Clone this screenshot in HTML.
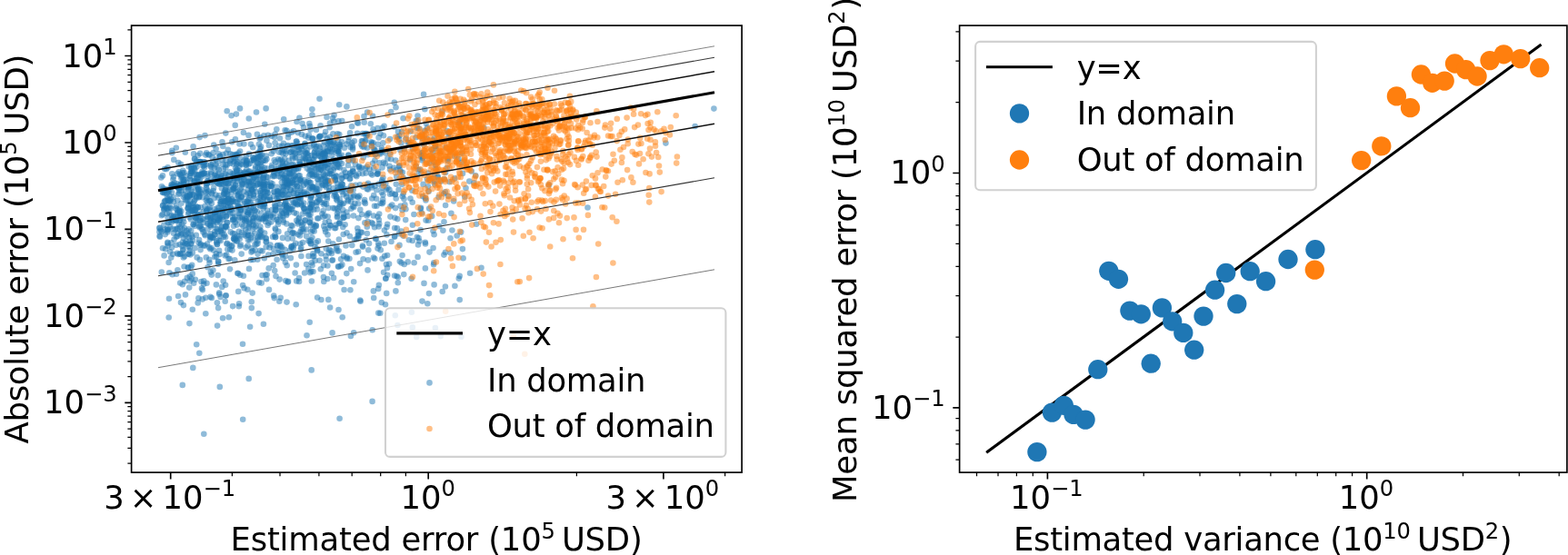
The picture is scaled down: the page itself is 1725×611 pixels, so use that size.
<!DOCTYPE html>
<html lang="en"><head><meta charset="utf-8"><title>Estimated vs. observed error</title>
<style>
html,body{margin:0;padding:0;background:#fff;overflow:hidden}
svg{display:block}
text{font-family:"DejaVu Sans", "Liberation Sans", sans-serif;fill:#000}
</style></head>
<body>
<svg width="1725" height="611" viewBox="0 0 1725 611">
<rect width="1725" height="611" fill="#fff"/>
<defs><clipPath id="cl"><rect x="144.6" y="28.1" width="671.5" height="492"/></clipPath><clipPath id="cr"><rect x="1055.6" y="28.1" width="668.3" height="492"/></clipPath></defs>
<g clip-path="url(#cl)" fill="#1f77b4" fill-opacity="0.5"><circle cx="210.4" cy="267.9" r="3.3"/><circle cx="298.6" cy="205.2" r="3.3"/><circle cx="322.9" cy="187.4" r="3.3"/><circle cx="184.4" cy="266.9" r="3.3"/><circle cx="215.0" cy="181.1" r="3.3"/><circle cx="429.5" cy="227.3" r="3.3"/><circle cx="196.1" cy="326.0" r="3.3"/><circle cx="210.7" cy="184.7" r="3.3"/><circle cx="445.4" cy="225.4" r="3.3"/><circle cx="327.7" cy="146.1" r="3.3"/><circle cx="267.6" cy="177.5" r="3.3"/><circle cx="301.4" cy="190.2" r="3.3"/><circle cx="337.5" cy="369.3" r="3.3"/><circle cx="245.3" cy="170.1" r="3.3"/><circle cx="212.6" cy="223.7" r="3.3"/><circle cx="367.7" cy="194.8" r="3.3"/><circle cx="339.3" cy="170.8" r="3.3"/><circle cx="301.7" cy="328.1" r="3.3"/><circle cx="376.0" cy="170.9" r="3.3"/><circle cx="310.4" cy="280.4" r="3.3"/><circle cx="479.6" cy="186.1" r="3.3"/><circle cx="228.4" cy="252.2" r="3.3"/><circle cx="311.5" cy="242.4" r="3.3"/><circle cx="294.8" cy="235.0" r="3.3"/><circle cx="263.8" cy="262.8" r="3.3"/><circle cx="320.5" cy="271.6" r="3.3"/><circle cx="235.8" cy="185.0" r="3.3"/><circle cx="371.6" cy="154.4" r="3.3"/><circle cx="394.6" cy="191.3" r="3.3"/><circle cx="210.4" cy="185.4" r="3.3"/><circle cx="290.9" cy="224.9" r="3.3"/><circle cx="245.7" cy="309.6" r="3.3"/><circle cx="199.4" cy="232.5" r="3.3"/><circle cx="408.9" cy="157.5" r="3.3"/><circle cx="282.1" cy="173.9" r="3.3"/><circle cx="214.9" cy="231.6" r="3.3"/><circle cx="340.0" cy="237.3" r="3.3"/><circle cx="227.9" cy="268.6" r="3.3"/><circle cx="412.0" cy="226.7" r="3.3"/><circle cx="231.4" cy="221.3" r="3.3"/><circle cx="227.5" cy="230.3" r="3.3"/><circle cx="262.0" cy="241.9" r="3.3"/><circle cx="291.3" cy="136.7" r="3.3"/><circle cx="414.8" cy="191.8" r="3.3"/><circle cx="345.7" cy="158.6" r="3.3"/><circle cx="260.5" cy="188.6" r="3.3"/><circle cx="180.8" cy="212.4" r="3.3"/><circle cx="217.8" cy="235.8" r="3.3"/><circle cx="510.0" cy="128.0" r="3.3"/><circle cx="289.1" cy="241.4" r="3.3"/><circle cx="344.2" cy="193.8" r="3.3"/><circle cx="191.9" cy="201.3" r="3.3"/><circle cx="186.0" cy="328.8" r="3.3"/><circle cx="385.8" cy="217.1" r="3.3"/><circle cx="319.6" cy="191.7" r="3.3"/><circle cx="253.2" cy="179.8" r="3.3"/><circle cx="255.3" cy="219.9" r="3.3"/><circle cx="200.9" cy="266.7" r="3.3"/><circle cx="220.9" cy="228.4" r="3.3"/><circle cx="183.2" cy="212.9" r="3.3"/><circle cx="383.4" cy="155.6" r="3.3"/><circle cx="290.7" cy="184.5" r="3.3"/><circle cx="210.0" cy="268.5" r="3.3"/><circle cx="355.6" cy="166.0" r="3.3"/><circle cx="226.3" cy="345.3" r="3.3"/><circle cx="193.8" cy="260.8" r="3.3"/><circle cx="322.1" cy="198.6" r="3.3"/><circle cx="408.8" cy="159.9" r="3.3"/><circle cx="183.9" cy="229.8" r="3.3"/><circle cx="372.5" cy="293.8" r="3.3"/><circle cx="225.0" cy="184.3" r="3.3"/><circle cx="201.8" cy="202.4" r="3.3"/><circle cx="181.1" cy="186.0" r="3.3"/><circle cx="249.5" cy="250.2" r="3.3"/><circle cx="352.8" cy="296.3" r="3.3"/><circle cx="297.1" cy="219.9" r="3.3"/><circle cx="388.5" cy="175.3" r="3.3"/><circle cx="231.5" cy="326.9" r="3.3"/><circle cx="254.8" cy="230.8" r="3.3"/><circle cx="241.2" cy="322.3" r="3.3"/><circle cx="476.2" cy="168.1" r="3.3"/><circle cx="439.3" cy="149.6" r="3.3"/><circle cx="260.8" cy="170.8" r="3.3"/><circle cx="283.5" cy="190.5" r="3.3"/><circle cx="254.6" cy="213.8" r="3.3"/><circle cx="357.4" cy="237.6" r="3.3"/><circle cx="187.8" cy="229.5" r="3.3"/><circle cx="195.3" cy="206.3" r="3.3"/><circle cx="275.9" cy="286.1" r="3.3"/><circle cx="238.1" cy="232.6" r="3.3"/><circle cx="385.6" cy="209.7" r="3.3"/><circle cx="356.3" cy="248.9" r="3.3"/><circle cx="309.6" cy="231.8" r="3.3"/><circle cx="337.1" cy="178.3" r="3.3"/><circle cx="344.5" cy="299.0" r="3.3"/><circle cx="365.8" cy="164.4" r="3.3"/><circle cx="429.0" cy="153.1" r="3.3"/><circle cx="215.4" cy="245.5" r="3.3"/><circle cx="328.7" cy="217.3" r="3.3"/><circle cx="213.9" cy="198.6" r="3.3"/><circle cx="285.2" cy="240.6" r="3.3"/><circle cx="367.2" cy="156.6" r="3.3"/><circle cx="408.2" cy="191.3" r="3.3"/><circle cx="360.4" cy="292.5" r="3.3"/><circle cx="186.4" cy="300.2" r="3.3"/><circle cx="265.3" cy="231.0" r="3.3"/><circle cx="218.6" cy="267.6" r="3.3"/><circle cx="523.2" cy="193.2" r="3.3"/><circle cx="214.0" cy="199.1" r="3.3"/><circle cx="237.9" cy="279.3" r="3.3"/><circle cx="264.8" cy="232.0" r="3.3"/><circle cx="193.6" cy="242.7" r="3.3"/><circle cx="396.0" cy="290.1" r="3.3"/><circle cx="331.2" cy="214.1" r="3.3"/><circle cx="217.8" cy="208.5" r="3.3"/><circle cx="298.3" cy="204.9" r="3.3"/><circle cx="198.2" cy="237.2" r="3.3"/><circle cx="325.1" cy="267.9" r="3.3"/><circle cx="234.9" cy="275.6" r="3.3"/><circle cx="187.4" cy="221.7" r="3.3"/><circle cx="207.2" cy="228.2" r="3.3"/><circle cx="311.9" cy="157.7" r="3.3"/><circle cx="331.3" cy="223.8" r="3.3"/><circle cx="257.0" cy="262.7" r="3.3"/><circle cx="332.9" cy="174.2" r="3.3"/><circle cx="263.5" cy="235.3" r="3.3"/><circle cx="210.9" cy="189.3" r="3.3"/><circle cx="254.8" cy="271.2" r="3.3"/><circle cx="273.8" cy="246.9" r="3.3"/><circle cx="418.8" cy="275.3" r="3.3"/><circle cx="207.3" cy="205.8" r="3.3"/><circle cx="200.1" cy="194.6" r="3.3"/><circle cx="313.4" cy="218.6" r="3.3"/><circle cx="459.5" cy="133.4" r="3.3"/><circle cx="415.4" cy="238.6" r="3.3"/><circle cx="346.4" cy="172.6" r="3.3"/><circle cx="195.1" cy="191.2" r="3.3"/><circle cx="372.8" cy="161.6" r="3.3"/><circle cx="342.4" cy="230.7" r="3.3"/><circle cx="214.0" cy="174.8" r="3.3"/><circle cx="290.4" cy="206.2" r="3.3"/><circle cx="190.4" cy="197.6" r="3.3"/><circle cx="371.5" cy="238.2" r="3.3"/><circle cx="350.7" cy="151.8" r="3.3"/><circle cx="372.3" cy="167.1" r="3.3"/><circle cx="360.7" cy="238.5" r="3.3"/><circle cx="243.4" cy="224.8" r="3.3"/><circle cx="368.2" cy="158.6" r="3.3"/><circle cx="239.1" cy="358.6" r="3.3"/><circle cx="212.6" cy="214.4" r="3.3"/><circle cx="272.7" cy="209.1" r="3.3"/><circle cx="298.2" cy="244.4" r="3.3"/><circle cx="247.8" cy="221.4" r="3.3"/><circle cx="323.9" cy="256.8" r="3.3"/><circle cx="323.1" cy="212.9" r="3.3"/><circle cx="236.8" cy="196.4" r="3.3"/><circle cx="327.9" cy="212.1" r="3.3"/><circle cx="264.8" cy="269.4" r="3.3"/><circle cx="354.6" cy="179.4" r="3.3"/><circle cx="248.9" cy="237.9" r="3.3"/><circle cx="370.7" cy="209.5" r="3.3"/><circle cx="278.5" cy="240.4" r="3.3"/><circle cx="311.4" cy="195.8" r="3.3"/><circle cx="340.0" cy="176.1" r="3.3"/><circle cx="303.1" cy="232.1" r="3.3"/><circle cx="241.1" cy="275.9" r="3.3"/><circle cx="477.6" cy="178.6" r="3.3"/><circle cx="202.6" cy="190.3" r="3.3"/><circle cx="257.1" cy="262.9" r="3.3"/><circle cx="310.4" cy="214.3" r="3.3"/><circle cx="184.4" cy="255.5" r="3.3"/><circle cx="216.6" cy="183.5" r="3.3"/><circle cx="370.8" cy="239.1" r="3.3"/><circle cx="366.6" cy="187.4" r="3.3"/><circle cx="331.3" cy="272.6" r="3.3"/><circle cx="412.2" cy="165.7" r="3.3"/><circle cx="359.5" cy="128.9" r="3.3"/><circle cx="250.9" cy="202.0" r="3.3"/><circle cx="333.2" cy="235.4" r="3.3"/><circle cx="260.7" cy="247.6" r="3.3"/><circle cx="358.2" cy="255.2" r="3.3"/><circle cx="271.3" cy="186.5" r="3.3"/><circle cx="216.2" cy="238.5" r="3.3"/><circle cx="398.9" cy="147.0" r="3.3"/><circle cx="344.0" cy="175.2" r="3.3"/><circle cx="356.9" cy="148.7" r="3.3"/><circle cx="312.9" cy="225.7" r="3.3"/><circle cx="366.3" cy="268.3" r="3.3"/><circle cx="286.3" cy="227.0" r="3.3"/><circle cx="314.4" cy="222.2" r="3.3"/><circle cx="194.0" cy="301.8" r="3.3"/><circle cx="311.8" cy="192.4" r="3.3"/><circle cx="375.3" cy="206.1" r="3.3"/><circle cx="347.6" cy="248.1" r="3.3"/><circle cx="371.9" cy="167.0" r="3.3"/><circle cx="297.8" cy="238.5" r="3.3"/><circle cx="401.2" cy="147.3" r="3.3"/><circle cx="205.5" cy="215.5" r="3.3"/><circle cx="398.5" cy="161.2" r="3.3"/><circle cx="268.1" cy="211.3" r="3.3"/><circle cx="201.3" cy="198.1" r="3.3"/><circle cx="327.1" cy="157.5" r="3.3"/><circle cx="288.0" cy="209.1" r="3.3"/><circle cx="281.7" cy="204.3" r="3.3"/><circle cx="388.2" cy="227.3" r="3.3"/><circle cx="212.6" cy="161.2" r="3.3"/><circle cx="326.5" cy="224.2" r="3.3"/><circle cx="278.2" cy="162.2" r="3.3"/><circle cx="305.5" cy="210.6" r="3.3"/><circle cx="298.6" cy="149.7" r="3.3"/><circle cx="211.7" cy="301.4" r="3.3"/><circle cx="301.6" cy="211.5" r="3.3"/><circle cx="392.3" cy="194.3" r="3.3"/><circle cx="220.5" cy="178.1" r="3.3"/><circle cx="179.0" cy="273.3" r="3.3"/><circle cx="195.3" cy="206.0" r="3.3"/><circle cx="289.2" cy="211.7" r="3.3"/><circle cx="471.6" cy="210.7" r="3.3"/><circle cx="189.0" cy="272.5" r="3.3"/><circle cx="495.5" cy="166.2" r="3.3"/><circle cx="307.3" cy="160.8" r="3.3"/><circle cx="208.4" cy="356.1" r="3.3"/><circle cx="279.3" cy="189.9" r="3.3"/><circle cx="229.1" cy="170.2" r="3.3"/><circle cx="349.7" cy="218.1" r="3.3"/><circle cx="308.6" cy="271.2" r="3.3"/><circle cx="248.3" cy="175.9" r="3.3"/><circle cx="240.5" cy="169.2" r="3.3"/><circle cx="394.4" cy="217.8" r="3.3"/><circle cx="362.1" cy="210.2" r="3.3"/><circle cx="283.5" cy="189.6" r="3.3"/><circle cx="276.2" cy="191.6" r="3.3"/><circle cx="355.2" cy="238.7" r="3.3"/><circle cx="467.3" cy="120.3" r="3.3"/><circle cx="198.5" cy="202.6" r="3.3"/><circle cx="217.6" cy="212.6" r="3.3"/><circle cx="266.0" cy="255.7" r="3.3"/><circle cx="300.6" cy="192.7" r="3.3"/><circle cx="196.3" cy="179.1" r="3.3"/><circle cx="191.6" cy="263.5" r="3.3"/><circle cx="232.0" cy="248.0" r="3.3"/><circle cx="271.6" cy="177.1" r="3.3"/><circle cx="355.7" cy="232.1" r="3.3"/><circle cx="324.9" cy="222.9" r="3.3"/><circle cx="184.6" cy="219.0" r="3.3"/><circle cx="189.2" cy="241.4" r="3.3"/><circle cx="287.3" cy="215.6" r="3.3"/><circle cx="398.1" cy="236.0" r="3.3"/><circle cx="420.4" cy="284.7" r="3.3"/><circle cx="266.6" cy="201.6" r="3.3"/><circle cx="404.3" cy="148.8" r="3.3"/><circle cx="430.2" cy="175.3" r="3.3"/><circle cx="276.5" cy="228.5" r="3.3"/><circle cx="357.3" cy="176.3" r="3.3"/><circle cx="266.7" cy="181.1" r="3.3"/><circle cx="216.3" cy="196.3" r="3.3"/><circle cx="316.6" cy="262.8" r="3.3"/><circle cx="200.2" cy="257.3" r="3.3"/><circle cx="337.6" cy="165.2" r="3.3"/><circle cx="373.7" cy="178.2" r="3.3"/><circle cx="420.7" cy="166.7" r="3.3"/><circle cx="286.4" cy="172.6" r="3.3"/><circle cx="207.7" cy="279.5" r="3.3"/><circle cx="412.6" cy="170.2" r="3.3"/><circle cx="396.0" cy="203.4" r="3.3"/><circle cx="463.9" cy="171.3" r="3.3"/><circle cx="321.1" cy="160.2" r="3.3"/><circle cx="340.0" cy="148.9" r="3.3"/><circle cx="268.6" cy="242.4" r="3.3"/><circle cx="223.3" cy="241.4" r="3.3"/><circle cx="249.2" cy="221.2" r="3.3"/><circle cx="351.2" cy="168.7" r="3.3"/><circle cx="257.1" cy="203.2" r="3.3"/><circle cx="344.3" cy="206.0" r="3.3"/><circle cx="299.2" cy="182.1" r="3.3"/><circle cx="286.6" cy="224.0" r="3.3"/><circle cx="463.9" cy="234.5" r="3.3"/><circle cx="219.3" cy="192.0" r="3.3"/><circle cx="295.7" cy="295.4" r="3.3"/><circle cx="217.8" cy="228.4" r="3.3"/><circle cx="436.5" cy="304.0" r="3.3"/><circle cx="296.0" cy="318.9" r="3.3"/><circle cx="258.8" cy="170.0" r="3.3"/><circle cx="219.8" cy="249.2" r="3.3"/><circle cx="321.1" cy="181.3" r="3.3"/><circle cx="274.7" cy="231.5" r="3.3"/><circle cx="210.0" cy="293.9" r="3.3"/><circle cx="185.5" cy="228.7" r="3.3"/><circle cx="272.9" cy="235.9" r="3.3"/><circle cx="318.5" cy="229.9" r="3.3"/><circle cx="303.2" cy="178.4" r="3.3"/><circle cx="411.2" cy="185.4" r="3.3"/><circle cx="418.2" cy="169.4" r="3.3"/><circle cx="435.6" cy="187.3" r="3.3"/><circle cx="370.9" cy="235.1" r="3.3"/><circle cx="293.4" cy="175.3" r="3.3"/><circle cx="304.4" cy="218.2" r="3.3"/><circle cx="274.3" cy="218.1" r="3.3"/><circle cx="274.8" cy="204.9" r="3.3"/><circle cx="188.2" cy="283.6" r="3.3"/><circle cx="370.7" cy="184.2" r="3.3"/><circle cx="238.3" cy="265.4" r="3.3"/><circle cx="184.6" cy="184.4" r="3.3"/><circle cx="290.8" cy="208.1" r="3.3"/><circle cx="350.6" cy="160.9" r="3.3"/><circle cx="283.5" cy="268.1" r="3.3"/><circle cx="266.4" cy="238.6" r="3.3"/><circle cx="336.4" cy="175.2" r="3.3"/><circle cx="218.5" cy="213.5" r="3.3"/><circle cx="179.0" cy="193.4" r="3.3"/><circle cx="320.7" cy="272.8" r="3.3"/><circle cx="306.0" cy="278.0" r="3.3"/><circle cx="393.9" cy="262.4" r="3.3"/><circle cx="278.7" cy="228.9" r="3.3"/><circle cx="367.2" cy="175.5" r="3.3"/><circle cx="181.1" cy="229.2" r="3.3"/><circle cx="184.0" cy="253.2" r="3.3"/><circle cx="322.2" cy="201.0" r="3.3"/><circle cx="233.6" cy="173.3" r="3.3"/><circle cx="195.3" cy="234.3" r="3.3"/><circle cx="210.2" cy="182.6" r="3.3"/><circle cx="268.9" cy="189.6" r="3.3"/><circle cx="260.0" cy="265.2" r="3.3"/><circle cx="313.9" cy="223.7" r="3.3"/><circle cx="404.4" cy="235.6" r="3.3"/><circle cx="266.8" cy="240.6" r="3.3"/><circle cx="223.6" cy="245.2" r="3.3"/><circle cx="317.3" cy="182.4" r="3.3"/><circle cx="175.9" cy="260.8" r="3.3"/><circle cx="271.3" cy="177.0" r="3.3"/><circle cx="255.2" cy="156.2" r="3.3"/><circle cx="271.9" cy="200.4" r="3.3"/><circle cx="190.8" cy="194.7" r="3.3"/><circle cx="311.6" cy="234.9" r="3.3"/><circle cx="328.3" cy="184.7" r="3.3"/><circle cx="358.1" cy="145.1" r="3.3"/><circle cx="453.7" cy="222.8" r="3.3"/><circle cx="264.2" cy="302.8" r="3.3"/><circle cx="335.9" cy="233.0" r="3.3"/><circle cx="284.9" cy="311.1" r="3.3"/><circle cx="230.9" cy="263.5" r="3.3"/><circle cx="405.3" cy="275.2" r="3.3"/><circle cx="357.2" cy="223.7" r="3.3"/><circle cx="440.7" cy="226.8" r="3.3"/><circle cx="377.5" cy="240.0" r="3.3"/><circle cx="422.0" cy="149.3" r="3.3"/><circle cx="210.2" cy="209.2" r="3.3"/><circle cx="180.4" cy="247.6" r="3.3"/><circle cx="227.0" cy="206.4" r="3.3"/><circle cx="277.8" cy="276.4" r="3.3"/><circle cx="343.4" cy="153.1" r="3.3"/><circle cx="284.1" cy="174.9" r="3.3"/><circle cx="301.9" cy="193.9" r="3.3"/><circle cx="360.8" cy="185.2" r="3.3"/><circle cx="196.1" cy="280.0" r="3.3"/><circle cx="341.1" cy="139.1" r="3.3"/><circle cx="190.2" cy="279.8" r="3.3"/><circle cx="238.9" cy="333.3" r="3.3"/><circle cx="351.6" cy="150.6" r="3.3"/><circle cx="342.3" cy="298.8" r="3.3"/><circle cx="276.2" cy="236.3" r="3.3"/><circle cx="249.9" cy="181.4" r="3.3"/><circle cx="379.6" cy="247.3" r="3.3"/><circle cx="245.1" cy="180.7" r="3.3"/><circle cx="185.2" cy="220.6" r="3.3"/><circle cx="238.6" cy="195.3" r="3.3"/><circle cx="182.1" cy="221.2" r="3.3"/><circle cx="374.1" cy="161.1" r="3.3"/><circle cx="208.9" cy="215.9" r="3.3"/><circle cx="471.0" cy="190.6" r="3.3"/><circle cx="230.4" cy="221.4" r="3.3"/><circle cx="252.6" cy="223.8" r="3.3"/><circle cx="319.0" cy="275.9" r="3.3"/><circle cx="253.1" cy="274.7" r="3.3"/><circle cx="270.0" cy="175.6" r="3.3"/><circle cx="204.6" cy="259.8" r="3.3"/><circle cx="272.3" cy="258.7" r="3.3"/><circle cx="233.1" cy="213.2" r="3.3"/><circle cx="416.8" cy="270.4" r="3.3"/><circle cx="246.6" cy="228.8" r="3.3"/><circle cx="244.2" cy="219.5" r="3.3"/><circle cx="341.4" cy="206.7" r="3.3"/><circle cx="402.0" cy="185.5" r="3.3"/><circle cx="250.2" cy="245.0" r="3.3"/><circle cx="269.3" cy="222.0" r="3.3"/><circle cx="349.8" cy="265.4" r="3.3"/><circle cx="368.8" cy="197.6" r="3.3"/><circle cx="325.8" cy="155.8" r="3.3"/><circle cx="222.4" cy="189.1" r="3.3"/><circle cx="222.8" cy="217.2" r="3.3"/><circle cx="360.1" cy="199.4" r="3.3"/><circle cx="347.9" cy="248.9" r="3.3"/><circle cx="409.1" cy="204.1" r="3.3"/><circle cx="365.5" cy="165.3" r="3.3"/><circle cx="280.0" cy="195.0" r="3.3"/><circle cx="211.5" cy="232.7" r="3.3"/><circle cx="405.9" cy="234.6" r="3.3"/><circle cx="345.2" cy="231.0" r="3.3"/><circle cx="316.9" cy="226.5" r="3.3"/><circle cx="342.0" cy="178.9" r="3.3"/><circle cx="271.4" cy="226.0" r="3.3"/><circle cx="261.4" cy="192.0" r="3.3"/><circle cx="316.7" cy="160.1" r="3.3"/><circle cx="294.6" cy="247.9" r="3.3"/><circle cx="348.4" cy="222.2" r="3.3"/><circle cx="435.4" cy="320.4" r="3.3"/><circle cx="386.4" cy="229.8" r="3.3"/><circle cx="272.0" cy="191.0" r="3.3"/><circle cx="268.4" cy="158.5" r="3.3"/><circle cx="428.5" cy="182.8" r="3.3"/><circle cx="273.7" cy="200.2" r="3.3"/><circle cx="371.1" cy="202.3" r="3.3"/><circle cx="201.8" cy="216.7" r="3.3"/><circle cx="287.1" cy="161.6" r="3.3"/><circle cx="302.6" cy="163.2" r="3.3"/><circle cx="373.6" cy="184.6" r="3.3"/><circle cx="399.4" cy="205.6" r="3.3"/><circle cx="216.1" cy="192.4" r="3.3"/><circle cx="326.6" cy="173.3" r="3.3"/><circle cx="329.5" cy="178.6" r="3.3"/><circle cx="215.8" cy="258.9" r="3.3"/><circle cx="381.4" cy="233.5" r="3.3"/><circle cx="311.4" cy="209.7" r="3.3"/><circle cx="457.8" cy="133.0" r="3.3"/><circle cx="224.1" cy="312.7" r="3.3"/><circle cx="304.7" cy="270.5" r="3.3"/><circle cx="256.7" cy="199.0" r="3.3"/><circle cx="332.6" cy="136.1" r="3.3"/><circle cx="324.4" cy="207.9" r="3.3"/><circle cx="301.7" cy="176.4" r="3.3"/><circle cx="257.1" cy="207.5" r="3.3"/><circle cx="299.7" cy="202.2" r="3.3"/><circle cx="268.3" cy="198.0" r="3.3"/><circle cx="406.1" cy="268.1" r="3.3"/><circle cx="289.6" cy="202.8" r="3.3"/><circle cx="292.8" cy="171.5" r="3.3"/><circle cx="241.3" cy="231.8" r="3.3"/><circle cx="240.2" cy="288.1" r="3.3"/><circle cx="450.4" cy="157.2" r="3.3"/><circle cx="254.5" cy="221.9" r="3.3"/><circle cx="395.1" cy="183.0" r="3.3"/><circle cx="321.3" cy="230.4" r="3.3"/><circle cx="479.1" cy="161.0" r="3.3"/><circle cx="218.8" cy="200.6" r="3.3"/><circle cx="439.8" cy="287.8" r="3.3"/><circle cx="363.6" cy="248.3" r="3.3"/><circle cx="314.9" cy="235.5" r="3.3"/><circle cx="348.4" cy="223.0" r="3.3"/><circle cx="351.6" cy="286.8" r="3.3"/><circle cx="286.4" cy="163.8" r="3.3"/><circle cx="330.7" cy="201.2" r="3.3"/><circle cx="234.2" cy="238.9" r="3.3"/><circle cx="340.7" cy="354.7" r="3.3"/><circle cx="292.7" cy="237.0" r="3.3"/><circle cx="414.4" cy="226.8" r="3.3"/><circle cx="242.6" cy="326.9" r="3.3"/><circle cx="376.3" cy="208.4" r="3.3"/><circle cx="487.4" cy="253.7" r="3.3"/><circle cx="410.1" cy="179.8" r="3.3"/><circle cx="460.6" cy="262.0" r="3.3"/><circle cx="217.6" cy="228.4" r="3.3"/><circle cx="219.1" cy="264.1" r="3.3"/><circle cx="234.1" cy="199.7" r="3.3"/><circle cx="265.8" cy="216.5" r="3.3"/><circle cx="207.2" cy="235.7" r="3.3"/><circle cx="215.6" cy="229.7" r="3.3"/><circle cx="433.3" cy="184.9" r="3.3"/><circle cx="265.7" cy="279.6" r="3.3"/><circle cx="328.7" cy="165.0" r="3.3"/><circle cx="287.9" cy="183.5" r="3.3"/><circle cx="356.6" cy="167.6" r="3.3"/><circle cx="372.8" cy="165.6" r="3.3"/><circle cx="270.9" cy="227.8" r="3.3"/><circle cx="307.1" cy="167.6" r="3.3"/><circle cx="202.9" cy="251.0" r="3.3"/><circle cx="247.7" cy="281.4" r="3.3"/><circle cx="232.8" cy="302.6" r="3.3"/><circle cx="253.2" cy="169.3" r="3.3"/><circle cx="257.0" cy="192.9" r="3.3"/><circle cx="316.6" cy="203.7" r="3.3"/><circle cx="258.9" cy="153.3" r="3.3"/><circle cx="257.5" cy="241.4" r="3.3"/><circle cx="380.7" cy="193.9" r="3.3"/><circle cx="179.2" cy="226.4" r="3.3"/><circle cx="393.8" cy="259.6" r="3.3"/><circle cx="330.5" cy="218.8" r="3.3"/><circle cx="353.0" cy="186.9" r="3.3"/><circle cx="453.9" cy="247.7" r="3.3"/><circle cx="231.6" cy="182.8" r="3.3"/><circle cx="423.8" cy="180.1" r="3.3"/><circle cx="237.5" cy="175.5" r="3.3"/><circle cx="303.2" cy="252.7" r="3.3"/><circle cx="341.8" cy="268.4" r="3.3"/><circle cx="370.2" cy="177.2" r="3.3"/><circle cx="238.8" cy="269.2" r="3.3"/><circle cx="293.3" cy="307.2" r="3.3"/><circle cx="189.3" cy="203.1" r="3.3"/><circle cx="248.3" cy="325.6" r="3.3"/><circle cx="479.7" cy="163.4" r="3.3"/><circle cx="414.1" cy="218.8" r="3.3"/><circle cx="318.3" cy="213.9" r="3.3"/><circle cx="367.3" cy="184.7" r="3.3"/><circle cx="412.4" cy="204.8" r="3.3"/><circle cx="258.7" cy="137.9" r="3.3"/><circle cx="479.0" cy="181.7" r="3.3"/><circle cx="286.5" cy="215.4" r="3.3"/><circle cx="217.6" cy="243.2" r="3.3"/><circle cx="305.9" cy="247.0" r="3.3"/><circle cx="321.0" cy="271.1" r="3.3"/><circle cx="344.6" cy="247.1" r="3.3"/><circle cx="339.4" cy="265.2" r="3.3"/><circle cx="188.2" cy="219.2" r="3.3"/><circle cx="331.8" cy="163.8" r="3.3"/><circle cx="424.9" cy="208.8" r="3.3"/><circle cx="339.2" cy="151.6" r="3.3"/><circle cx="472.5" cy="277.6" r="3.3"/><circle cx="301.5" cy="210.9" r="3.3"/><circle cx="374.0" cy="173.4" r="3.3"/><circle cx="213.1" cy="169.4" r="3.3"/><circle cx="408.7" cy="245.1" r="3.3"/><circle cx="283.6" cy="264.9" r="3.3"/><circle cx="399.0" cy="155.4" r="3.3"/><circle cx="256.1" cy="257.0" r="3.3"/><circle cx="328.3" cy="161.7" r="3.3"/><circle cx="386.1" cy="221.9" r="3.3"/><circle cx="349.0" cy="208.0" r="3.3"/><circle cx="327.3" cy="224.8" r="3.3"/><circle cx="467.2" cy="143.7" r="3.3"/><circle cx="200.6" cy="270.7" r="3.3"/><circle cx="204.0" cy="268.9" r="3.3"/><circle cx="311.0" cy="261.9" r="3.3"/><circle cx="451.1" cy="175.8" r="3.3"/><circle cx="343.1" cy="179.1" r="3.3"/><circle cx="253.4" cy="226.8" r="3.3"/><circle cx="205.4" cy="254.1" r="3.3"/><circle cx="286.4" cy="249.6" r="3.3"/><circle cx="294.0" cy="208.5" r="3.3"/><circle cx="291.2" cy="227.1" r="3.3"/><circle cx="327.1" cy="225.5" r="3.3"/><circle cx="244.7" cy="233.2" r="3.3"/><circle cx="400.8" cy="222.5" r="3.3"/><circle cx="248.4" cy="201.3" r="3.3"/><circle cx="205.2" cy="200.8" r="3.3"/><circle cx="262.8" cy="196.5" r="3.3"/><circle cx="435.1" cy="229.1" r="3.3"/><circle cx="217.7" cy="333.4" r="3.3"/><circle cx="245.8" cy="202.7" r="3.3"/><circle cx="428.4" cy="208.7" r="3.3"/><circle cx="262.6" cy="228.8" r="3.3"/><circle cx="384.8" cy="260.0" r="3.3"/><circle cx="189.3" cy="165.9" r="3.3"/><circle cx="404.9" cy="208.6" r="3.3"/><circle cx="236.2" cy="282.9" r="3.3"/><circle cx="222.7" cy="329.4" r="3.3"/><circle cx="356.4" cy="194.0" r="3.3"/><circle cx="492.7" cy="177.1" r="3.3"/><circle cx="455.4" cy="236.0" r="3.3"/><circle cx="358.8" cy="286.0" r="3.3"/><circle cx="419.9" cy="163.1" r="3.3"/><circle cx="488.5" cy="244.2" r="3.3"/><circle cx="311.3" cy="169.2" r="3.3"/><circle cx="214.2" cy="175.2" r="3.3"/><circle cx="387.1" cy="139.3" r="3.3"/><circle cx="274.0" cy="169.4" r="3.3"/><circle cx="254.2" cy="176.1" r="3.3"/><circle cx="298.9" cy="184.3" r="3.3"/><circle cx="186.3" cy="209.9" r="3.3"/><circle cx="242.7" cy="265.1" r="3.3"/><circle cx="321.5" cy="165.3" r="3.3"/><circle cx="358.1" cy="169.2" r="3.3"/><circle cx="453.4" cy="209.7" r="3.3"/><circle cx="376.4" cy="211.0" r="3.3"/><circle cx="439.4" cy="182.6" r="3.3"/><circle cx="331.2" cy="199.4" r="3.3"/><circle cx="354.4" cy="235.2" r="3.3"/><circle cx="319.5" cy="208.7" r="3.3"/><circle cx="198.9" cy="258.4" r="3.3"/><circle cx="193.8" cy="162.7" r="3.3"/><circle cx="360.6" cy="157.9" r="3.3"/><circle cx="227.9" cy="191.4" r="3.3"/><circle cx="368.2" cy="211.5" r="3.3"/><circle cx="290.2" cy="224.0" r="3.3"/><circle cx="313.4" cy="274.7" r="3.3"/><circle cx="285.2" cy="258.8" r="3.3"/><circle cx="197.0" cy="212.8" r="3.3"/><circle cx="241.9" cy="172.0" r="3.3"/><circle cx="252.7" cy="284.8" r="3.3"/><circle cx="262.0" cy="301.1" r="3.3"/><circle cx="347.9" cy="143.0" r="3.3"/><circle cx="219.6" cy="151.1" r="3.3"/><circle cx="285.2" cy="180.4" r="3.3"/><circle cx="324.1" cy="193.6" r="3.3"/><circle cx="443.7" cy="213.2" r="3.3"/><circle cx="207.1" cy="224.7" r="3.3"/><circle cx="198.4" cy="250.1" r="3.3"/><circle cx="225.4" cy="270.6" r="3.3"/><circle cx="232.3" cy="189.6" r="3.3"/><circle cx="218.5" cy="206.7" r="3.3"/><circle cx="229.6" cy="230.0" r="3.3"/><circle cx="232.9" cy="224.1" r="3.3"/><circle cx="293.9" cy="219.8" r="3.3"/><circle cx="333.9" cy="212.3" r="3.3"/><circle cx="266.3" cy="247.3" r="3.3"/><circle cx="219.8" cy="285.9" r="3.3"/><circle cx="202.2" cy="244.6" r="3.3"/><circle cx="242.4" cy="238.5" r="3.3"/><circle cx="220.4" cy="235.9" r="3.3"/><circle cx="294.2" cy="185.6" r="3.3"/><circle cx="396.3" cy="230.9" r="3.3"/><circle cx="350.2" cy="171.2" r="3.3"/><circle cx="228.1" cy="199.2" r="3.3"/><circle cx="186.5" cy="215.5" r="3.3"/><circle cx="195.4" cy="234.3" r="3.3"/><circle cx="283.5" cy="261.3" r="3.3"/><circle cx="266.3" cy="203.3" r="3.3"/><circle cx="342.1" cy="217.3" r="3.3"/><circle cx="199.5" cy="223.7" r="3.3"/><circle cx="240.3" cy="217.7" r="3.3"/><circle cx="342.9" cy="309.5" r="3.3"/><circle cx="314.9" cy="227.8" r="3.3"/><circle cx="302.7" cy="147.5" r="3.3"/><circle cx="412.1" cy="250.2" r="3.3"/><circle cx="206.7" cy="229.6" r="3.3"/><circle cx="226.3" cy="327.7" r="3.3"/><circle cx="314.3" cy="169.2" r="3.3"/><circle cx="314.3" cy="309.1" r="3.3"/><circle cx="478.5" cy="200.0" r="3.3"/><circle cx="475.1" cy="196.2" r="3.3"/><circle cx="319.5" cy="209.4" r="3.3"/><circle cx="360.3" cy="307.0" r="3.3"/><circle cx="345.7" cy="254.6" r="3.3"/><circle cx="211.4" cy="231.3" r="3.3"/><circle cx="323.1" cy="195.4" r="3.3"/><circle cx="252.5" cy="209.3" r="3.3"/><circle cx="265.2" cy="216.8" r="3.3"/><circle cx="217.0" cy="192.7" r="3.3"/><circle cx="178.0" cy="205.4" r="3.3"/><circle cx="388.8" cy="216.6" r="3.3"/><circle cx="350.4" cy="240.2" r="3.3"/><circle cx="358.7" cy="273.8" r="3.3"/><circle cx="248.3" cy="184.7" r="3.3"/><circle cx="279.1" cy="195.9" r="3.3"/><circle cx="221.7" cy="192.4" r="3.3"/><circle cx="323.0" cy="223.6" r="3.3"/><circle cx="383.4" cy="176.7" r="3.3"/><circle cx="365.3" cy="181.9" r="3.3"/><circle cx="433.7" cy="139.8" r="3.3"/><circle cx="241.7" cy="259.8" r="3.3"/><circle cx="346.6" cy="286.9" r="3.3"/><circle cx="209.9" cy="189.0" r="3.3"/><circle cx="307.4" cy="210.7" r="3.3"/><circle cx="206.0" cy="268.2" r="3.3"/><circle cx="308.3" cy="269.9" r="3.3"/><circle cx="308.8" cy="195.3" r="3.3"/><circle cx="262.3" cy="168.6" r="3.3"/><circle cx="262.9" cy="254.8" r="3.3"/><circle cx="349.0" cy="230.5" r="3.3"/><circle cx="294.2" cy="202.7" r="3.3"/><circle cx="276.8" cy="339.1" r="3.3"/><circle cx="206.6" cy="256.6" r="3.3"/><circle cx="246.9" cy="230.3" r="3.3"/><circle cx="386.3" cy="208.0" r="3.3"/><circle cx="468.7" cy="135.8" r="3.3"/><circle cx="268.6" cy="317.2" r="3.3"/><circle cx="396.2" cy="330.5" r="3.3"/><circle cx="397.5" cy="159.2" r="3.3"/><circle cx="231.7" cy="260.7" r="3.3"/><circle cx="244.9" cy="231.7" r="3.3"/><circle cx="345.4" cy="193.5" r="3.3"/><circle cx="252.6" cy="231.7" r="3.3"/><circle cx="451.7" cy="144.6" r="3.3"/><circle cx="266.6" cy="202.6" r="3.3"/><circle cx="353.5" cy="185.4" r="3.3"/><circle cx="348.0" cy="226.5" r="3.3"/><circle cx="230.6" cy="228.4" r="3.3"/><circle cx="394.0" cy="135.7" r="3.3"/><circle cx="258.0" cy="197.3" r="3.3"/><circle cx="206.0" cy="216.9" r="3.3"/><circle cx="190.6" cy="217.4" r="3.3"/><circle cx="287.3" cy="254.2" r="3.3"/><circle cx="330.4" cy="255.4" r="3.3"/><circle cx="244.3" cy="315.9" r="3.3"/><circle cx="384.4" cy="284.7" r="3.3"/><circle cx="243.4" cy="221.8" r="3.3"/><circle cx="386.4" cy="204.3" r="3.3"/><circle cx="185.7" cy="244.9" r="3.3"/><circle cx="242.3" cy="224.1" r="3.3"/><circle cx="217.7" cy="171.0" r="3.3"/><circle cx="286.3" cy="172.4" r="3.3"/><circle cx="263.2" cy="260.3" r="3.3"/><circle cx="273.7" cy="250.6" r="3.3"/><circle cx="388.0" cy="176.9" r="3.3"/><circle cx="317.7" cy="176.9" r="3.3"/><circle cx="323.8" cy="216.5" r="3.3"/><circle cx="272.6" cy="270.4" r="3.3"/><circle cx="373.3" cy="148.0" r="3.3"/><circle cx="299.2" cy="231.1" r="3.3"/><circle cx="357.3" cy="172.9" r="3.3"/><circle cx="419.8" cy="165.3" r="3.3"/><circle cx="325.4" cy="202.2" r="3.3"/><circle cx="283.3" cy="179.2" r="3.3"/><circle cx="242.5" cy="254.8" r="3.3"/><circle cx="418.4" cy="147.1" r="3.3"/><circle cx="361.8" cy="201.7" r="3.3"/><circle cx="370.9" cy="220.7" r="3.3"/><circle cx="232.4" cy="273.0" r="3.3"/><circle cx="283.7" cy="221.8" r="3.3"/><circle cx="402.4" cy="154.3" r="3.3"/><circle cx="238.3" cy="267.2" r="3.3"/><circle cx="375.1" cy="285.2" r="3.3"/><circle cx="307.9" cy="152.3" r="3.3"/><circle cx="231.8" cy="299.6" r="3.3"/><circle cx="269.1" cy="232.5" r="3.3"/><circle cx="197.6" cy="242.2" r="3.3"/><circle cx="339.9" cy="193.8" r="3.3"/><circle cx="352.7" cy="166.8" r="3.3"/><circle cx="184.5" cy="244.8" r="3.3"/><circle cx="251.5" cy="285.0" r="3.3"/><circle cx="362.7" cy="140.3" r="3.3"/><circle cx="227.4" cy="231.9" r="3.3"/><circle cx="307.5" cy="227.8" r="3.3"/><circle cx="372.7" cy="276.4" r="3.3"/><circle cx="315.4" cy="143.7" r="3.3"/><circle cx="208.9" cy="214.9" r="3.3"/><circle cx="416.6" cy="151.4" r="3.3"/><circle cx="357.4" cy="182.3" r="3.3"/><circle cx="314.2" cy="281.9" r="3.3"/><circle cx="259.0" cy="185.3" r="3.3"/><circle cx="318.3" cy="194.4" r="3.3"/><circle cx="272.9" cy="264.0" r="3.3"/><circle cx="208.0" cy="261.6" r="3.3"/><circle cx="208.8" cy="304.4" r="3.3"/><circle cx="189.3" cy="191.2" r="3.3"/><circle cx="220.3" cy="178.3" r="3.3"/><circle cx="238.2" cy="193.6" r="3.3"/><circle cx="330.9" cy="207.0" r="3.3"/><circle cx="317.8" cy="231.6" r="3.3"/><circle cx="320.3" cy="167.3" r="3.3"/><circle cx="377.6" cy="214.2" r="3.3"/><circle cx="202.4" cy="199.9" r="3.3"/><circle cx="272.3" cy="318.8" r="3.3"/><circle cx="198.4" cy="237.2" r="3.3"/><circle cx="279.4" cy="177.1" r="3.3"/><circle cx="198.3" cy="279.7" r="3.3"/><circle cx="195.0" cy="230.9" r="3.3"/><circle cx="204.6" cy="265.7" r="3.3"/><circle cx="272.5" cy="222.6" r="3.3"/><circle cx="361.3" cy="265.6" r="3.3"/><circle cx="246.8" cy="198.5" r="3.3"/><circle cx="356.3" cy="310.0" r="3.3"/><circle cx="235.3" cy="159.6" r="3.3"/><circle cx="248.1" cy="208.8" r="3.3"/><circle cx="291.9" cy="176.9" r="3.3"/><circle cx="286.6" cy="151.4" r="3.3"/><circle cx="318.6" cy="186.7" r="3.3"/><circle cx="378.4" cy="187.0" r="3.3"/><circle cx="371.0" cy="276.3" r="3.3"/><circle cx="315.3" cy="246.4" r="3.3"/><circle cx="317.4" cy="214.2" r="3.3"/><circle cx="190.9" cy="222.1" r="3.3"/><circle cx="400.5" cy="161.9" r="3.3"/><circle cx="245.8" cy="185.9" r="3.3"/><circle cx="309.8" cy="201.1" r="3.3"/><circle cx="307.9" cy="224.7" r="3.3"/><circle cx="417.2" cy="246.4" r="3.3"/><circle cx="322.9" cy="181.0" r="3.3"/><circle cx="496.4" cy="234.9" r="3.3"/><circle cx="235.0" cy="243.7" r="3.3"/><circle cx="337.3" cy="169.2" r="3.3"/><circle cx="317.0" cy="151.3" r="3.3"/><circle cx="301.9" cy="151.1" r="3.3"/><circle cx="329.1" cy="310.0" r="3.3"/><circle cx="310.8" cy="183.3" r="3.3"/><circle cx="259.9" cy="170.2" r="3.3"/><circle cx="332.4" cy="226.2" r="3.3"/><circle cx="199.4" cy="206.3" r="3.3"/><circle cx="293.7" cy="302.3" r="3.3"/><circle cx="287.5" cy="234.8" r="3.3"/><circle cx="230.5" cy="289.3" r="3.3"/><circle cx="314.9" cy="228.2" r="3.3"/><circle cx="339.2" cy="235.7" r="3.3"/><circle cx="209.5" cy="224.8" r="3.3"/><circle cx="250.4" cy="213.6" r="3.3"/><circle cx="193.9" cy="269.7" r="3.3"/><circle cx="321.8" cy="174.5" r="3.3"/><circle cx="199.0" cy="180.9" r="3.3"/><circle cx="234.4" cy="297.5" r="3.3"/><circle cx="286.3" cy="202.7" r="3.3"/><circle cx="287.2" cy="221.9" r="3.3"/><circle cx="185.7" cy="221.7" r="3.3"/><circle cx="444.5" cy="219.0" r="3.3"/><circle cx="234.5" cy="261.7" r="3.3"/><circle cx="324.9" cy="174.1" r="3.3"/><circle cx="232.6" cy="261.2" r="3.3"/><circle cx="321.5" cy="189.3" r="3.3"/><circle cx="263.7" cy="227.2" r="3.3"/><circle cx="255.6" cy="219.1" r="3.3"/><circle cx="292.6" cy="266.3" r="3.3"/><circle cx="319.3" cy="200.7" r="3.3"/><circle cx="322.1" cy="256.1" r="3.3"/><circle cx="343.6" cy="292.0" r="3.3"/><circle cx="243.7" cy="231.4" r="3.3"/><circle cx="201.5" cy="275.2" r="3.3"/><circle cx="240.1" cy="287.7" r="3.3"/><circle cx="257.5" cy="190.9" r="3.3"/><circle cx="324.3" cy="203.5" r="3.3"/><circle cx="278.4" cy="286.0" r="3.3"/><circle cx="253.8" cy="255.4" r="3.3"/><circle cx="203.1" cy="282.3" r="3.3"/><circle cx="321.7" cy="220.9" r="3.3"/><circle cx="205.9" cy="216.5" r="3.3"/><circle cx="302.7" cy="251.5" r="3.3"/><circle cx="343.5" cy="188.5" r="3.3"/><circle cx="328.0" cy="217.3" r="3.3"/><circle cx="217.8" cy="195.9" r="3.3"/><circle cx="264.5" cy="208.5" r="3.3"/><circle cx="439.2" cy="182.9" r="3.3"/><circle cx="201.3" cy="187.8" r="3.3"/><circle cx="341.3" cy="161.5" r="3.3"/><circle cx="283.6" cy="279.5" r="3.3"/><circle cx="325.7" cy="335.3" r="3.3"/><circle cx="273.4" cy="180.7" r="3.3"/><circle cx="209.2" cy="214.4" r="3.3"/><circle cx="313.6" cy="231.6" r="3.3"/><circle cx="177.3" cy="195.5" r="3.3"/><circle cx="393.1" cy="146.9" r="3.3"/><circle cx="370.6" cy="271.5" r="3.3"/><circle cx="268.7" cy="194.8" r="3.3"/><circle cx="307.6" cy="307.6" r="3.3"/><circle cx="305.3" cy="214.4" r="3.3"/><circle cx="478.0" cy="191.5" r="3.3"/><circle cx="188.8" cy="237.1" r="3.3"/><circle cx="250.6" cy="222.6" r="3.3"/><circle cx="276.6" cy="191.9" r="3.3"/><circle cx="367.5" cy="215.8" r="3.3"/><circle cx="353.4" cy="197.1" r="3.3"/><circle cx="280.5" cy="269.1" r="3.3"/><circle cx="179.1" cy="211.4" r="3.3"/><circle cx="333.9" cy="173.5" r="3.3"/><circle cx="276.5" cy="273.2" r="3.3"/><circle cx="207.6" cy="233.3" r="3.3"/><circle cx="329.9" cy="178.2" r="3.3"/><circle cx="285.6" cy="252.8" r="3.3"/><circle cx="252.7" cy="198.1" r="3.3"/><circle cx="243.8" cy="250.4" r="3.3"/><circle cx="303.7" cy="230.9" r="3.3"/><circle cx="238.7" cy="201.2" r="3.3"/><circle cx="273.3" cy="234.4" r="3.3"/><circle cx="440.1" cy="187.2" r="3.3"/><circle cx="293.4" cy="154.7" r="3.3"/><circle cx="240.1" cy="339.1" r="3.3"/><circle cx="303.8" cy="186.3" r="3.3"/><circle cx="421.9" cy="178.9" r="3.3"/><circle cx="394.1" cy="258.3" r="3.3"/><circle cx="340.9" cy="229.0" r="3.3"/><circle cx="410.6" cy="157.4" r="3.3"/><circle cx="359.8" cy="219.1" r="3.3"/><circle cx="341.6" cy="142.8" r="3.3"/><circle cx="281.6" cy="248.5" r="3.3"/><circle cx="215.3" cy="239.9" r="3.3"/><circle cx="353.9" cy="222.9" r="3.3"/><circle cx="330.7" cy="215.2" r="3.3"/><circle cx="464.2" cy="168.2" r="3.3"/><circle cx="256.1" cy="239.2" r="3.3"/><circle cx="399.0" cy="191.2" r="3.3"/><circle cx="231.8" cy="257.3" r="3.3"/><circle cx="443.6" cy="130.2" r="3.3"/><circle cx="507.8" cy="150.8" r="3.3"/><circle cx="257.0" cy="221.9" r="3.3"/><circle cx="518.8" cy="188.5" r="3.3"/><circle cx="464.7" cy="153.4" r="3.3"/><circle cx="339.3" cy="295.7" r="3.3"/><circle cx="211.8" cy="214.5" r="3.3"/><circle cx="239.1" cy="252.4" r="3.3"/><circle cx="442.1" cy="145.1" r="3.3"/><circle cx="372.4" cy="133.4" r="3.3"/><circle cx="281.7" cy="193.2" r="3.3"/><circle cx="360.9" cy="199.0" r="3.3"/><circle cx="412.5" cy="164.9" r="3.3"/><circle cx="251.1" cy="203.2" r="3.3"/><circle cx="397.9" cy="155.3" r="3.3"/><circle cx="243.9" cy="207.3" r="3.3"/><circle cx="258.0" cy="261.2" r="3.3"/><circle cx="189.1" cy="212.0" r="3.3"/><circle cx="217.9" cy="236.7" r="3.3"/><circle cx="310.8" cy="179.5" r="3.3"/><circle cx="309.6" cy="191.5" r="3.3"/><circle cx="220.2" cy="168.9" r="3.3"/><circle cx="357.9" cy="200.0" r="3.3"/><circle cx="210.2" cy="254.3" r="3.3"/><circle cx="229.0" cy="217.0" r="3.3"/><circle cx="243.8" cy="193.0" r="3.3"/><circle cx="318.4" cy="190.6" r="3.3"/><circle cx="373.5" cy="245.7" r="3.3"/><circle cx="359.0" cy="174.4" r="3.3"/><circle cx="356.1" cy="184.8" r="3.3"/><circle cx="342.0" cy="228.4" r="3.3"/><circle cx="309.0" cy="184.1" r="3.3"/><circle cx="261.3" cy="300.8" r="3.3"/><circle cx="222.6" cy="190.9" r="3.3"/><circle cx="393.0" cy="135.1" r="3.3"/><circle cx="277.1" cy="209.1" r="3.3"/><circle cx="334.5" cy="211.4" r="3.3"/><circle cx="195.5" cy="239.2" r="3.3"/><circle cx="265.6" cy="199.8" r="3.3"/><circle cx="203.6" cy="267.8" r="3.3"/><circle cx="264.1" cy="271.0" r="3.3"/><circle cx="354.2" cy="202.2" r="3.3"/><circle cx="260.9" cy="265.6" r="3.3"/><circle cx="342.1" cy="248.1" r="3.3"/><circle cx="209.1" cy="193.9" r="3.3"/><circle cx="271.4" cy="178.6" r="3.3"/><circle cx="277.3" cy="176.6" r="3.3"/><circle cx="300.9" cy="166.4" r="3.3"/><circle cx="234.1" cy="261.8" r="3.3"/><circle cx="346.0" cy="192.0" r="3.3"/><circle cx="401.7" cy="155.8" r="3.3"/><circle cx="374.7" cy="205.3" r="3.3"/><circle cx="185.1" cy="211.1" r="3.3"/><circle cx="295.9" cy="159.9" r="3.3"/><circle cx="261.6" cy="210.5" r="3.3"/><circle cx="316.1" cy="257.3" r="3.3"/><circle cx="199.4" cy="256.1" r="3.3"/><circle cx="353.4" cy="330.0" r="3.3"/><circle cx="278.9" cy="214.0" r="3.3"/><circle cx="441.7" cy="289.4" r="3.3"/><circle cx="181.5" cy="221.1" r="3.3"/><circle cx="279.2" cy="215.6" r="3.3"/><circle cx="295.6" cy="245.6" r="3.3"/><circle cx="380.6" cy="194.3" r="3.3"/><circle cx="359.7" cy="166.1" r="3.3"/><circle cx="223.1" cy="252.7" r="3.3"/><circle cx="253.0" cy="296.2" r="3.3"/><circle cx="354.8" cy="187.7" r="3.3"/><circle cx="279.6" cy="207.5" r="3.3"/><circle cx="242.4" cy="202.4" r="3.3"/><circle cx="431.3" cy="212.9" r="3.3"/><circle cx="384.8" cy="197.3" r="3.3"/><circle cx="264.3" cy="189.8" r="3.3"/><circle cx="310.5" cy="279.3" r="3.3"/><circle cx="430.2" cy="123.0" r="3.3"/><circle cx="231.3" cy="274.3" r="3.3"/><circle cx="416.6" cy="249.4" r="3.3"/><circle cx="402.8" cy="149.7" r="3.3"/><circle cx="352.6" cy="138.3" r="3.3"/><circle cx="343.0" cy="222.7" r="3.3"/><circle cx="342.7" cy="214.9" r="3.3"/><circle cx="309.2" cy="175.6" r="3.3"/><circle cx="318.3" cy="202.5" r="3.3"/><circle cx="226.7" cy="181.0" r="3.3"/><circle cx="313.6" cy="201.2" r="3.3"/><circle cx="339.9" cy="208.8" r="3.3"/><circle cx="295.3" cy="280.6" r="3.3"/><circle cx="341.4" cy="192.1" r="3.3"/><circle cx="288.8" cy="177.6" r="3.3"/><circle cx="372.0" cy="293.2" r="3.3"/><circle cx="351.3" cy="220.0" r="3.3"/><circle cx="200.8" cy="190.4" r="3.3"/><circle cx="362.9" cy="150.9" r="3.3"/><circle cx="247.5" cy="209.3" r="3.3"/><circle cx="198.9" cy="202.7" r="3.3"/><circle cx="208.6" cy="214.6" r="3.3"/><circle cx="256.9" cy="195.7" r="3.3"/><circle cx="304.6" cy="285.7" r="3.3"/><circle cx="258.3" cy="264.4" r="3.3"/><circle cx="228.2" cy="246.2" r="3.3"/><circle cx="362.8" cy="156.1" r="3.3"/><circle cx="268.7" cy="258.4" r="3.3"/><circle cx="397.7" cy="184.7" r="3.3"/><circle cx="237.9" cy="282.2" r="3.3"/><circle cx="343.9" cy="152.3" r="3.3"/><circle cx="264.8" cy="180.4" r="3.3"/><circle cx="387.3" cy="157.0" r="3.3"/><circle cx="333.6" cy="252.0" r="3.3"/><circle cx="341.2" cy="300.2" r="3.3"/><circle cx="201.8" cy="262.1" r="3.3"/><circle cx="358.5" cy="181.8" r="3.3"/><circle cx="264.1" cy="166.5" r="3.3"/><circle cx="355.9" cy="305.1" r="3.3"/><circle cx="385.6" cy="161.9" r="3.3"/><circle cx="208.9" cy="272.8" r="3.3"/><circle cx="180.3" cy="231.1" r="3.3"/><circle cx="360.1" cy="184.8" r="3.3"/><circle cx="464.9" cy="174.2" r="3.3"/><circle cx="411.4" cy="145.5" r="3.3"/><circle cx="283.4" cy="173.7" r="3.3"/><circle cx="381.5" cy="256.4" r="3.3"/><circle cx="182.8" cy="228.6" r="3.3"/><circle cx="192.9" cy="252.6" r="3.3"/><circle cx="318.1" cy="191.6" r="3.3"/><circle cx="305.3" cy="210.2" r="3.3"/><circle cx="378.5" cy="239.6" r="3.3"/><circle cx="235.3" cy="241.6" r="3.3"/><circle cx="289.8" cy="203.8" r="3.3"/><circle cx="492.8" cy="174.8" r="3.3"/><circle cx="251.8" cy="349.2" r="3.3"/><circle cx="276.0" cy="158.8" r="3.3"/><circle cx="324.3" cy="198.0" r="3.3"/><circle cx="505.6" cy="136.1" r="3.3"/><circle cx="223.3" cy="182.8" r="3.3"/><circle cx="344.2" cy="152.8" r="3.3"/><circle cx="278.3" cy="251.9" r="3.3"/><circle cx="275.1" cy="212.8" r="3.3"/><circle cx="240.9" cy="228.9" r="3.3"/><circle cx="290.5" cy="193.1" r="3.3"/><circle cx="316.5" cy="198.6" r="3.3"/><circle cx="273.1" cy="212.6" r="3.3"/><circle cx="300.1" cy="260.8" r="3.3"/><circle cx="331.1" cy="161.8" r="3.3"/><circle cx="388.1" cy="162.5" r="3.3"/><circle cx="313.3" cy="174.6" r="3.3"/><circle cx="270.8" cy="214.5" r="3.3"/><circle cx="457.6" cy="182.8" r="3.3"/><circle cx="220.8" cy="248.8" r="3.3"/><circle cx="416.1" cy="267.9" r="3.3"/><circle cx="243.0" cy="194.7" r="3.3"/><circle cx="215.8" cy="217.8" r="3.3"/><circle cx="271.4" cy="221.5" r="3.3"/><circle cx="261.4" cy="259.6" r="3.3"/><circle cx="264.2" cy="220.7" r="3.3"/><circle cx="387.8" cy="160.3" r="3.3"/><circle cx="248.9" cy="168.8" r="3.3"/><circle cx="211.3" cy="211.2" r="3.3"/><circle cx="231.1" cy="237.4" r="3.3"/><circle cx="446.6" cy="152.2" r="3.3"/><circle cx="281.8" cy="211.3" r="3.3"/><circle cx="265.6" cy="206.4" r="3.3"/><circle cx="364.9" cy="300.7" r="3.3"/><circle cx="435.0" cy="213.8" r="3.3"/><circle cx="301.2" cy="325.6" r="3.3"/><circle cx="375.3" cy="201.9" r="3.3"/><circle cx="242.7" cy="222.3" r="3.3"/><circle cx="263.1" cy="334.3" r="3.3"/><circle cx="316.9" cy="200.0" r="3.3"/><circle cx="236.0" cy="230.2" r="3.3"/><circle cx="245.3" cy="160.9" r="3.3"/><circle cx="224.4" cy="190.2" r="3.3"/><circle cx="242.2" cy="200.0" r="3.3"/><circle cx="383.4" cy="170.5" r="3.3"/><circle cx="369.5" cy="193.6" r="3.3"/><circle cx="206.9" cy="294.3" r="3.3"/><circle cx="262.8" cy="187.9" r="3.3"/><circle cx="351.6" cy="150.1" r="3.3"/><circle cx="391.3" cy="203.9" r="3.3"/><circle cx="313.1" cy="195.9" r="3.3"/><circle cx="352.6" cy="149.7" r="3.3"/><circle cx="236.3" cy="258.4" r="3.3"/><circle cx="366.0" cy="286.3" r="3.3"/><circle cx="377.3" cy="231.1" r="3.3"/><circle cx="276.6" cy="258.6" r="3.3"/><circle cx="235.9" cy="258.2" r="3.3"/><circle cx="185.7" cy="349.5" r="3.3"/><circle cx="329.5" cy="168.3" r="3.3"/><circle cx="330.3" cy="268.5" r="3.3"/><circle cx="175.6" cy="259.8" r="3.3"/><circle cx="303.5" cy="304.1" r="3.3"/><circle cx="437.3" cy="241.1" r="3.3"/><circle cx="184.5" cy="239.2" r="3.3"/><circle cx="212.5" cy="247.2" r="3.3"/><circle cx="192.7" cy="204.2" r="3.3"/><circle cx="283.6" cy="197.9" r="3.3"/><circle cx="271.3" cy="179.7" r="3.3"/><circle cx="395.9" cy="185.6" r="3.3"/><circle cx="195.0" cy="278.7" r="3.3"/><circle cx="227.5" cy="208.5" r="3.3"/><circle cx="436.9" cy="251.2" r="3.3"/><circle cx="241.4" cy="240.7" r="3.3"/><circle cx="273.6" cy="188.7" r="3.3"/><circle cx="175.2" cy="251.0" r="3.3"/><circle cx="248.1" cy="261.1" r="3.3"/><circle cx="323.2" cy="270.2" r="3.3"/><circle cx="326.2" cy="242.9" r="3.3"/><circle cx="324.6" cy="169.4" r="3.3"/><circle cx="334.6" cy="229.5" r="3.3"/><circle cx="326.0" cy="186.0" r="3.3"/><circle cx="186.2" cy="233.8" r="3.3"/><circle cx="335.6" cy="167.4" r="3.3"/><circle cx="318.7" cy="203.5" r="3.3"/><circle cx="231.6" cy="243.9" r="3.3"/><circle cx="279.6" cy="174.1" r="3.3"/><circle cx="236.3" cy="234.3" r="3.3"/><circle cx="394.9" cy="259.8" r="3.3"/><circle cx="246.1" cy="225.5" r="3.3"/><circle cx="218.5" cy="208.5" r="3.3"/><circle cx="370.0" cy="168.6" r="3.3"/><circle cx="360.9" cy="198.4" r="3.3"/><circle cx="388.2" cy="186.0" r="3.3"/><circle cx="340.9" cy="229.6" r="3.3"/><circle cx="278.9" cy="247.6" r="3.3"/><circle cx="292.9" cy="238.6" r="3.3"/><circle cx="311.9" cy="244.7" r="3.3"/><circle cx="321.6" cy="248.8" r="3.3"/><circle cx="442.7" cy="216.3" r="3.3"/><circle cx="242.9" cy="195.8" r="3.3"/><circle cx="362.6" cy="210.7" r="3.3"/><circle cx="180.8" cy="222.2" r="3.3"/><circle cx="225.0" cy="178.4" r="3.3"/><circle cx="442.1" cy="203.0" r="3.3"/><circle cx="239.5" cy="184.4" r="3.3"/><circle cx="301.4" cy="235.4" r="3.3"/><circle cx="421.4" cy="195.8" r="3.3"/><circle cx="335.5" cy="157.9" r="3.3"/><circle cx="296.0" cy="205.2" r="3.3"/><circle cx="346.7" cy="210.0" r="3.3"/><circle cx="476.3" cy="154.6" r="3.3"/><circle cx="439.5" cy="269.9" r="3.3"/><circle cx="222.9" cy="319.1" r="3.3"/><circle cx="213.1" cy="184.4" r="3.3"/><circle cx="248.3" cy="249.4" r="3.3"/><circle cx="214.3" cy="220.3" r="3.3"/><circle cx="361.6" cy="251.0" r="3.3"/><circle cx="381.5" cy="283.2" r="3.3"/><circle cx="213.3" cy="228.4" r="3.3"/><circle cx="196.8" cy="246.9" r="3.3"/><circle cx="256.8" cy="206.2" r="3.3"/><circle cx="343.2" cy="225.2" r="3.3"/><circle cx="363.1" cy="338.5" r="3.3"/><circle cx="289.4" cy="196.6" r="3.3"/><circle cx="331.8" cy="147.9" r="3.3"/><circle cx="422.1" cy="299.7" r="3.3"/><circle cx="400.7" cy="134.8" r="3.3"/><circle cx="207.8" cy="252.2" r="3.3"/><circle cx="349.5" cy="213.3" r="3.3"/><circle cx="364.7" cy="191.2" r="3.3"/><circle cx="415.5" cy="273.6" r="3.3"/><circle cx="279.2" cy="174.9" r="3.3"/><circle cx="216.9" cy="199.2" r="3.3"/><circle cx="292.5" cy="262.2" r="3.3"/><circle cx="267.9" cy="146.0" r="3.3"/><circle cx="273.4" cy="191.8" r="3.3"/><circle cx="371.8" cy="164.2" r="3.3"/><circle cx="334.9" cy="198.3" r="3.3"/><circle cx="341.6" cy="235.9" r="3.3"/><circle cx="335.1" cy="300.5" r="3.3"/><circle cx="213.5" cy="200.4" r="3.3"/><circle cx="273.8" cy="248.8" r="3.3"/><circle cx="387.3" cy="270.0" r="3.3"/><circle cx="334.1" cy="140.2" r="3.3"/><circle cx="368.6" cy="214.0" r="3.3"/><circle cx="327.9" cy="218.8" r="3.3"/><circle cx="366.7" cy="207.4" r="3.3"/><circle cx="509.0" cy="190.9" r="3.3"/><circle cx="349.5" cy="180.2" r="3.3"/><circle cx="392.1" cy="263.3" r="3.3"/><circle cx="469.7" cy="152.7" r="3.3"/><circle cx="356.0" cy="292.2" r="3.3"/><circle cx="374.8" cy="292.9" r="3.3"/><circle cx="198.2" cy="279.3" r="3.3"/><circle cx="186.7" cy="220.7" r="3.3"/><circle cx="426.1" cy="281.0" r="3.3"/><circle cx="236.3" cy="193.1" r="3.3"/><circle cx="252.4" cy="220.5" r="3.3"/><circle cx="211.9" cy="229.1" r="3.3"/><circle cx="330.7" cy="168.1" r="3.3"/><circle cx="370.7" cy="165.7" r="3.3"/><circle cx="250.8" cy="219.5" r="3.3"/><circle cx="356.7" cy="156.5" r="3.3"/><circle cx="417.6" cy="168.4" r="3.3"/><circle cx="344.0" cy="253.4" r="3.3"/><circle cx="280.8" cy="238.1" r="3.3"/><circle cx="328.4" cy="193.3" r="3.3"/><circle cx="389.5" cy="214.9" r="3.3"/><circle cx="349.0" cy="168.4" r="3.3"/><circle cx="239.8" cy="242.7" r="3.3"/><circle cx="177.8" cy="299.6" r="3.3"/><circle cx="400.5" cy="128.1" r="3.3"/><circle cx="328.1" cy="186.2" r="3.3"/><circle cx="194.3" cy="205.1" r="3.3"/><circle cx="310.9" cy="165.0" r="3.3"/><circle cx="319.9" cy="284.1" r="3.3"/><circle cx="249.6" cy="245.0" r="3.3"/><circle cx="403.6" cy="208.0" r="3.3"/><circle cx="236.8" cy="237.1" r="3.3"/><circle cx="214.0" cy="249.0" r="3.3"/><circle cx="253.4" cy="197.8" r="3.3"/><circle cx="260.3" cy="187.4" r="3.3"/><circle cx="402.6" cy="147.0" r="3.3"/><circle cx="336.1" cy="168.9" r="3.3"/><circle cx="208.8" cy="196.2" r="3.3"/><circle cx="273.4" cy="258.7" r="3.3"/><circle cx="204.2" cy="210.5" r="3.3"/><circle cx="347.7" cy="192.3" r="3.3"/><circle cx="389.3" cy="228.0" r="3.3"/><circle cx="201.9" cy="336.1" r="3.3"/><circle cx="298.7" cy="169.3" r="3.3"/><circle cx="238.0" cy="233.8" r="3.3"/><circle cx="247.6" cy="213.3" r="3.3"/><circle cx="357.4" cy="168.1" r="3.3"/><circle cx="474.7" cy="164.8" r="3.3"/><circle cx="246.1" cy="260.7" r="3.3"/><circle cx="308.9" cy="186.2" r="3.3"/><circle cx="253.6" cy="227.9" r="3.3"/><circle cx="193.9" cy="226.9" r="3.3"/><circle cx="323.1" cy="144.2" r="3.3"/><circle cx="216.7" cy="283.4" r="3.3"/><circle cx="343.4" cy="261.6" r="3.3"/><circle cx="357.5" cy="252.2" r="3.3"/><circle cx="213.6" cy="221.2" r="3.3"/><circle cx="321.6" cy="201.5" r="3.3"/><circle cx="229.3" cy="246.3" r="3.3"/><circle cx="361.3" cy="329.9" r="3.3"/><circle cx="247.8" cy="222.2" r="3.3"/><circle cx="343.8" cy="183.3" r="3.3"/><circle cx="333.9" cy="204.3" r="3.3"/><circle cx="316.6" cy="218.2" r="3.3"/><circle cx="231.6" cy="240.2" r="3.3"/><circle cx="381.7" cy="284.7" r="3.3"/><circle cx="264.2" cy="228.2" r="3.3"/><circle cx="363.2" cy="248.1" r="3.3"/><circle cx="292.8" cy="211.3" r="3.3"/><circle cx="286.4" cy="210.3" r="3.3"/><circle cx="349.2" cy="275.4" r="3.3"/><circle cx="260.9" cy="196.4" r="3.3"/><circle cx="361.4" cy="180.6" r="3.3"/><circle cx="285.6" cy="220.8" r="3.3"/><circle cx="356.0" cy="160.2" r="3.3"/><circle cx="345.7" cy="168.3" r="3.3"/><circle cx="442.8" cy="189.7" r="3.3"/><circle cx="277.0" cy="233.6" r="3.3"/><circle cx="262.8" cy="337.2" r="3.3"/><circle cx="504.8" cy="134.2" r="3.3"/><circle cx="302.6" cy="157.3" r="3.3"/><circle cx="279.3" cy="239.6" r="3.3"/><circle cx="346.5" cy="272.0" r="3.3"/><circle cx="239.3" cy="178.1" r="3.3"/><circle cx="454.0" cy="163.8" r="3.3"/><circle cx="359.1" cy="224.6" r="3.3"/><circle cx="334.2" cy="223.5" r="3.3"/><circle cx="249.2" cy="280.5" r="3.3"/><circle cx="373.7" cy="219.4" r="3.3"/><circle cx="423.2" cy="281.9" r="3.3"/><circle cx="368.6" cy="178.4" r="3.3"/><circle cx="418.6" cy="223.8" r="3.3"/><circle cx="201.6" cy="240.5" r="3.3"/><circle cx="356.1" cy="191.5" r="3.3"/><circle cx="394.1" cy="224.2" r="3.3"/><circle cx="293.1" cy="266.1" r="3.3"/><circle cx="198.6" cy="239.9" r="3.3"/><circle cx="308.9" cy="238.5" r="3.3"/><circle cx="237.5" cy="214.5" r="3.3"/><circle cx="185.6" cy="289.0" r="3.3"/><circle cx="435.2" cy="176.6" r="3.3"/><circle cx="381.0" cy="213.1" r="3.3"/><circle cx="330.7" cy="218.5" r="3.3"/><circle cx="357.8" cy="204.3" r="3.3"/><circle cx="339.5" cy="281.9" r="3.3"/><circle cx="289.9" cy="240.0" r="3.3"/><circle cx="208.6" cy="239.3" r="3.3"/><circle cx="248.5" cy="248.7" r="3.3"/><circle cx="300.2" cy="238.9" r="3.3"/><circle cx="318.3" cy="191.4" r="3.3"/><circle cx="251.5" cy="201.5" r="3.3"/><circle cx="210.0" cy="241.5" r="3.3"/><circle cx="261.2" cy="180.3" r="3.3"/><circle cx="223.9" cy="270.2" r="3.3"/><circle cx="431.3" cy="225.6" r="3.3"/><circle cx="232.3" cy="241.5" r="3.3"/><circle cx="273.5" cy="199.5" r="3.3"/><circle cx="308.7" cy="327.7" r="3.3"/><circle cx="239.8" cy="254.8" r="3.3"/><circle cx="297.5" cy="269.6" r="3.3"/><circle cx="311.3" cy="238.6" r="3.3"/><circle cx="190.3" cy="238.9" r="3.3"/><circle cx="444.6" cy="163.9" r="3.3"/><circle cx="307.8" cy="176.8" r="3.3"/><circle cx="214.5" cy="273.1" r="3.3"/><circle cx="481.6" cy="195.1" r="3.3"/><circle cx="219.8" cy="198.4" r="3.3"/><circle cx="352.8" cy="171.9" r="3.3"/><circle cx="294.6" cy="212.6" r="3.3"/><circle cx="241.1" cy="239.2" r="3.3"/><circle cx="270.1" cy="252.8" r="3.3"/><circle cx="294.3" cy="211.9" r="3.3"/><circle cx="268.0" cy="191.4" r="3.3"/><circle cx="238.5" cy="245.2" r="3.3"/><circle cx="278.8" cy="176.1" r="3.3"/><circle cx="283.5" cy="180.1" r="3.3"/><circle cx="343.4" cy="191.4" r="3.3"/><circle cx="226.8" cy="232.9" r="3.3"/><circle cx="189.3" cy="168.2" r="3.3"/><circle cx="381.5" cy="158.6" r="3.3"/><circle cx="195.8" cy="257.2" r="3.3"/><circle cx="330.0" cy="198.1" r="3.3"/><circle cx="310.4" cy="205.5" r="3.3"/><circle cx="472.3" cy="179.6" r="3.3"/><circle cx="225.0" cy="190.7" r="3.3"/><circle cx="404.5" cy="297.4" r="3.3"/><circle cx="210.8" cy="306.7" r="3.3"/><circle cx="220.6" cy="242.7" r="3.3"/><circle cx="335.3" cy="161.2" r="3.3"/><circle cx="219.2" cy="250.1" r="3.3"/><circle cx="319.3" cy="253.0" r="3.3"/><circle cx="340.4" cy="187.9" r="3.3"/><circle cx="209.6" cy="190.7" r="3.3"/><circle cx="368.3" cy="229.6" r="3.3"/><circle cx="280.4" cy="232.3" r="3.3"/><circle cx="463.3" cy="172.5" r="3.3"/><circle cx="179.0" cy="212.0" r="3.3"/><circle cx="198.2" cy="311.5" r="3.3"/><circle cx="327.3" cy="161.9" r="3.3"/><circle cx="241.0" cy="202.7" r="3.3"/><circle cx="275.6" cy="215.1" r="3.3"/><circle cx="416.4" cy="202.6" r="3.3"/><circle cx="261.6" cy="193.2" r="3.3"/><circle cx="190.9" cy="243.0" r="3.3"/><circle cx="213.8" cy="185.4" r="3.3"/><circle cx="311.9" cy="214.4" r="3.3"/><circle cx="364.2" cy="155.1" r="3.3"/><circle cx="360.1" cy="190.5" r="3.3"/><circle cx="292.0" cy="240.9" r="3.3"/><circle cx="236.8" cy="191.4" r="3.3"/><circle cx="210.4" cy="190.7" r="3.3"/><circle cx="232.9" cy="328.0" r="3.3"/><circle cx="227.4" cy="218.1" r="3.3"/><circle cx="415.5" cy="141.1" r="3.3"/><circle cx="276.8" cy="209.0" r="3.3"/><circle cx="207.5" cy="204.5" r="3.3"/><circle cx="331.6" cy="252.7" r="3.3"/><circle cx="288.6" cy="276.5" r="3.3"/><circle cx="184.5" cy="267.9" r="3.3"/><circle cx="478.1" cy="202.6" r="3.3"/><circle cx="443.7" cy="195.7" r="3.3"/><circle cx="242.2" cy="171.7" r="3.3"/><circle cx="381.2" cy="216.5" r="3.3"/><circle cx="288.0" cy="202.8" r="3.3"/><circle cx="340.0" cy="182.2" r="3.3"/><circle cx="335.2" cy="214.1" r="3.3"/><circle cx="353.9" cy="175.4" r="3.3"/><circle cx="284.6" cy="345.1" r="3.3"/><circle cx="214.7" cy="239.2" r="3.3"/><circle cx="372.2" cy="232.5" r="3.3"/><circle cx="284.6" cy="172.5" r="3.3"/><circle cx="284.9" cy="158.7" r="3.3"/><circle cx="360.4" cy="166.6" r="3.3"/><circle cx="342.8" cy="171.0" r="3.3"/><circle cx="491.8" cy="184.8" r="3.3"/><circle cx="272.1" cy="236.4" r="3.3"/><circle cx="330.8" cy="274.7" r="3.3"/><circle cx="206.6" cy="229.3" r="3.3"/><circle cx="240.4" cy="242.5" r="3.3"/><circle cx="246.4" cy="213.4" r="3.3"/><circle cx="285.9" cy="166.8" r="3.3"/><circle cx="234.2" cy="179.7" r="3.3"/><circle cx="435.5" cy="118.2" r="3.3"/><circle cx="281.6" cy="196.8" r="3.3"/><circle cx="270.7" cy="181.0" r="3.3"/><circle cx="412.3" cy="284.8" r="3.3"/><circle cx="369.8" cy="215.9" r="3.3"/><circle cx="363.1" cy="157.2" r="3.3"/><circle cx="419.8" cy="211.7" r="3.3"/><circle cx="355.0" cy="203.9" r="3.3"/><circle cx="252.5" cy="269.5" r="3.3"/><circle cx="457.5" cy="151.2" r="3.3"/><circle cx="183.9" cy="216.8" r="3.3"/><circle cx="409.5" cy="192.6" r="3.3"/><circle cx="279.6" cy="218.0" r="3.3"/><circle cx="260.1" cy="180.9" r="3.3"/><circle cx="292.7" cy="262.5" r="3.3"/><circle cx="274.9" cy="180.0" r="3.3"/><circle cx="391.6" cy="192.9" r="3.3"/><circle cx="372.8" cy="207.9" r="3.3"/><circle cx="357.4" cy="196.2" r="3.3"/><circle cx="235.1" cy="207.1" r="3.3"/><circle cx="284.4" cy="243.7" r="3.3"/><circle cx="197.3" cy="233.8" r="3.3"/><circle cx="356.4" cy="225.4" r="3.3"/><circle cx="188.4" cy="267.2" r="3.3"/><circle cx="274.0" cy="295.9" r="3.3"/><circle cx="215.7" cy="227.1" r="3.3"/><circle cx="388.2" cy="188.5" r="3.3"/><circle cx="422.8" cy="267.8" r="3.3"/><circle cx="248.7" cy="325.3" r="3.3"/><circle cx="396.9" cy="255.5" r="3.3"/><circle cx="222.1" cy="194.4" r="3.3"/><circle cx="349.0" cy="276.2" r="3.3"/><circle cx="239.4" cy="241.0" r="3.3"/><circle cx="285.8" cy="218.0" r="3.3"/><circle cx="325.1" cy="168.1" r="3.3"/><circle cx="263.3" cy="182.6" r="3.3"/><circle cx="226.8" cy="283.4" r="3.3"/><circle cx="319.6" cy="186.5" r="3.3"/><circle cx="369.3" cy="198.0" r="3.3"/><circle cx="507.8" cy="168.5" r="3.3"/><circle cx="256.5" cy="208.2" r="3.3"/><circle cx="241.1" cy="215.3" r="3.3"/><circle cx="197.6" cy="207.1" r="3.3"/><circle cx="228.5" cy="294.2" r="3.3"/><circle cx="183.6" cy="235.2" r="3.3"/><circle cx="239.2" cy="201.2" r="3.3"/><circle cx="352.5" cy="172.4" r="3.3"/><circle cx="207.1" cy="271.3" r="3.3"/><circle cx="333.5" cy="246.5" r="3.3"/><circle cx="249.9" cy="267.9" r="3.3"/><circle cx="234.2" cy="235.5" r="3.3"/><circle cx="294.8" cy="195.4" r="3.3"/><circle cx="283.6" cy="184.5" r="3.3"/><circle cx="286.1" cy="201.6" r="3.3"/><circle cx="207.8" cy="183.4" r="3.3"/><circle cx="314.1" cy="186.0" r="3.3"/><circle cx="412.4" cy="176.6" r="3.3"/><circle cx="198.8" cy="192.7" r="3.3"/><circle cx="319.2" cy="167.8" r="3.3"/><circle cx="255.6" cy="208.8" r="3.3"/><circle cx="239.7" cy="303.1" r="3.3"/><circle cx="490.0" cy="277.7" r="3.3"/><circle cx="253.1" cy="177.3" r="3.3"/><circle cx="424.3" cy="201.9" r="3.3"/><circle cx="326.5" cy="134.0" r="3.3"/><circle cx="184.9" cy="253.2" r="3.3"/><circle cx="243.0" cy="237.7" r="3.3"/><circle cx="197.5" cy="232.6" r="3.3"/><circle cx="307.8" cy="187.4" r="3.3"/><circle cx="416.1" cy="188.8" r="3.3"/><circle cx="191.3" cy="175.9" r="3.3"/><circle cx="184.2" cy="251.8" r="3.3"/><circle cx="184.6" cy="270.7" r="3.3"/><circle cx="244.7" cy="176.2" r="3.3"/><circle cx="219.3" cy="388.7" r="3.3"/><circle cx="464.6" cy="148.7" r="3.3"/><circle cx="364.3" cy="276.4" r="3.3"/><circle cx="437.9" cy="305.2" r="3.3"/><circle cx="317.7" cy="201.6" r="3.3"/><circle cx="377.3" cy="250.1" r="3.3"/><circle cx="348.4" cy="211.4" r="3.3"/><circle cx="249.3" cy="197.1" r="3.3"/><circle cx="335.1" cy="229.6" r="3.3"/><circle cx="248.6" cy="206.7" r="3.3"/><circle cx="290.2" cy="176.8" r="3.3"/><circle cx="377.8" cy="235.5" r="3.3"/><circle cx="232.3" cy="191.2" r="3.3"/><circle cx="221.4" cy="310.0" r="3.3"/><circle cx="388.0" cy="164.6" r="3.3"/><circle cx="290.0" cy="195.5" r="3.3"/><circle cx="221.1" cy="268.8" r="3.3"/><circle cx="255.4" cy="270.4" r="3.3"/><circle cx="246.5" cy="211.7" r="3.3"/><circle cx="409.0" cy="206.4" r="3.3"/><circle cx="292.3" cy="302.7" r="3.3"/><circle cx="423.9" cy="168.4" r="3.3"/><circle cx="291.7" cy="189.2" r="3.3"/><circle cx="438.0" cy="144.9" r="3.3"/><circle cx="421.4" cy="214.6" r="3.3"/><circle cx="314.8" cy="233.8" r="3.3"/><circle cx="367.2" cy="159.6" r="3.3"/><circle cx="248.1" cy="249.8" r="3.3"/><circle cx="207.2" cy="206.2" r="3.3"/><circle cx="323.5" cy="210.2" r="3.3"/><circle cx="192.0" cy="239.0" r="3.3"/><circle cx="291.0" cy="224.0" r="3.3"/><circle cx="327.3" cy="214.0" r="3.3"/><circle cx="362.4" cy="191.1" r="3.3"/><circle cx="409.3" cy="218.5" r="3.3"/><circle cx="228.3" cy="194.0" r="3.3"/><circle cx="393.8" cy="255.0" r="3.3"/><circle cx="297.8" cy="201.2" r="3.3"/><circle cx="327.9" cy="244.5" r="3.3"/><circle cx="289.7" cy="227.3" r="3.3"/><circle cx="386.5" cy="192.5" r="3.3"/><circle cx="251.1" cy="219.0" r="3.3"/><circle cx="177.9" cy="237.3" r="3.3"/><circle cx="380.0" cy="190.1" r="3.3"/><circle cx="337.2" cy="213.3" r="3.3"/><circle cx="350.2" cy="201.7" r="3.3"/><circle cx="209.3" cy="280.4" r="3.3"/><circle cx="228.8" cy="199.5" r="3.3"/><circle cx="328.6" cy="240.9" r="3.3"/><circle cx="357.5" cy="193.3" r="3.3"/><circle cx="337.1" cy="259.9" r="3.3"/><circle cx="321.6" cy="256.8" r="3.3"/><circle cx="335.6" cy="158.5" r="3.3"/><circle cx="214.9" cy="307.8" r="3.3"/><circle cx="287.0" cy="259.4" r="3.3"/><circle cx="258.2" cy="238.9" r="3.3"/><circle cx="354.9" cy="169.7" r="3.3"/><circle cx="302.9" cy="261.1" r="3.3"/><circle cx="351.1" cy="214.4" r="3.3"/><circle cx="345.1" cy="175.8" r="3.3"/><circle cx="414.2" cy="209.3" r="3.3"/><circle cx="389.8" cy="155.3" r="3.3"/><circle cx="191.0" cy="256.8" r="3.3"/><circle cx="338.6" cy="172.7" r="3.3"/><circle cx="268.6" cy="197.4" r="3.3"/><circle cx="203.8" cy="167.7" r="3.3"/><circle cx="293.6" cy="200.4" r="3.3"/><circle cx="384.8" cy="210.3" r="3.3"/><circle cx="370.0" cy="219.2" r="3.3"/><circle cx="204.9" cy="220.7" r="3.3"/><circle cx="227.9" cy="201.7" r="3.3"/><circle cx="345.1" cy="160.0" r="3.3"/><circle cx="464.5" cy="168.3" r="3.3"/><circle cx="197.8" cy="269.1" r="3.3"/><circle cx="200.8" cy="313.2" r="3.3"/><circle cx="345.3" cy="281.9" r="3.3"/><circle cx="326.3" cy="161.6" r="3.3"/><circle cx="374.2" cy="159.0" r="3.3"/><circle cx="226.9" cy="211.5" r="3.3"/><circle cx="297.4" cy="220.1" r="3.3"/><circle cx="371.3" cy="147.3" r="3.3"/><circle cx="270.7" cy="172.2" r="3.3"/><circle cx="274.8" cy="264.3" r="3.3"/><circle cx="370.4" cy="193.9" r="3.3"/><circle cx="286.0" cy="255.6" r="3.3"/><circle cx="269.7" cy="243.4" r="3.3"/><circle cx="335.7" cy="242.4" r="3.3"/><circle cx="388.5" cy="188.8" r="3.3"/><circle cx="394.1" cy="277.1" r="3.3"/><circle cx="261.2" cy="178.4" r="3.3"/><circle cx="324.5" cy="183.2" r="3.3"/><circle cx="272.0" cy="233.8" r="3.3"/><circle cx="383.3" cy="171.0" r="3.3"/><circle cx="369.2" cy="251.0" r="3.3"/><circle cx="337.2" cy="252.6" r="3.3"/><circle cx="378.1" cy="238.7" r="3.3"/><circle cx="301.1" cy="274.0" r="3.3"/><circle cx="315.6" cy="226.1" r="3.3"/><circle cx="218.5" cy="192.7" r="3.3"/><circle cx="348.2" cy="185.9" r="3.3"/><circle cx="248.3" cy="146.6" r="3.3"/><circle cx="313.4" cy="199.3" r="3.3"/><circle cx="175.9" cy="250.8" r="3.3"/><circle cx="274.3" cy="241.7" r="3.3"/><circle cx="326.3" cy="235.2" r="3.3"/><circle cx="329.8" cy="181.5" r="3.3"/><circle cx="313.9" cy="288.7" r="3.3"/><circle cx="239.7" cy="228.6" r="3.3"/><circle cx="335.5" cy="174.8" r="3.3"/><circle cx="337.1" cy="291.0" r="3.3"/><circle cx="320.1" cy="230.2" r="3.3"/><circle cx="269.5" cy="240.6" r="3.3"/><circle cx="216.0" cy="240.2" r="3.3"/><circle cx="312.2" cy="131.2" r="3.3"/><circle cx="191.1" cy="238.0" r="3.3"/><circle cx="421.2" cy="219.6" r="3.3"/><circle cx="263.7" cy="239.3" r="3.3"/><circle cx="247.1" cy="191.3" r="3.3"/><circle cx="287.0" cy="212.6" r="3.3"/><circle cx="204.5" cy="258.1" r="3.3"/><circle cx="402.7" cy="264.3" r="3.3"/><circle cx="477.8" cy="152.2" r="3.3"/><circle cx="378.0" cy="207.4" r="3.3"/><circle cx="316.3" cy="160.8" r="3.3"/><circle cx="439.1" cy="153.1" r="3.3"/><circle cx="258.4" cy="207.2" r="3.3"/><circle cx="290.4" cy="149.3" r="3.3"/><circle cx="220.6" cy="211.2" r="3.3"/><circle cx="280.8" cy="275.3" r="3.3"/><circle cx="429.1" cy="168.7" r="3.3"/><circle cx="337.6" cy="168.2" r="3.3"/><circle cx="309.6" cy="167.5" r="3.3"/><circle cx="307.3" cy="217.6" r="3.3"/><circle cx="330.9" cy="197.0" r="3.3"/><circle cx="324.9" cy="223.3" r="3.3"/><circle cx="287.4" cy="204.6" r="3.3"/><circle cx="301.3" cy="215.8" r="3.3"/><circle cx="203.9" cy="219.7" r="3.3"/><circle cx="285.3" cy="192.5" r="3.3"/><circle cx="340.3" cy="136.0" r="3.3"/><circle cx="232.9" cy="201.2" r="3.3"/><circle cx="245.7" cy="253.7" r="3.3"/><circle cx="372.4" cy="183.4" r="3.3"/><circle cx="212.1" cy="264.8" r="3.3"/><circle cx="226.3" cy="170.6" r="3.3"/><circle cx="376.5" cy="224.7" r="3.3"/><circle cx="208.6" cy="276.1" r="3.3"/><circle cx="251.3" cy="193.6" r="3.3"/><circle cx="417.4" cy="179.2" r="3.3"/><circle cx="278.0" cy="191.1" r="3.3"/><circle cx="376.2" cy="192.6" r="3.3"/><circle cx="361.7" cy="278.4" r="3.3"/><circle cx="181.7" cy="258.1" r="3.3"/><circle cx="232.0" cy="181.2" r="3.3"/><circle cx="418.3" cy="344.8" r="3.3"/><circle cx="256.2" cy="242.5" r="3.3"/><circle cx="275.9" cy="261.7" r="3.3"/><circle cx="434.4" cy="239.7" r="3.3"/><circle cx="205.9" cy="305.9" r="3.3"/><circle cx="468.4" cy="220.4" r="3.3"/><circle cx="333.6" cy="182.0" r="3.3"/><circle cx="329.3" cy="239.8" r="3.3"/><circle cx="175.4" cy="255.2" r="3.3"/><circle cx="329.8" cy="198.8" r="3.3"/><circle cx="377.7" cy="258.0" r="3.3"/><circle cx="273.5" cy="148.9" r="3.3"/><circle cx="196.8" cy="231.8" r="3.3"/><circle cx="211.2" cy="291.9" r="3.3"/><circle cx="197.9" cy="234.6" r="3.3"/><circle cx="278.5" cy="204.0" r="3.3"/><circle cx="376.1" cy="156.3" r="3.3"/><circle cx="276.3" cy="191.5" r="3.3"/><circle cx="275.1" cy="359.8" r="3.3"/><circle cx="274.5" cy="222.9" r="3.3"/><circle cx="305.1" cy="191.1" r="3.3"/><circle cx="307.1" cy="275.8" r="3.3"/><circle cx="228.3" cy="238.4" r="3.3"/><circle cx="369.4" cy="178.4" r="3.3"/><circle cx="302.8" cy="230.8" r="3.3"/><circle cx="263.5" cy="158.4" r="3.3"/><circle cx="460.3" cy="187.2" r="3.3"/><circle cx="347.7" cy="207.5" r="3.3"/><circle cx="218.6" cy="178.0" r="3.3"/><circle cx="465.6" cy="202.9" r="3.3"/><circle cx="317.3" cy="147.8" r="3.3"/><circle cx="260.7" cy="186.5" r="3.3"/><circle cx="236.3" cy="255.2" r="3.3"/><circle cx="195.4" cy="220.8" r="3.3"/><circle cx="237.8" cy="251.7" r="3.3"/><circle cx="248.5" cy="226.4" r="3.3"/><circle cx="261.6" cy="215.9" r="3.3"/><circle cx="490.1" cy="190.0" r="3.3"/><circle cx="320.7" cy="145.8" r="3.3"/><circle cx="225.5" cy="149.1" r="3.3"/><circle cx="267.9" cy="303.7" r="3.3"/><circle cx="282.6" cy="239.3" r="3.3"/><circle cx="199.4" cy="196.2" r="3.3"/><circle cx="291.2" cy="238.2" r="3.3"/><circle cx="300.7" cy="292.0" r="3.3"/><circle cx="416.9" cy="242.1" r="3.3"/><circle cx="282.8" cy="232.7" r="3.3"/><circle cx="343.6" cy="208.1" r="3.3"/><circle cx="341.5" cy="219.9" r="3.3"/><circle cx="221.4" cy="192.2" r="3.3"/><circle cx="314.7" cy="204.6" r="3.3"/><circle cx="286.6" cy="275.8" r="3.3"/><circle cx="218.5" cy="212.5" r="3.3"/><circle cx="183.0" cy="208.3" r="3.3"/><circle cx="507.9" cy="178.7" r="3.3"/><circle cx="201.2" cy="274.6" r="3.3"/><circle cx="403.9" cy="257.1" r="3.3"/><circle cx="267.0" cy="378.8" r="3.3"/><circle cx="199.0" cy="333.1" r="3.3"/><circle cx="460.8" cy="141.3" r="3.3"/><circle cx="336.9" cy="201.8" r="3.3"/><circle cx="276.0" cy="223.1" r="3.3"/><circle cx="383.0" cy="219.9" r="3.3"/><circle cx="348.1" cy="161.6" r="3.3"/><circle cx="278.6" cy="202.0" r="3.3"/><circle cx="350.6" cy="190.6" r="3.3"/><circle cx="355.3" cy="215.6" r="3.3"/><circle cx="220.7" cy="212.7" r="3.3"/><circle cx="350.2" cy="184.0" r="3.3"/><circle cx="421.4" cy="157.3" r="3.3"/><circle cx="343.4" cy="224.8" r="3.3"/><circle cx="370.8" cy="179.7" r="3.3"/><circle cx="493.7" cy="146.6" r="3.3"/><circle cx="370.0" cy="273.7" r="3.3"/><circle cx="291.5" cy="202.0" r="3.3"/><circle cx="313.5" cy="187.3" r="3.3"/><circle cx="362.2" cy="156.2" r="3.3"/><circle cx="330.2" cy="209.9" r="3.3"/><circle cx="196.2" cy="214.0" r="3.3"/><circle cx="193.4" cy="241.4" r="3.3"/><circle cx="244.6" cy="202.2" r="3.3"/><circle cx="376.4" cy="196.2" r="3.3"/><circle cx="232.5" cy="184.1" r="3.3"/><circle cx="255.7" cy="170.2" r="3.3"/><circle cx="378.0" cy="281.9" r="3.3"/><circle cx="210.5" cy="258.7" r="3.3"/><circle cx="246.4" cy="213.8" r="3.3"/><circle cx="240.8" cy="190.6" r="3.3"/><circle cx="189.8" cy="251.9" r="3.3"/><circle cx="356.4" cy="214.8" r="3.3"/><circle cx="256.1" cy="234.7" r="3.3"/><circle cx="276.8" cy="332.2" r="3.3"/><circle cx="259.0" cy="204.2" r="3.3"/><circle cx="385.4" cy="190.7" r="3.3"/><circle cx="211.8" cy="340.8" r="3.3"/><circle cx="247.7" cy="331.7" r="3.3"/><circle cx="351.3" cy="194.8" r="3.3"/><circle cx="262.7" cy="219.5" r="3.3"/><circle cx="300.3" cy="279.8" r="3.3"/><circle cx="258.3" cy="286.4" r="3.3"/><circle cx="313.0" cy="165.6" r="3.3"/><circle cx="255.3" cy="221.5" r="3.3"/><circle cx="288.4" cy="170.4" r="3.3"/><circle cx="180.2" cy="209.0" r="3.3"/><circle cx="300.4" cy="194.3" r="3.3"/><circle cx="376.0" cy="180.0" r="3.3"/><circle cx="521.5" cy="201.4" r="3.3"/><circle cx="371.9" cy="181.1" r="3.3"/><circle cx="304.5" cy="205.8" r="3.3"/><circle cx="333.1" cy="267.0" r="3.3"/><circle cx="339.5" cy="199.6" r="3.3"/><circle cx="353.4" cy="279.2" r="3.3"/><circle cx="497.4" cy="253.5" r="3.3"/><circle cx="261.5" cy="214.9" r="3.3"/><circle cx="286.0" cy="186.2" r="3.3"/><circle cx="365.3" cy="286.8" r="3.3"/><circle cx="231.2" cy="231.6" r="3.3"/><circle cx="202.6" cy="214.4" r="3.3"/><circle cx="410.5" cy="142.3" r="3.3"/><circle cx="180.5" cy="230.2" r="3.3"/><circle cx="407.8" cy="136.3" r="3.3"/><circle cx="420.3" cy="206.6" r="3.3"/><circle cx="219.2" cy="215.8" r="3.3"/><circle cx="359.4" cy="179.8" r="3.3"/><circle cx="248.5" cy="191.5" r="3.3"/><circle cx="244.3" cy="256.4" r="3.3"/><circle cx="483.3" cy="249.1" r="3.3"/><circle cx="404.1" cy="123.5" r="3.3"/><circle cx="361.6" cy="205.5" r="3.3"/><circle cx="283.5" cy="168.2" r="3.3"/><circle cx="486.6" cy="122.7" r="3.3"/><circle cx="315.5" cy="332.6" r="3.3"/><circle cx="478.5" cy="161.2" r="3.3"/><circle cx="351.4" cy="207.7" r="3.3"/><circle cx="189.7" cy="302.2" r="3.3"/><circle cx="370.5" cy="217.3" r="3.3"/><circle cx="383.0" cy="182.0" r="3.3"/><circle cx="401.1" cy="220.1" r="3.3"/><circle cx="327.8" cy="246.4" r="3.3"/><circle cx="187.1" cy="250.1" r="3.3"/><circle cx="394.7" cy="184.0" r="3.3"/><circle cx="280.2" cy="249.9" r="3.3"/><circle cx="226.5" cy="212.2" r="3.3"/><circle cx="229.4" cy="210.5" r="3.3"/><circle cx="227.7" cy="201.9" r="3.3"/><circle cx="375.6" cy="310.7" r="3.3"/><circle cx="196.7" cy="189.3" r="3.3"/><circle cx="422.6" cy="138.8" r="3.3"/><circle cx="180.8" cy="211.4" r="3.3"/><circle cx="351.8" cy="162.5" r="3.3"/><circle cx="234.6" cy="210.0" r="3.3"/><circle cx="302.2" cy="298.0" r="3.3"/><circle cx="222.0" cy="317.4" r="3.3"/><circle cx="411.0" cy="163.8" r="3.3"/><circle cx="216.9" cy="205.4" r="3.3"/><circle cx="290.8" cy="204.0" r="3.3"/><circle cx="324.6" cy="300.5" r="3.3"/><circle cx="287.6" cy="189.6" r="3.3"/><circle cx="231.2" cy="259.7" r="3.3"/><circle cx="248.8" cy="238.4" r="3.3"/><circle cx="434.2" cy="251.0" r="3.3"/><circle cx="209.6" cy="204.6" r="3.3"/><circle cx="416.3" cy="344.6" r="3.3"/><circle cx="403.7" cy="183.5" r="3.3"/><circle cx="342.8" cy="289.3" r="3.3"/><circle cx="292.1" cy="244.0" r="3.3"/><circle cx="448.6" cy="156.9" r="3.3"/><circle cx="278.1" cy="210.6" r="3.3"/><circle cx="179.5" cy="207.1" r="3.3"/><circle cx="283.3" cy="285.7" r="3.3"/><circle cx="305.7" cy="182.5" r="3.3"/><circle cx="310.2" cy="272.3" r="3.3"/><circle cx="404.7" cy="170.2" r="3.3"/><circle cx="195.4" cy="297.2" r="3.3"/><circle cx="389.0" cy="237.5" r="3.3"/><circle cx="304.0" cy="241.9" r="3.3"/><circle cx="354.0" cy="178.3" r="3.3"/><circle cx="278.2" cy="244.0" r="3.3"/><circle cx="250.2" cy="236.5" r="3.3"/><circle cx="259.6" cy="203.5" r="3.3"/><circle cx="245.1" cy="350.3" r="3.3"/><circle cx="287.7" cy="311.6" r="3.3"/><circle cx="322.0" cy="227.3" r="3.3"/><circle cx="380.5" cy="270.4" r="3.3"/><circle cx="221.3" cy="208.8" r="3.3"/><circle cx="286.9" cy="179.3" r="3.3"/><circle cx="306.4" cy="193.9" r="3.3"/><circle cx="376.4" cy="207.2" r="3.3"/><circle cx="348.7" cy="273.7" r="3.3"/><circle cx="328.0" cy="258.2" r="3.3"/><circle cx="340.2" cy="177.7" r="3.3"/><circle cx="286.4" cy="260.8" r="3.3"/><circle cx="372.9" cy="263.5" r="3.3"/><circle cx="382.7" cy="207.9" r="3.3"/><circle cx="314.5" cy="210.0" r="3.3"/><circle cx="207.6" cy="226.1" r="3.3"/><circle cx="281.2" cy="183.3" r="3.3"/><circle cx="242.8" cy="196.7" r="3.3"/><circle cx="225.4" cy="227.0" r="3.3"/><circle cx="250.4" cy="223.2" r="3.3"/><circle cx="376.8" cy="202.9" r="3.3"/><circle cx="262.5" cy="213.9" r="3.3"/><circle cx="282.0" cy="269.1" r="3.3"/><circle cx="270.8" cy="181.8" r="3.3"/><circle cx="223.7" cy="191.3" r="3.3"/><circle cx="315.7" cy="292.3" r="3.3"/><circle cx="278.9" cy="226.4" r="3.3"/><circle cx="435.8" cy="202.7" r="3.3"/><circle cx="326.9" cy="205.2" r="3.3"/><circle cx="475.8" cy="174.2" r="3.3"/><circle cx="390.9" cy="180.7" r="3.3"/><circle cx="296.5" cy="217.4" r="3.3"/><circle cx="180.6" cy="281.4" r="3.3"/><circle cx="230.4" cy="170.5" r="3.3"/><circle cx="208.2" cy="316.6" r="3.3"/><circle cx="355.2" cy="169.4" r="3.3"/><circle cx="212.6" cy="227.3" r="3.3"/><circle cx="333.3" cy="254.6" r="3.3"/><circle cx="256.5" cy="180.4" r="3.3"/><circle cx="294.1" cy="231.9" r="3.3"/><circle cx="359.8" cy="214.6" r="3.3"/><circle cx="250.8" cy="227.7" r="3.3"/><circle cx="220.6" cy="275.1" r="3.3"/><circle cx="248.3" cy="181.5" r="3.3"/><circle cx="441.4" cy="157.6" r="3.3"/><circle cx="311.3" cy="284.2" r="3.3"/><circle cx="248.1" cy="313.7" r="3.3"/><circle cx="214.4" cy="186.8" r="3.3"/><circle cx="195.5" cy="251.9" r="3.3"/><circle cx="259.2" cy="175.5" r="3.3"/><circle cx="325.9" cy="291.6" r="3.3"/><circle cx="288.5" cy="303.1" r="3.3"/><circle cx="374.6" cy="223.2" r="3.3"/><circle cx="504.5" cy="174.8" r="3.3"/><circle cx="315.4" cy="228.2" r="3.3"/><circle cx="261.8" cy="226.5" r="3.3"/><circle cx="369.5" cy="247.6" r="3.3"/><circle cx="200.8" cy="279.3" r="3.3"/><circle cx="360.5" cy="258.4" r="3.3"/><circle cx="401.4" cy="245.2" r="3.3"/><circle cx="364.6" cy="171.2" r="3.3"/><circle cx="203.2" cy="198.0" r="3.3"/><circle cx="318.0" cy="234.1" r="3.3"/><circle cx="371.6" cy="206.1" r="3.3"/><circle cx="277.7" cy="322.6" r="3.3"/><circle cx="385.1" cy="146.2" r="3.3"/><circle cx="219.3" cy="216.8" r="3.3"/><circle cx="305.6" cy="270.0" r="3.3"/><circle cx="312.6" cy="205.3" r="3.3"/><circle cx="367.8" cy="160.9" r="3.3"/><circle cx="277.8" cy="198.1" r="3.3"/><circle cx="241.2" cy="323.8" r="3.3"/><circle cx="349.2" cy="240.5" r="3.3"/><circle cx="207.0" cy="279.7" r="3.3"/><circle cx="267.3" cy="192.6" r="3.3"/><circle cx="291.1" cy="256.6" r="3.3"/><circle cx="367.6" cy="126.7" r="3.3"/><circle cx="280.8" cy="185.8" r="3.3"/><circle cx="313.5" cy="225.2" r="3.3"/><circle cx="341.2" cy="224.6" r="3.3"/><circle cx="340.5" cy="201.1" r="3.3"/><circle cx="459.6" cy="282.9" r="3.3"/><circle cx="290.0" cy="200.6" r="3.3"/><circle cx="315.8" cy="185.4" r="3.3"/><circle cx="225.4" cy="258.1" r="3.3"/><circle cx="239.0" cy="268.7" r="3.3"/><circle cx="230.0" cy="272.2" r="3.3"/><circle cx="303.3" cy="226.6" r="3.3"/><circle cx="227.2" cy="168.3" r="3.3"/><circle cx="315.4" cy="201.0" r="3.3"/><circle cx="378.9" cy="162.7" r="3.3"/><circle cx="196.7" cy="207.6" r="3.3"/><circle cx="237.6" cy="163.8" r="3.3"/><circle cx="297.9" cy="237.2" r="3.3"/><circle cx="189.5" cy="205.2" r="3.3"/><circle cx="213.9" cy="235.2" r="3.3"/><circle cx="316.6" cy="310.5" r="3.3"/><circle cx="274.8" cy="188.6" r="3.3"/><circle cx="413.3" cy="169.7" r="3.3"/><circle cx="315.5" cy="183.7" r="3.3"/><circle cx="359.9" cy="152.6" r="3.3"/><circle cx="262.1" cy="227.3" r="3.3"/><circle cx="269.5" cy="224.2" r="3.3"/><circle cx="388.7" cy="208.7" r="3.3"/><circle cx="326.2" cy="309.4" r="3.3"/><circle cx="420.0" cy="200.5" r="3.3"/><circle cx="239.8" cy="236.3" r="3.3"/><circle cx="207.0" cy="294.7" r="3.3"/><circle cx="340.9" cy="265.8" r="3.3"/><circle cx="209.5" cy="231.6" r="3.3"/><circle cx="197.5" cy="243.2" r="3.3"/><circle cx="272.7" cy="203.4" r="3.3"/><circle cx="343.1" cy="205.2" r="3.3"/><circle cx="265.5" cy="217.3" r="3.3"/><circle cx="358.9" cy="206.0" r="3.3"/><circle cx="288.1" cy="186.3" r="3.3"/><circle cx="247.6" cy="233.8" r="3.3"/><circle cx="306.9" cy="188.2" r="3.3"/><circle cx="323.6" cy="188.2" r="3.3"/><circle cx="215.4" cy="206.8" r="3.3"/><circle cx="320.5" cy="248.0" r="3.3"/><circle cx="219.9" cy="178.0" r="3.3"/><circle cx="464.5" cy="331.6" r="3.3"/><circle cx="306.2" cy="175.3" r="3.3"/><circle cx="228.7" cy="239.3" r="3.3"/><circle cx="188.5" cy="203.5" r="3.3"/><circle cx="230.8" cy="247.7" r="3.3"/><circle cx="255.5" cy="275.6" r="3.3"/><circle cx="316.2" cy="203.0" r="3.3"/><circle cx="337.6" cy="203.0" r="3.3"/><circle cx="349.1" cy="327.6" r="3.3"/><circle cx="284.7" cy="225.8" r="3.3"/><circle cx="329.7" cy="193.2" r="3.3"/><circle cx="311.5" cy="181.5" r="3.3"/><circle cx="250.3" cy="274.5" r="3.3"/><circle cx="231.9" cy="249.6" r="3.3"/><circle cx="274.8" cy="196.9" r="3.3"/><circle cx="343.8" cy="206.0" r="3.3"/><circle cx="211.8" cy="188.8" r="3.3"/><circle cx="331.1" cy="244.7" r="3.3"/><circle cx="223.5" cy="255.4" r="3.3"/><circle cx="339.1" cy="232.5" r="3.3"/><circle cx="373.3" cy="159.5" r="3.3"/><circle cx="362.3" cy="274.9" r="3.3"/><circle cx="342.4" cy="216.4" r="3.3"/><circle cx="240.2" cy="290.8" r="3.3"/><circle cx="489.8" cy="211.4" r="3.3"/><circle cx="322.7" cy="273.6" r="3.3"/><circle cx="417.2" cy="235.6" r="3.3"/><circle cx="435.7" cy="218.5" r="3.3"/><circle cx="236.6" cy="235.6" r="3.3"/><circle cx="466.3" cy="159.6" r="3.3"/><circle cx="198.9" cy="203.7" r="3.3"/><circle cx="331.4" cy="282.0" r="3.3"/><circle cx="240.8" cy="264.5" r="3.3"/><circle cx="202.1" cy="203.3" r="3.3"/><circle cx="315.2" cy="166.5" r="3.3"/><circle cx="230.3" cy="285.9" r="3.3"/><circle cx="367.3" cy="133.6" r="3.3"/><circle cx="289.6" cy="229.2" r="3.3"/><circle cx="244.0" cy="248.7" r="3.3"/><circle cx="179.1" cy="226.2" r="3.3"/><circle cx="344.4" cy="279.2" r="3.3"/><circle cx="331.2" cy="224.7" r="3.3"/><circle cx="372.5" cy="341.0" r="3.3"/><circle cx="270.9" cy="241.5" r="3.3"/><circle cx="420.3" cy="198.3" r="3.3"/><circle cx="182.9" cy="186.3" r="3.3"/><circle cx="422.9" cy="253.5" r="3.3"/><circle cx="361.7" cy="160.0" r="3.3"/><circle cx="204.1" cy="205.5" r="3.3"/><circle cx="488.7" cy="197.3" r="3.3"/><circle cx="201.0" cy="252.8" r="3.3"/><circle cx="358.5" cy="281.7" r="3.3"/><circle cx="237.9" cy="313.4" r="3.3"/><circle cx="344.2" cy="282.4" r="3.3"/><circle cx="382.6" cy="238.0" r="3.3"/><circle cx="207.8" cy="216.4" r="3.3"/><circle cx="257.0" cy="248.8" r="3.3"/><circle cx="408.5" cy="156.2" r="3.3"/><circle cx="293.4" cy="195.0" r="3.3"/><circle cx="216.2" cy="379.2" r="3.3"/><circle cx="200.3" cy="246.9" r="3.3"/><circle cx="209.0" cy="309.5" r="3.3"/><circle cx="204.9" cy="193.3" r="3.3"/><circle cx="264.7" cy="230.5" r="3.3"/><circle cx="364.7" cy="167.1" r="3.3"/><circle cx="287.5" cy="240.8" r="3.3"/><circle cx="203.1" cy="309.8" r="3.3"/><circle cx="263.7" cy="212.5" r="3.3"/><circle cx="294.9" cy="148.9" r="3.3"/><circle cx="286.4" cy="197.2" r="3.3"/><circle cx="332.3" cy="161.0" r="3.3"/><circle cx="341.7" cy="201.1" r="3.3"/><circle cx="357.7" cy="244.8" r="3.3"/><circle cx="307.3" cy="331.8" r="3.3"/><circle cx="184.8" cy="209.1" r="3.3"/><circle cx="362.9" cy="163.5" r="3.3"/><circle cx="366.4" cy="147.4" r="3.3"/><circle cx="353.3" cy="182.6" r="3.3"/><circle cx="283.9" cy="189.5" r="3.3"/><circle cx="404.1" cy="162.7" r="3.3"/><circle cx="202.6" cy="293.5" r="3.3"/><circle cx="355.9" cy="179.8" r="3.3"/><circle cx="321.6" cy="171.9" r="3.3"/><circle cx="346.3" cy="166.6" r="3.3"/><circle cx="195.3" cy="260.0" r="3.3"/><circle cx="464.5" cy="176.5" r="3.3"/><circle cx="184.9" cy="221.1" r="3.3"/><circle cx="221.9" cy="252.1" r="3.3"/><circle cx="302.7" cy="227.9" r="3.3"/><circle cx="316.1" cy="206.1" r="3.3"/><circle cx="222.1" cy="240.6" r="3.3"/><circle cx="248.2" cy="201.3" r="3.3"/><circle cx="420.5" cy="184.4" r="3.3"/><circle cx="256.2" cy="242.0" r="3.3"/><circle cx="285.7" cy="152.7" r="3.3"/><circle cx="206.3" cy="219.6" r="3.3"/><circle cx="315.1" cy="197.5" r="3.3"/><circle cx="346.5" cy="185.5" r="3.3"/><circle cx="356.0" cy="203.3" r="3.3"/><circle cx="235.1" cy="247.5" r="3.3"/><circle cx="267.6" cy="249.3" r="3.3"/><circle cx="335.5" cy="242.7" r="3.3"/><circle cx="469.8" cy="197.0" r="3.3"/><circle cx="363.0" cy="135.6" r="3.3"/><circle cx="231.9" cy="197.4" r="3.3"/><circle cx="194.8" cy="251.7" r="3.3"/><circle cx="257.8" cy="178.3" r="3.3"/><circle cx="305.7" cy="221.0" r="3.3"/><circle cx="244.5" cy="156.4" r="3.3"/><circle cx="368.2" cy="251.2" r="3.3"/><circle cx="240.8" cy="187.1" r="3.3"/><circle cx="209.3" cy="221.9" r="3.3"/><circle cx="323.1" cy="167.2" r="3.3"/><circle cx="360.6" cy="167.0" r="3.3"/><circle cx="228.5" cy="222.5" r="3.3"/><circle cx="259.2" cy="222.6" r="3.3"/><circle cx="241.6" cy="280.1" r="3.3"/><circle cx="342.2" cy="268.0" r="3.3"/><circle cx="190.8" cy="203.6" r="3.3"/><circle cx="325.4" cy="197.0" r="3.3"/><circle cx="329.0" cy="306.1" r="3.3"/><circle cx="305.9" cy="213.6" r="3.3"/><circle cx="188.5" cy="205.9" r="3.3"/><circle cx="187.0" cy="227.9" r="3.3"/><circle cx="302.3" cy="258.9" r="3.3"/><circle cx="296.5" cy="272.5" r="3.3"/><circle cx="178.8" cy="236.1" r="3.3"/><circle cx="363.9" cy="188.2" r="3.3"/><circle cx="257.0" cy="173.7" r="3.3"/><circle cx="350.3" cy="197.6" r="3.3"/><circle cx="227.0" cy="203.5" r="3.3"/><circle cx="243.0" cy="253.6" r="3.3"/><circle cx="410.1" cy="127.8" r="3.3"/><circle cx="226.8" cy="220.8" r="3.3"/><circle cx="276.9" cy="200.1" r="3.3"/><circle cx="298.4" cy="204.7" r="3.3"/><circle cx="349.1" cy="197.1" r="3.3"/><circle cx="256.1" cy="337.1" r="3.3"/><circle cx="334.2" cy="229.6" r="3.3"/><circle cx="232.6" cy="212.3" r="3.3"/><circle cx="341.9" cy="187.9" r="3.3"/><circle cx="182.1" cy="227.0" r="3.3"/><circle cx="224.2" cy="309.4" r="3.3"/><circle cx="193.6" cy="242.8" r="3.3"/><circle cx="204.0" cy="324.4" r="3.3"/><circle cx="357.8" cy="170.7" r="3.3"/><circle cx="290.2" cy="217.1" r="3.3"/><circle cx="366.4" cy="229.1" r="3.3"/><circle cx="472.2" cy="229.6" r="3.3"/><circle cx="224.0" cy="182.5" r="3.3"/><circle cx="362.8" cy="191.7" r="3.3"/><circle cx="468.6" cy="242.6" r="3.3"/><circle cx="253.4" cy="234.3" r="3.3"/><circle cx="197.8" cy="191.8" r="3.3"/><circle cx="289.6" cy="206.2" r="3.3"/><circle cx="308.9" cy="211.7" r="3.3"/><circle cx="343.5" cy="126.5" r="3.3"/><circle cx="315.6" cy="201.7" r="3.3"/><circle cx="251.6" cy="218.8" r="3.3"/><circle cx="218.4" cy="328.3" r="3.3"/><circle cx="260.7" cy="222.0" r="3.3"/><circle cx="291.3" cy="217.6" r="3.3"/><circle cx="223.9" cy="178.4" r="3.3"/><circle cx="250.8" cy="164.9" r="3.3"/><circle cx="402.6" cy="190.6" r="3.3"/><circle cx="280.5" cy="231.6" r="3.3"/><circle cx="209.6" cy="198.2" r="3.3"/><circle cx="338.1" cy="214.5" r="3.3"/><circle cx="264.2" cy="174.2" r="3.3"/><circle cx="302.3" cy="188.0" r="3.3"/><circle cx="273.2" cy="220.2" r="3.3"/><circle cx="207.1" cy="208.4" r="3.3"/><circle cx="355.1" cy="197.3" r="3.3"/><circle cx="315.1" cy="236.9" r="3.3"/><circle cx="491.8" cy="144.1" r="3.3"/><circle cx="176.8" cy="253.2" r="3.3"/><circle cx="317.1" cy="309.9" r="3.3"/><circle cx="281.1" cy="263.2" r="3.3"/><circle cx="283.2" cy="202.4" r="3.3"/><circle cx="351.7" cy="220.2" r="3.3"/><circle cx="237.4" cy="181.3" r="3.3"/><circle cx="274.9" cy="245.3" r="3.3"/><circle cx="211.5" cy="260.7" r="3.3"/><circle cx="314.6" cy="180.0" r="3.3"/><circle cx="283.8" cy="202.8" r="3.3"/><circle cx="188.5" cy="244.7" r="3.3"/><circle cx="234.6" cy="243.3" r="3.3"/><circle cx="273.8" cy="231.5" r="3.3"/><circle cx="306.3" cy="244.1" r="3.3"/><circle cx="201.8" cy="283.5" r="3.3"/><circle cx="327.1" cy="205.0" r="3.3"/><circle cx="376.3" cy="133.0" r="3.3"/><circle cx="259.0" cy="263.1" r="3.3"/><circle cx="214.7" cy="231.4" r="3.3"/><circle cx="361.3" cy="228.9" r="3.3"/><circle cx="306.4" cy="254.9" r="3.3"/><circle cx="212.2" cy="231.9" r="3.3"/><circle cx="219.7" cy="242.7" r="3.3"/><circle cx="381.3" cy="301.1" r="3.3"/><circle cx="341.4" cy="241.6" r="3.3"/><circle cx="345.3" cy="181.5" r="3.3"/><circle cx="213.2" cy="311.7" r="3.3"/><circle cx="494.6" cy="200.2" r="3.3"/><circle cx="240.2" cy="202.0" r="3.3"/><circle cx="264.0" cy="194.9" r="3.3"/><circle cx="235.4" cy="218.2" r="3.3"/><circle cx="440.6" cy="189.3" r="3.3"/><circle cx="330.0" cy="259.4" r="3.3"/><circle cx="311.4" cy="206.3" r="3.3"/><circle cx="278.3" cy="243.1" r="3.3"/><circle cx="350.4" cy="186.2" r="3.3"/><circle cx="291.3" cy="211.2" r="3.3"/><circle cx="289.6" cy="195.7" r="3.3"/><circle cx="215.9" cy="216.1" r="3.3"/><circle cx="378.1" cy="223.8" r="3.3"/><circle cx="195.0" cy="202.3" r="3.3"/><circle cx="415.6" cy="191.6" r="3.3"/><circle cx="421.3" cy="222.7" r="3.3"/><circle cx="304.3" cy="142.3" r="3.3"/><circle cx="218.6" cy="217.5" r="3.3"/><circle cx="231.6" cy="261.4" r="3.3"/><circle cx="213.0" cy="246.9" r="3.3"/><circle cx="346.5" cy="249.5" r="3.3"/><circle cx="266.1" cy="192.5" r="3.3"/><circle cx="481.5" cy="194.2" r="3.3"/><circle cx="261.0" cy="199.0" r="3.3"/><circle cx="258.2" cy="173.7" r="3.3"/><circle cx="340.8" cy="244.7" r="3.3"/><circle cx="399.7" cy="173.5" r="3.3"/><circle cx="305.1" cy="241.8" r="3.3"/><circle cx="208.9" cy="265.2" r="3.3"/><circle cx="220.4" cy="269.8" r="3.3"/><circle cx="349.9" cy="181.3" r="3.3"/><circle cx="362.0" cy="244.0" r="3.3"/><circle cx="493.5" cy="151.0" r="3.3"/><circle cx="316.1" cy="229.8" r="3.3"/><circle cx="366.1" cy="130.1" r="3.3"/><circle cx="340.3" cy="244.6" r="3.3"/><circle cx="310.6" cy="160.7" r="3.3"/><circle cx="373.4" cy="227.5" r="3.3"/><circle cx="228.3" cy="241.1" r="3.3"/><circle cx="216.2" cy="177.3" r="3.3"/><circle cx="253.5" cy="230.6" r="3.3"/><circle cx="271.4" cy="243.6" r="3.3"/><circle cx="446.4" cy="230.3" r="3.3"/><circle cx="378.6" cy="319.0" r="3.3"/><circle cx="356.9" cy="174.6" r="3.3"/><circle cx="406.5" cy="186.2" r="3.3"/><circle cx="271.0" cy="203.6" r="3.3"/><circle cx="484.9" cy="199.8" r="3.3"/><circle cx="415.7" cy="158.8" r="3.3"/><circle cx="223.8" cy="233.1" r="3.3"/><circle cx="269.6" cy="189.8" r="3.3"/><circle cx="253.0" cy="189.4" r="3.3"/><circle cx="225.7" cy="259.3" r="3.3"/><circle cx="436.3" cy="194.4" r="3.3"/><circle cx="272.7" cy="255.3" r="3.3"/><circle cx="395.4" cy="215.6" r="3.3"/><circle cx="321.7" cy="262.4" r="3.3"/><circle cx="193.3" cy="229.3" r="3.3"/><circle cx="282.9" cy="147.9" r="3.3"/><circle cx="365.6" cy="366.4" r="3.3"/><circle cx="255.7" cy="191.3" r="3.3"/><circle cx="249.4" cy="268.5" r="3.3"/><circle cx="202.0" cy="197.5" r="3.3"/><circle cx="292.6" cy="215.6" r="3.3"/><circle cx="440.4" cy="165.2" r="3.3"/><circle cx="181.3" cy="252.6" r="3.3"/><circle cx="404.0" cy="147.2" r="3.3"/><circle cx="322.4" cy="160.3" r="3.3"/><circle cx="246.5" cy="218.3" r="3.3"/><circle cx="410.2" cy="246.4" r="3.3"/><circle cx="429.0" cy="186.6" r="3.3"/><circle cx="470.0" cy="140.9" r="3.3"/><circle cx="289.9" cy="356.7" r="3.3"/><circle cx="278.4" cy="173.2" r="3.3"/><circle cx="337.9" cy="185.6" r="3.3"/><circle cx="405.0" cy="201.9" r="3.3"/><circle cx="263.0" cy="194.4" r="3.3"/><circle cx="258.8" cy="244.8" r="3.3"/><circle cx="277.0" cy="208.3" r="3.3"/><circle cx="182.1" cy="274.3" r="3.3"/><circle cx="383.7" cy="151.2" r="3.3"/><circle cx="288.6" cy="261.3" r="3.3"/><circle cx="290.8" cy="284.3" r="3.3"/><circle cx="330.3" cy="180.8" r="3.3"/><circle cx="373.6" cy="171.4" r="3.3"/><circle cx="347.6" cy="267.1" r="3.3"/><circle cx="259.1" cy="210.8" r="3.3"/><circle cx="249.9" cy="210.7" r="3.3"/><circle cx="259.0" cy="229.8" r="3.3"/><circle cx="306.4" cy="217.3" r="3.3"/><circle cx="374.1" cy="244.2" r="3.3"/><circle cx="177.9" cy="254.9" r="3.3"/><circle cx="323.8" cy="234.3" r="3.3"/><circle cx="385.1" cy="190.5" r="3.3"/><circle cx="313.3" cy="212.2" r="3.3"/><circle cx="270.4" cy="272.6" r="3.3"/><circle cx="292.6" cy="272.0" r="3.3"/><circle cx="302.2" cy="225.4" r="3.3"/><circle cx="329.0" cy="218.2" r="3.3"/><circle cx="197.3" cy="209.7" r="3.3"/><circle cx="368.9" cy="198.8" r="3.3"/><circle cx="311.0" cy="177.9" r="3.3"/><circle cx="245.7" cy="221.1" r="3.3"/><circle cx="420.7" cy="140.7" r="3.3"/><circle cx="274.6" cy="191.1" r="3.3"/><circle cx="364.3" cy="178.3" r="3.3"/><circle cx="250.6" cy="218.9" r="3.3"/><circle cx="310.2" cy="233.3" r="3.3"/><circle cx="224.9" cy="181.5" r="3.3"/><circle cx="244.9" cy="239.2" r="3.3"/><circle cx="258.1" cy="257.2" r="3.3"/><circle cx="213.9" cy="191.6" r="3.3"/><circle cx="360.7" cy="162.7" r="3.3"/><circle cx="287.0" cy="171.1" r="3.3"/><circle cx="262.4" cy="235.1" r="3.3"/><circle cx="319.0" cy="198.4" r="3.3"/><circle cx="234.5" cy="168.2" r="3.3"/><circle cx="283.9" cy="173.6" r="3.3"/><circle cx="314.8" cy="195.5" r="3.3"/><circle cx="326.3" cy="155.6" r="3.3"/><circle cx="280.3" cy="256.7" r="3.3"/><circle cx="356.5" cy="169.6" r="3.3"/><circle cx="394.4" cy="240.1" r="3.3"/><circle cx="459.5" cy="127.5" r="3.3"/><circle cx="313.1" cy="193.1" r="3.3"/><circle cx="461.4" cy="265.5" r="3.3"/><circle cx="437.2" cy="150.7" r="3.3"/><circle cx="335.7" cy="149.7" r="3.3"/><circle cx="211.8" cy="278.5" r="3.3"/><circle cx="332.3" cy="248.2" r="3.3"/><circle cx="306.2" cy="211.6" r="3.3"/><circle cx="346.9" cy="163.6" r="3.3"/><circle cx="244.2" cy="200.3" r="3.3"/><circle cx="500.1" cy="171.7" r="3.3"/><circle cx="262.2" cy="320.9" r="3.3"/><circle cx="532.5" cy="140.8" r="3.3"/><circle cx="245.5" cy="241.8" r="3.3"/><circle cx="293.4" cy="239.9" r="3.3"/><circle cx="341.9" cy="264.4" r="3.3"/><circle cx="241.6" cy="244.3" r="3.3"/><circle cx="276.5" cy="203.5" r="3.3"/><circle cx="337.2" cy="200.2" r="3.3"/><circle cx="358.8" cy="200.0" r="3.3"/><circle cx="421.6" cy="201.6" r="3.3"/><circle cx="311.1" cy="214.6" r="3.3"/><circle cx="458.9" cy="140.9" r="3.3"/><circle cx="246.9" cy="258.8" r="3.3"/><circle cx="324.7" cy="193.9" r="3.3"/><circle cx="360.0" cy="216.9" r="3.3"/><circle cx="199.4" cy="210.2" r="3.3"/><circle cx="367.4" cy="195.4" r="3.3"/><circle cx="376.7" cy="349.3" r="3.3"/><circle cx="313.6" cy="143.4" r="3.3"/><circle cx="426.3" cy="207.1" r="3.3"/><circle cx="346.2" cy="170.9" r="3.3"/><circle cx="267.1" cy="314.0" r="3.3"/><circle cx="372.9" cy="246.1" r="3.3"/><circle cx="303.2" cy="261.0" r="3.3"/><circle cx="342.3" cy="255.4" r="3.3"/><circle cx="490.4" cy="162.4" r="3.3"/><circle cx="345.4" cy="205.8" r="3.3"/><circle cx="364.9" cy="279.1" r="3.3"/><circle cx="375.8" cy="196.6" r="3.3"/><circle cx="227.5" cy="311.8" r="3.3"/><circle cx="187.1" cy="277.3" r="3.3"/><circle cx="197.5" cy="229.9" r="3.3"/><circle cx="290.3" cy="217.7" r="3.3"/><circle cx="461.9" cy="186.7" r="3.3"/><circle cx="285.9" cy="190.3" r="3.3"/><circle cx="426.4" cy="174.4" r="3.3"/><circle cx="249.5" cy="214.1" r="3.3"/><circle cx="213.6" cy="231.9" r="3.3"/><circle cx="276.5" cy="277.6" r="3.3"/><circle cx="385.2" cy="196.4" r="3.3"/><circle cx="463.7" cy="190.7" r="3.3"/><circle cx="307.9" cy="237.3" r="3.3"/><circle cx="270.2" cy="259.7" r="3.3"/><circle cx="484.8" cy="370.1" r="3.3"/><circle cx="509.6" cy="284.3" r="3.3"/><circle cx="391.6" cy="277.7" r="3.3"/><circle cx="410.9" cy="283.6" r="3.3"/><circle cx="443.6" cy="259.6" r="3.3"/><circle cx="426.2" cy="246.7" r="3.3"/><circle cx="529.5" cy="294.8" r="3.3"/><circle cx="434.0" cy="260.1" r="3.3"/><circle cx="465.2" cy="216.2" r="3.3"/><circle cx="373.8" cy="225.4" r="3.3"/><circle cx="507.2" cy="255.6" r="3.3"/><circle cx="389.2" cy="310.3" r="3.3"/><circle cx="471.0" cy="205.2" r="3.3"/><circle cx="428.1" cy="290.6" r="3.3"/><circle cx="411.2" cy="328.0" r="3.3"/><circle cx="482.5" cy="217.1" r="3.3"/><circle cx="500.4" cy="314.8" r="3.3"/><circle cx="424.9" cy="291.0" r="3.3"/><circle cx="424.4" cy="306.5" r="3.3"/><circle cx="404.1" cy="203.6" r="3.3"/><circle cx="425.5" cy="250.1" r="3.3"/><circle cx="444.3" cy="302.1" r="3.3"/><circle cx="442.6" cy="231.2" r="3.3"/><circle cx="399.1" cy="271.7" r="3.3"/><circle cx="399.6" cy="285.3" r="3.3"/><circle cx="458.8" cy="261.1" r="3.3"/><circle cx="398.9" cy="270.6" r="3.3"/><circle cx="500.2" cy="196.4" r="3.3"/><circle cx="493.1" cy="215.7" r="3.3"/><circle cx="451.5" cy="256.5" r="3.3"/><circle cx="404.7" cy="244.0" r="3.3"/><circle cx="467.8" cy="266.7" r="3.3"/><circle cx="448.7" cy="288.4" r="3.3"/><circle cx="437.8" cy="311.2" r="3.3"/><circle cx="475.2" cy="237.9" r="3.3"/><circle cx="416.9" cy="313.8" r="3.3"/><circle cx="458.2" cy="370.9" r="3.3"/><circle cx="499.2" cy="221.4" r="3.3"/><circle cx="416.2" cy="317.9" r="3.3"/><circle cx="371.2" cy="229.5" r="3.3"/><circle cx="458.7" cy="193.6" r="3.3"/><circle cx="413.8" cy="262.8" r="3.3"/><circle cx="385.9" cy="370.0" r="3.3"/><circle cx="424.0" cy="335.3" r="3.3"/><circle cx="438.9" cy="257.3" r="3.3"/><circle cx="420.4" cy="224.2" r="3.3"/><circle cx="441.7" cy="254.5" r="3.3"/><circle cx="504.8" cy="306.6" r="3.3"/><circle cx="429.1" cy="213.8" r="3.3"/><circle cx="413.0" cy="262.7" r="3.3"/><circle cx="390.5" cy="223.7" r="3.3"/><circle cx="376.4" cy="291.4" r="3.3"/><circle cx="495.7" cy="278.5" r="3.3"/><circle cx="477.6" cy="313.4" r="3.3"/><circle cx="411.0" cy="237.5" r="3.3"/><circle cx="430.5" cy="266.0" r="3.3"/><circle cx="516.3" cy="199.6" r="3.3"/><circle cx="426.0" cy="294.9" r="3.3"/><circle cx="398.1" cy="256.0" r="3.3"/><circle cx="463.0" cy="228.7" r="3.3"/><circle cx="524.0" cy="246.7" r="3.3"/><circle cx="434.8" cy="347.2" r="3.3"/><circle cx="490.1" cy="226.0" r="3.3"/><circle cx="476.6" cy="273.1" r="3.3"/><circle cx="462.7" cy="229.9" r="3.3"/><circle cx="409.7" cy="363.2" r="3.3"/><circle cx="393.4" cy="216.5" r="3.3"/><circle cx="472.9" cy="198.4" r="3.3"/><circle cx="467.9" cy="218.1" r="3.3"/><circle cx="507.5" cy="370.8" r="3.3"/><circle cx="403.8" cy="249.8" r="3.3"/><circle cx="410.9" cy="320.4" r="3.3"/><circle cx="511.2" cy="216.8" r="3.3"/><circle cx="429.4" cy="238.6" r="3.3"/><circle cx="472.0" cy="323.1" r="3.3"/><circle cx="502.7" cy="259.5" r="3.3"/><circle cx="451.5" cy="218.5" r="3.3"/><circle cx="367.1" cy="305.9" r="3.3"/><circle cx="489.9" cy="315.5" r="3.3"/><circle cx="517.1" cy="300.8" r="3.3"/><circle cx="471.2" cy="242.8" r="3.3"/><circle cx="419.8" cy="333.1" r="3.3"/><circle cx="438.6" cy="208.7" r="3.3"/><circle cx="426.2" cy="302.8" r="3.3"/><circle cx="404.9" cy="286.4" r="3.3"/><circle cx="449.9" cy="264.3" r="3.3"/><circle cx="495.5" cy="262.2" r="3.3"/><circle cx="455.6" cy="289.2" r="3.3"/><circle cx="486.7" cy="321.0" r="3.3"/><circle cx="444.7" cy="291.0" r="3.3"/><circle cx="389.2" cy="366.3" r="3.3"/><circle cx="396.6" cy="331.8" r="3.3"/><circle cx="385.4" cy="319.3" r="3.3"/><circle cx="478.9" cy="361.1" r="3.3"/><circle cx="434.6" cy="214.3" r="3.3"/><circle cx="424.3" cy="306.7" r="3.3"/><circle cx="508.9" cy="274.1" r="3.3"/><circle cx="453.8" cy="360.4" r="3.3"/><circle cx="446.2" cy="242.1" r="3.3"/><circle cx="386.2" cy="296.1" r="3.3"/><circle cx="488.4" cy="280.6" r="3.3"/><circle cx="393.3" cy="251.3" r="3.3"/><circle cx="466.5" cy="311.9" r="3.3"/><circle cx="425.2" cy="322.9" r="3.3"/><circle cx="434.1" cy="303.5" r="3.3"/><circle cx="477.1" cy="291.2" r="3.3"/><circle cx="488.1" cy="213.2" r="3.3"/><circle cx="390.0" cy="263.8" r="3.3"/><circle cx="467.9" cy="295.4" r="3.3"/><circle cx="452.6" cy="306.7" r="3.3"/><circle cx="452.9" cy="343.8" r="3.3"/><circle cx="415.6" cy="190.8" r="3.3"/><circle cx="476.5" cy="254.3" r="3.3"/><circle cx="505.7" cy="330.1" r="3.3"/><circle cx="453.8" cy="265.0" r="3.3"/><circle cx="382.7" cy="221.5" r="3.3"/><circle cx="512.5" cy="207.0" r="3.3"/><circle cx="477.3" cy="289.2" r="3.3"/><circle cx="401.9" cy="223.9" r="3.3"/><circle cx="434.2" cy="260.7" r="3.3"/><circle cx="477.6" cy="258.3" r="3.3"/><circle cx="462.6" cy="253.0" r="3.3"/><circle cx="425.5" cy="258.4" r="3.3"/><circle cx="442.6" cy="281.1" r="3.3"/><circle cx="505.7" cy="303.9" r="3.3"/><circle cx="470.3" cy="334.3" r="3.3"/><circle cx="468.0" cy="268.4" r="3.3"/><circle cx="437.4" cy="358.0" r="3.3"/><circle cx="376.5" cy="203.0" r="3.3"/><circle cx="411.2" cy="215.0" r="3.3"/><circle cx="448.8" cy="197.9" r="3.3"/><circle cx="403.6" cy="237.5" r="3.3"/><circle cx="460.0" cy="269.4" r="3.3"/><circle cx="249.7" cy="122.3" r="3.3"/><circle cx="254.6" cy="127.2" r="3.3"/><circle cx="259.9" cy="125.6" r="3.3"/><circle cx="264.0" cy="119.4" r="3.3"/><circle cx="273.8" cy="130.5" r="3.3"/><circle cx="282.0" cy="123.5" r="3.3"/><circle cx="292.6" cy="119.4" r="3.3"/><circle cx="351.5" cy="108.8" r="3.3"/><circle cx="343.4" cy="120.2" r="3.3"/><circle cx="373.2" cy="115.3" r="3.3"/><circle cx="381.4" cy="117.4" r="3.3"/><circle cx="329.4" cy="129.7" r="3.3"/><circle cx="466.1" cy="103.9" r="3.3"/><circle cx="433.8" cy="112.9" r="3.3"/><circle cx="200.8" cy="423.9" r="3.3"/><circle cx="212.3" cy="404.9" r="3.3"/><circle cx="241.8" cy="425.9" r="3.3"/><circle cx="273.7" cy="416.9" r="3.3"/><circle cx="267.2" cy="461.8" r="3.3"/><circle cx="224.3" cy="477.8" r="3.3"/><circle cx="342.7" cy="407.4" r="3.3"/><circle cx="373.6" cy="460.8" r="3.3"/><circle cx="409.6" cy="441.9" r="3.3"/><circle cx="785.4" cy="119.6" r="3.3"/><circle cx="764.6" cy="139.0" r="3.3"/><circle cx="732.4" cy="157.6" r="3.3"/><circle cx="646.5" cy="228.5" r="3.3"/><circle cx="604.0" cy="203.5" r="3.3"/></g>
<g clip-path="url(#cl)" fill="#ff7f0e" fill-opacity="0.5"><circle cx="623.1" cy="122.0" r="3.3"/><circle cx="512.5" cy="161.9" r="3.3"/><circle cx="480.6" cy="134.1" r="3.3"/><circle cx="496.8" cy="137.4" r="3.3"/><circle cx="476.6" cy="188.6" r="3.3"/><circle cx="496.0" cy="160.6" r="3.3"/><circle cx="501.9" cy="169.0" r="3.3"/><circle cx="501.1" cy="108.1" r="3.3"/><circle cx="535.3" cy="128.2" r="3.3"/><circle cx="463.9" cy="148.1" r="3.3"/><circle cx="499.8" cy="160.6" r="3.3"/><circle cx="448.9" cy="143.5" r="3.3"/><circle cx="569.2" cy="125.8" r="3.3"/><circle cx="577.6" cy="161.5" r="3.3"/><circle cx="634.2" cy="131.6" r="3.3"/><circle cx="591.8" cy="127.1" r="3.3"/><circle cx="590.1" cy="128.7" r="3.3"/><circle cx="506.9" cy="131.8" r="3.3"/><circle cx="595.0" cy="150.5" r="3.3"/><circle cx="514.3" cy="130.4" r="3.3"/><circle cx="566.6" cy="131.5" r="3.3"/><circle cx="531.7" cy="158.9" r="3.3"/><circle cx="547.6" cy="138.4" r="3.3"/><circle cx="592.2" cy="164.6" r="3.3"/><circle cx="490.9" cy="134.4" r="3.3"/><circle cx="605.5" cy="119.0" r="3.3"/><circle cx="556.1" cy="159.5" r="3.3"/><circle cx="482.4" cy="142.5" r="3.3"/><circle cx="539.7" cy="128.8" r="3.3"/><circle cx="618.0" cy="116.4" r="3.3"/><circle cx="483.7" cy="176.5" r="3.3"/><circle cx="457.3" cy="203.2" r="3.3"/><circle cx="467.3" cy="165.8" r="3.3"/><circle cx="584.2" cy="106.9" r="3.3"/><circle cx="507.9" cy="117.1" r="3.3"/><circle cx="529.4" cy="177.4" r="3.3"/><circle cx="543.4" cy="135.3" r="3.3"/><circle cx="518.0" cy="140.6" r="3.3"/><circle cx="497.7" cy="142.4" r="3.3"/><circle cx="542.7" cy="149.7" r="3.3"/><circle cx="560.7" cy="139.0" r="3.3"/><circle cx="510.2" cy="177.9" r="3.3"/><circle cx="588.5" cy="152.3" r="3.3"/><circle cx="546.3" cy="126.2" r="3.3"/><circle cx="483.8" cy="168.4" r="3.3"/><circle cx="564.8" cy="129.3" r="3.3"/><circle cx="522.3" cy="105.8" r="3.3"/><circle cx="559.0" cy="141.9" r="3.3"/><circle cx="582.7" cy="143.3" r="3.3"/><circle cx="461.4" cy="215.5" r="3.3"/><circle cx="529.5" cy="103.3" r="3.3"/><circle cx="529.9" cy="129.9" r="3.3"/><circle cx="500.8" cy="154.9" r="3.3"/><circle cx="499.6" cy="124.1" r="3.3"/><circle cx="513.8" cy="118.0" r="3.3"/><circle cx="489.3" cy="138.5" r="3.3"/><circle cx="471.6" cy="193.9" r="3.3"/><circle cx="509.1" cy="142.4" r="3.3"/><circle cx="510.9" cy="183.8" r="3.3"/><circle cx="564.0" cy="191.8" r="3.3"/><circle cx="560.2" cy="142.7" r="3.3"/><circle cx="523.0" cy="157.4" r="3.3"/><circle cx="559.7" cy="139.7" r="3.3"/><circle cx="506.7" cy="143.9" r="3.3"/><circle cx="535.6" cy="173.0" r="3.3"/><circle cx="518.1" cy="164.3" r="3.3"/><circle cx="474.1" cy="174.4" r="3.3"/><circle cx="518.7" cy="120.9" r="3.3"/><circle cx="592.7" cy="117.4" r="3.3"/><circle cx="569.9" cy="152.9" r="3.3"/><circle cx="495.6" cy="118.3" r="3.3"/><circle cx="603.3" cy="123.7" r="3.3"/><circle cx="570.8" cy="134.1" r="3.3"/><circle cx="620.5" cy="127.0" r="3.3"/><circle cx="497.8" cy="136.0" r="3.3"/><circle cx="552.7" cy="155.2" r="3.3"/><circle cx="567.1" cy="158.5" r="3.3"/><circle cx="455.8" cy="178.5" r="3.3"/><circle cx="529.4" cy="142.8" r="3.3"/><circle cx="584.9" cy="115.6" r="3.3"/><circle cx="593.8" cy="109.6" r="3.3"/><circle cx="477.2" cy="119.8" r="3.3"/><circle cx="511.7" cy="128.8" r="3.3"/><circle cx="495.7" cy="145.2" r="3.3"/><circle cx="554.7" cy="126.2" r="3.3"/><circle cx="491.4" cy="161.1" r="3.3"/><circle cx="590.1" cy="130.6" r="3.3"/><circle cx="560.4" cy="148.0" r="3.3"/><circle cx="494.9" cy="163.7" r="3.3"/><circle cx="579.8" cy="146.4" r="3.3"/><circle cx="484.8" cy="128.7" r="3.3"/><circle cx="588.6" cy="160.3" r="3.3"/><circle cx="500.8" cy="128.4" r="3.3"/><circle cx="541.9" cy="176.0" r="3.3"/><circle cx="459.1" cy="176.4" r="3.3"/><circle cx="514.1" cy="178.5" r="3.3"/><circle cx="505.4" cy="154.6" r="3.3"/><circle cx="620.9" cy="136.6" r="3.3"/><circle cx="571.8" cy="125.3" r="3.3"/><circle cx="591.0" cy="155.6" r="3.3"/><circle cx="579.6" cy="133.2" r="3.3"/><circle cx="475.8" cy="145.6" r="3.3"/><circle cx="550.3" cy="147.9" r="3.3"/><circle cx="516.9" cy="104.4" r="3.3"/><circle cx="522.9" cy="139.7" r="3.3"/><circle cx="483.7" cy="157.9" r="3.3"/><circle cx="576.0" cy="159.2" r="3.3"/><circle cx="513.4" cy="130.3" r="3.3"/><circle cx="496.0" cy="155.1" r="3.3"/><circle cx="458.0" cy="159.7" r="3.3"/><circle cx="576.1" cy="100.3" r="3.3"/><circle cx="598.3" cy="145.9" r="3.3"/><circle cx="481.1" cy="144.7" r="3.3"/><circle cx="507.1" cy="140.7" r="3.3"/><circle cx="544.9" cy="127.8" r="3.3"/><circle cx="571.3" cy="154.5" r="3.3"/><circle cx="541.1" cy="123.3" r="3.3"/><circle cx="576.1" cy="154.2" r="3.3"/><circle cx="585.6" cy="142.3" r="3.3"/><circle cx="531.9" cy="160.7" r="3.3"/><circle cx="570.7" cy="124.0" r="3.3"/><circle cx="578.6" cy="121.4" r="3.3"/><circle cx="483.2" cy="110.7" r="3.3"/><circle cx="545.5" cy="117.2" r="3.3"/><circle cx="513.6" cy="165.1" r="3.3"/><circle cx="505.5" cy="180.8" r="3.3"/><circle cx="604.6" cy="115.2" r="3.3"/><circle cx="607.0" cy="125.8" r="3.3"/><circle cx="485.8" cy="147.9" r="3.3"/><circle cx="591.5" cy="141.7" r="3.3"/><circle cx="577.7" cy="156.0" r="3.3"/><circle cx="525.0" cy="138.6" r="3.3"/><circle cx="523.6" cy="103.8" r="3.3"/><circle cx="521.7" cy="144.9" r="3.3"/><circle cx="601.2" cy="115.6" r="3.3"/><circle cx="530.7" cy="128.5" r="3.3"/><circle cx="542.4" cy="128.7" r="3.3"/><circle cx="559.9" cy="152.9" r="3.3"/><circle cx="487.4" cy="152.3" r="3.3"/><circle cx="454.9" cy="185.5" r="3.3"/><circle cx="574.8" cy="160.8" r="3.3"/><circle cx="526.6" cy="140.6" r="3.3"/><circle cx="584.4" cy="125.3" r="3.3"/><circle cx="592.2" cy="142.2" r="3.3"/><circle cx="476.7" cy="194.7" r="3.3"/><circle cx="506.6" cy="160.0" r="3.3"/><circle cx="519.0" cy="109.5" r="3.3"/><circle cx="603.0" cy="165.1" r="3.3"/><circle cx="508.0" cy="130.8" r="3.3"/><circle cx="533.9" cy="167.3" r="3.3"/><circle cx="560.1" cy="153.2" r="3.3"/><circle cx="616.8" cy="114.4" r="3.3"/><circle cx="520.6" cy="148.1" r="3.3"/><circle cx="624.3" cy="147.9" r="3.3"/><circle cx="582.0" cy="126.3" r="3.3"/><circle cx="588.1" cy="149.1" r="3.3"/><circle cx="536.2" cy="101.5" r="3.3"/><circle cx="574.6" cy="138.8" r="3.3"/><circle cx="468.4" cy="171.6" r="3.3"/><circle cx="562.2" cy="115.0" r="3.3"/><circle cx="523.4" cy="160.0" r="3.3"/><circle cx="500.7" cy="159.0" r="3.3"/><circle cx="602.6" cy="167.9" r="3.3"/><circle cx="462.4" cy="208.5" r="3.3"/><circle cx="526.9" cy="126.8" r="3.3"/><circle cx="543.2" cy="110.8" r="3.3"/><circle cx="625.1" cy="113.2" r="3.3"/><circle cx="561.3" cy="112.1" r="3.3"/><circle cx="489.0" cy="133.0" r="3.3"/><circle cx="552.9" cy="134.9" r="3.3"/><circle cx="583.9" cy="130.4" r="3.3"/><circle cx="569.8" cy="170.8" r="3.3"/><circle cx="548.9" cy="157.5" r="3.3"/><circle cx="510.7" cy="114.2" r="3.3"/><circle cx="527.9" cy="106.7" r="3.3"/><circle cx="599.6" cy="142.4" r="3.3"/><circle cx="467.5" cy="181.0" r="3.3"/><circle cx="545.5" cy="114.1" r="3.3"/><circle cx="507.0" cy="156.9" r="3.3"/><circle cx="498.1" cy="132.4" r="3.3"/><circle cx="497.9" cy="156.3" r="3.3"/><circle cx="500.5" cy="107.2" r="3.3"/><circle cx="598.6" cy="124.0" r="3.3"/><circle cx="636.3" cy="155.4" r="3.3"/><circle cx="586.4" cy="114.1" r="3.3"/><circle cx="620.7" cy="179.8" r="3.3"/><circle cx="489.8" cy="119.3" r="3.3"/><circle cx="621.9" cy="112.7" r="3.3"/><circle cx="503.0" cy="135.3" r="3.3"/><circle cx="501.0" cy="168.0" r="3.3"/><circle cx="516.9" cy="130.6" r="3.3"/><circle cx="531.1" cy="116.4" r="3.3"/><circle cx="597.8" cy="114.2" r="3.3"/><circle cx="590.4" cy="144.8" r="3.3"/><circle cx="486.5" cy="121.5" r="3.3"/><circle cx="584.5" cy="161.9" r="3.3"/><circle cx="560.6" cy="159.7" r="3.3"/><circle cx="625.1" cy="160.1" r="3.3"/><circle cx="564.8" cy="128.7" r="3.3"/><circle cx="528.2" cy="132.4" r="3.3"/><circle cx="537.5" cy="156.2" r="3.3"/><circle cx="610.1" cy="155.0" r="3.3"/><circle cx="457.2" cy="163.1" r="3.3"/><circle cx="616.8" cy="155.4" r="3.3"/><circle cx="538.2" cy="174.5" r="3.3"/><circle cx="480.2" cy="174.2" r="3.3"/><circle cx="603.9" cy="160.6" r="3.3"/><circle cx="590.8" cy="148.0" r="3.3"/><circle cx="512.5" cy="132.3" r="3.3"/><circle cx="535.5" cy="151.3" r="3.3"/><circle cx="514.5" cy="118.6" r="3.3"/><circle cx="518.0" cy="169.7" r="3.3"/><circle cx="568.5" cy="150.3" r="3.3"/><circle cx="591.6" cy="122.6" r="3.3"/><circle cx="495.1" cy="115.7" r="3.3"/><circle cx="495.5" cy="121.6" r="3.3"/><circle cx="495.4" cy="178.2" r="3.3"/><circle cx="590.3" cy="158.7" r="3.3"/><circle cx="484.7" cy="177.8" r="3.3"/><circle cx="534.1" cy="131.1" r="3.3"/><circle cx="488.5" cy="133.3" r="3.3"/><circle cx="517.7" cy="120.9" r="3.3"/><circle cx="479.6" cy="144.3" r="3.3"/><circle cx="500.3" cy="100.8" r="3.3"/><circle cx="587.0" cy="144.5" r="3.3"/><circle cx="564.1" cy="133.6" r="3.3"/><circle cx="561.6" cy="160.2" r="3.3"/><circle cx="521.6" cy="134.1" r="3.3"/><circle cx="515.8" cy="140.1" r="3.3"/><circle cx="466.9" cy="149.9" r="3.3"/><circle cx="525.7" cy="153.8" r="3.3"/><circle cx="590.5" cy="129.3" r="3.3"/><circle cx="508.8" cy="136.8" r="3.3"/><circle cx="501.6" cy="160.5" r="3.3"/><circle cx="450.7" cy="190.8" r="3.3"/><circle cx="575.2" cy="158.4" r="3.3"/><circle cx="486.2" cy="154.1" r="3.3"/><circle cx="492.6" cy="121.0" r="3.3"/><circle cx="471.9" cy="131.9" r="3.3"/><circle cx="556.4" cy="164.2" r="3.3"/><circle cx="488.6" cy="190.0" r="3.3"/><circle cx="564.9" cy="148.2" r="3.3"/><circle cx="556.0" cy="125.0" r="3.3"/><circle cx="612.0" cy="121.3" r="3.3"/><circle cx="519.4" cy="123.5" r="3.3"/><circle cx="544.8" cy="168.8" r="3.3"/><circle cx="609.8" cy="131.3" r="3.3"/><circle cx="557.0" cy="152.9" r="3.3"/><circle cx="573.2" cy="171.8" r="3.3"/><circle cx="488.9" cy="176.7" r="3.3"/><circle cx="606.9" cy="166.9" r="3.3"/><circle cx="532.1" cy="129.8" r="3.3"/><circle cx="564.5" cy="126.8" r="3.3"/><circle cx="581.6" cy="153.4" r="3.3"/><circle cx="517.8" cy="111.5" r="3.3"/><circle cx="630.1" cy="128.6" r="3.3"/><circle cx="536.0" cy="128.2" r="3.3"/><circle cx="583.3" cy="160.9" r="3.3"/><circle cx="536.2" cy="190.1" r="3.3"/><circle cx="545.2" cy="152.5" r="3.3"/><circle cx="550.3" cy="149.0" r="3.3"/><circle cx="523.9" cy="123.1" r="3.3"/><circle cx="528.5" cy="133.8" r="3.3"/><circle cx="468.7" cy="163.9" r="3.3"/><circle cx="578.0" cy="120.7" r="3.3"/><circle cx="595.6" cy="157.0" r="3.3"/><circle cx="613.6" cy="140.8" r="3.3"/><circle cx="452.2" cy="198.9" r="3.3"/><circle cx="565.9" cy="179.6" r="3.3"/><circle cx="459.2" cy="148.7" r="3.3"/><circle cx="566.0" cy="146.4" r="3.3"/><circle cx="612.0" cy="153.0" r="3.3"/><circle cx="542.9" cy="120.6" r="3.3"/><circle cx="482.6" cy="148.3" r="3.3"/><circle cx="555.1" cy="151.4" r="3.3"/><circle cx="594.6" cy="115.3" r="3.3"/><circle cx="555.0" cy="113.2" r="3.3"/><circle cx="555.8" cy="137.1" r="3.3"/><circle cx="541.0" cy="135.5" r="3.3"/><circle cx="500.7" cy="159.7" r="3.3"/><circle cx="535.1" cy="115.1" r="3.3"/><circle cx="565.8" cy="123.4" r="3.3"/><circle cx="449.5" cy="174.7" r="3.3"/><circle cx="484.5" cy="169.1" r="3.3"/><circle cx="590.7" cy="139.5" r="3.3"/><circle cx="506.8" cy="149.9" r="3.3"/><circle cx="524.5" cy="125.7" r="3.3"/><circle cx="483.0" cy="151.9" r="3.3"/><circle cx="487.7" cy="141.2" r="3.3"/><circle cx="550.7" cy="170.0" r="3.3"/><circle cx="546.3" cy="145.9" r="3.3"/><circle cx="529.4" cy="141.6" r="3.3"/><circle cx="556.2" cy="174.2" r="3.3"/><circle cx="486.9" cy="126.3" r="3.3"/><circle cx="549.8" cy="131.3" r="3.3"/><circle cx="480.5" cy="187.3" r="3.3"/><circle cx="501.9" cy="178.6" r="3.3"/><circle cx="521.5" cy="129.9" r="3.3"/><circle cx="506.8" cy="161.1" r="3.3"/><circle cx="518.6" cy="177.4" r="3.3"/><circle cx="537.9" cy="130.2" r="3.3"/><circle cx="563.5" cy="112.2" r="3.3"/><circle cx="483.6" cy="134.8" r="3.3"/><circle cx="558.1" cy="192.0" r="3.3"/><circle cx="518.7" cy="160.1" r="3.3"/><circle cx="503.7" cy="113.0" r="3.3"/><circle cx="484.3" cy="175.4" r="3.3"/><circle cx="537.6" cy="125.1" r="3.3"/><circle cx="455.4" cy="157.7" r="3.3"/><circle cx="496.3" cy="153.2" r="3.3"/><circle cx="517.9" cy="124.7" r="3.3"/><circle cx="628.0" cy="135.9" r="3.3"/><circle cx="534.0" cy="116.0" r="3.3"/><circle cx="537.0" cy="124.2" r="3.3"/><circle cx="599.3" cy="129.5" r="3.3"/><circle cx="549.5" cy="166.7" r="3.3"/><circle cx="562.0" cy="120.8" r="3.3"/><circle cx="521.1" cy="103.6" r="3.3"/><circle cx="483.0" cy="186.8" r="3.3"/><circle cx="499.3" cy="123.2" r="3.3"/><circle cx="473.6" cy="150.9" r="3.3"/><circle cx="547.7" cy="132.7" r="3.3"/><circle cx="476.9" cy="163.7" r="3.3"/><circle cx="533.7" cy="169.7" r="3.3"/><circle cx="507.3" cy="141.5" r="3.3"/><circle cx="446.7" cy="200.2" r="3.3"/><circle cx="568.1" cy="125.8" r="3.3"/><circle cx="459.8" cy="170.9" r="3.3"/><circle cx="548.7" cy="144.3" r="3.3"/><circle cx="530.5" cy="121.2" r="3.3"/><circle cx="594.9" cy="177.8" r="3.3"/><circle cx="526.5" cy="112.0" r="3.3"/><circle cx="487.6" cy="145.4" r="3.3"/><circle cx="527.9" cy="140.8" r="3.3"/><circle cx="536.4" cy="183.6" r="3.3"/><circle cx="474.8" cy="175.4" r="3.3"/><circle cx="501.9" cy="129.5" r="3.3"/><circle cx="495.4" cy="127.5" r="3.3"/><circle cx="500.2" cy="141.8" r="3.3"/><circle cx="585.3" cy="139.2" r="3.3"/><circle cx="513.8" cy="169.0" r="3.3"/><circle cx="567.9" cy="115.5" r="3.3"/><circle cx="455.5" cy="199.1" r="3.3"/><circle cx="638.2" cy="140.5" r="3.3"/><circle cx="596.0" cy="127.9" r="3.3"/><circle cx="532.0" cy="117.5" r="3.3"/><circle cx="472.9" cy="140.7" r="3.3"/><circle cx="537.3" cy="128.8" r="3.3"/><circle cx="565.9" cy="166.7" r="3.3"/><circle cx="512.9" cy="151.1" r="3.3"/><circle cx="447.5" cy="179.2" r="3.3"/><circle cx="513.7" cy="134.7" r="3.3"/><circle cx="557.5" cy="118.6" r="3.3"/><circle cx="476.3" cy="137.4" r="3.3"/><circle cx="543.3" cy="113.3" r="3.3"/><circle cx="584.2" cy="138.7" r="3.3"/><circle cx="562.4" cy="140.1" r="3.3"/><circle cx="581.8" cy="117.6" r="3.3"/><circle cx="578.6" cy="114.4" r="3.3"/><circle cx="597.7" cy="123.9" r="3.3"/><circle cx="528.9" cy="143.2" r="3.3"/><circle cx="566.1" cy="154.1" r="3.3"/><circle cx="620.6" cy="142.9" r="3.3"/><circle cx="568.1" cy="130.2" r="3.3"/><circle cx="641.5" cy="132.3" r="3.3"/><circle cx="616.3" cy="158.6" r="3.3"/><circle cx="521.2" cy="140.9" r="3.3"/><circle cx="486.5" cy="161.3" r="3.3"/><circle cx="510.5" cy="119.9" r="3.3"/><circle cx="482.5" cy="139.4" r="3.3"/><circle cx="479.4" cy="140.4" r="3.3"/><circle cx="531.8" cy="121.7" r="3.3"/><circle cx="613.6" cy="184.2" r="3.3"/><circle cx="612.0" cy="129.0" r="3.3"/><circle cx="562.4" cy="162.5" r="3.3"/><circle cx="625.5" cy="113.8" r="3.3"/><circle cx="511.8" cy="111.9" r="3.3"/><circle cx="490.6" cy="171.9" r="3.3"/><circle cx="606.3" cy="168.9" r="3.3"/><circle cx="600.5" cy="154.2" r="3.3"/><circle cx="512.0" cy="147.8" r="3.3"/><circle cx="575.7" cy="119.8" r="3.3"/><circle cx="488.1" cy="156.0" r="3.3"/><circle cx="613.1" cy="122.4" r="3.3"/><circle cx="510.8" cy="145.2" r="3.3"/><circle cx="496.8" cy="158.3" r="3.3"/><circle cx="627.1" cy="117.1" r="3.3"/><circle cx="466.6" cy="171.3" r="3.3"/><circle cx="503.8" cy="154.4" r="3.3"/><circle cx="643.1" cy="128.9" r="3.3"/><circle cx="535.2" cy="127.8" r="3.3"/><circle cx="525.5" cy="143.1" r="3.3"/><circle cx="556.4" cy="150.9" r="3.3"/><circle cx="464.1" cy="213.3" r="3.3"/><circle cx="458.4" cy="179.6" r="3.3"/><circle cx="525.6" cy="124.2" r="3.3"/><circle cx="605.1" cy="156.7" r="3.3"/><circle cx="602.5" cy="96.8" r="3.3"/><circle cx="591.0" cy="117.3" r="3.3"/><circle cx="595.2" cy="145.5" r="3.3"/><circle cx="534.6" cy="163.2" r="3.3"/><circle cx="578.5" cy="114.0" r="3.3"/><circle cx="561.7" cy="129.0" r="3.3"/><circle cx="494.3" cy="118.9" r="3.3"/><circle cx="470.4" cy="142.5" r="3.3"/><circle cx="571.8" cy="125.4" r="3.3"/><circle cx="533.0" cy="160.9" r="3.3"/><circle cx="603.5" cy="153.8" r="3.3"/><circle cx="625.6" cy="141.8" r="3.3"/><circle cx="540.0" cy="151.5" r="3.3"/><circle cx="480.6" cy="170.8" r="3.3"/><circle cx="517.5" cy="149.8" r="3.3"/><circle cx="535.7" cy="127.2" r="3.3"/><circle cx="505.4" cy="117.7" r="3.3"/><circle cx="527.6" cy="179.9" r="3.3"/><circle cx="565.7" cy="117.4" r="3.3"/><circle cx="576.1" cy="184.7" r="3.3"/><circle cx="570.0" cy="128.1" r="3.3"/><circle cx="487.3" cy="112.6" r="3.3"/><circle cx="619.6" cy="131.4" r="3.3"/><circle cx="534.9" cy="119.9" r="3.3"/><circle cx="457.7" cy="183.1" r="3.3"/><circle cx="588.2" cy="163.8" r="3.3"/><circle cx="513.0" cy="140.5" r="3.3"/><circle cx="635.6" cy="128.2" r="3.3"/><circle cx="489.5" cy="165.6" r="3.3"/><circle cx="600.6" cy="126.0" r="3.3"/><circle cx="576.9" cy="134.3" r="3.3"/><circle cx="473.8" cy="186.5" r="3.3"/><circle cx="569.7" cy="166.4" r="3.3"/><circle cx="475.6" cy="208.0" r="3.3"/><circle cx="482.7" cy="166.1" r="3.3"/><circle cx="514.9" cy="126.2" r="3.3"/><circle cx="571.7" cy="182.9" r="3.3"/><circle cx="535.8" cy="134.4" r="3.3"/><circle cx="473.2" cy="171.2" r="3.3"/><circle cx="603.4" cy="153.7" r="3.3"/><circle cx="519.2" cy="124.9" r="3.3"/><circle cx="479.7" cy="144.6" r="3.3"/><circle cx="526.4" cy="132.4" r="3.3"/><circle cx="595.8" cy="153.8" r="3.3"/><circle cx="547.0" cy="177.6" r="3.3"/><circle cx="595.1" cy="138.3" r="3.3"/><circle cx="593.7" cy="101.6" r="3.3"/><circle cx="570.4" cy="140.8" r="3.3"/><circle cx="482.0" cy="119.5" r="3.3"/><circle cx="506.9" cy="149.4" r="3.3"/><circle cx="494.3" cy="171.7" r="3.3"/><circle cx="547.4" cy="144.1" r="3.3"/><circle cx="499.8" cy="144.6" r="3.3"/><circle cx="498.3" cy="163.2" r="3.3"/><circle cx="547.7" cy="144.5" r="3.3"/><circle cx="536.4" cy="119.3" r="3.3"/><circle cx="546.0" cy="171.2" r="3.3"/><circle cx="566.7" cy="121.7" r="3.3"/><circle cx="588.3" cy="156.0" r="3.3"/><circle cx="484.8" cy="125.9" r="3.3"/><circle cx="540.0" cy="144.6" r="3.3"/><circle cx="504.1" cy="119.9" r="3.3"/><circle cx="615.9" cy="139.1" r="3.3"/><circle cx="605.3" cy="138.5" r="3.3"/><circle cx="518.4" cy="154.7" r="3.3"/><circle cx="630.2" cy="120.5" r="3.3"/><circle cx="602.8" cy="159.4" r="3.3"/><circle cx="587.1" cy="129.4" r="3.3"/><circle cx="478.6" cy="176.3" r="3.3"/><circle cx="506.8" cy="156.7" r="3.3"/><circle cx="560.6" cy="108.6" r="3.3"/><circle cx="511.4" cy="173.7" r="3.3"/><circle cx="506.9" cy="161.0" r="3.3"/><circle cx="450.6" cy="167.0" r="3.3"/><circle cx="480.5" cy="147.9" r="3.3"/><circle cx="610.4" cy="163.2" r="3.3"/><circle cx="509.8" cy="119.2" r="3.3"/><circle cx="497.4" cy="109.0" r="3.3"/><circle cx="537.9" cy="156.6" r="3.3"/><circle cx="563.7" cy="177.9" r="3.3"/><circle cx="569.8" cy="122.8" r="3.3"/><circle cx="582.0" cy="114.7" r="3.3"/><circle cx="524.7" cy="159.8" r="3.3"/><circle cx="628.2" cy="111.9" r="3.3"/><circle cx="571.2" cy="113.6" r="3.3"/><circle cx="493.9" cy="130.2" r="3.3"/><circle cx="573.2" cy="159.3" r="3.3"/><circle cx="571.4" cy="146.7" r="3.3"/><circle cx="565.8" cy="163.3" r="3.3"/><circle cx="518.1" cy="144.3" r="3.3"/><circle cx="526.2" cy="123.3" r="3.3"/><circle cx="544.4" cy="147.0" r="3.3"/><circle cx="526.9" cy="138.1" r="3.3"/><circle cx="593.4" cy="115.4" r="3.3"/><circle cx="475.0" cy="183.6" r="3.3"/><circle cx="484.3" cy="174.2" r="3.3"/><circle cx="598.9" cy="149.0" r="3.3"/><circle cx="615.0" cy="143.4" r="3.3"/><circle cx="456.0" cy="163.2" r="3.3"/><circle cx="512.7" cy="137.6" r="3.3"/><circle cx="572.0" cy="116.7" r="3.3"/><circle cx="560.0" cy="166.5" r="3.3"/><circle cx="493.1" cy="163.5" r="3.3"/><circle cx="568.3" cy="125.4" r="3.3"/><circle cx="554.4" cy="151.6" r="3.3"/><circle cx="491.8" cy="114.9" r="3.3"/><circle cx="576.1" cy="136.2" r="3.3"/><circle cx="601.9" cy="154.3" r="3.3"/><circle cx="600.1" cy="164.3" r="3.3"/><circle cx="573.5" cy="160.0" r="3.3"/><circle cx="553.8" cy="133.3" r="3.3"/><circle cx="635.5" cy="165.0" r="3.3"/><circle cx="495.6" cy="134.5" r="3.3"/><circle cx="556.4" cy="133.4" r="3.3"/><circle cx="533.6" cy="107.8" r="3.3"/><circle cx="449.6" cy="154.3" r="3.3"/><circle cx="494.8" cy="144.9" r="3.3"/><circle cx="554.7" cy="142.1" r="3.3"/><circle cx="487.5" cy="171.3" r="3.3"/><circle cx="558.1" cy="156.6" r="3.3"/><circle cx="454.0" cy="152.1" r="3.3"/><circle cx="591.0" cy="184.1" r="3.3"/><circle cx="510.1" cy="109.7" r="3.3"/><circle cx="582.5" cy="136.9" r="3.3"/><circle cx="561.9" cy="142.8" r="3.3"/><circle cx="518.3" cy="142.1" r="3.3"/><circle cx="504.1" cy="114.8" r="3.3"/><circle cx="601.6" cy="120.5" r="3.3"/><circle cx="488.8" cy="117.6" r="3.3"/><circle cx="564.4" cy="110.8" r="3.3"/><circle cx="487.7" cy="155.6" r="3.3"/><circle cx="561.6" cy="130.3" r="3.3"/><circle cx="544.1" cy="124.9" r="3.3"/><circle cx="535.8" cy="106.1" r="3.3"/><circle cx="636.2" cy="181.7" r="3.3"/><circle cx="485.6" cy="171.2" r="3.3"/><circle cx="606.7" cy="122.9" r="3.3"/><circle cx="467.5" cy="131.7" r="3.3"/><circle cx="460.3" cy="132.3" r="3.3"/><circle cx="599.2" cy="121.0" r="3.3"/><circle cx="523.3" cy="134.6" r="3.3"/><circle cx="539.9" cy="157.7" r="3.3"/><circle cx="479.2" cy="158.5" r="3.3"/><circle cx="566.2" cy="156.2" r="3.3"/><circle cx="471.5" cy="132.4" r="3.3"/><circle cx="532.8" cy="131.9" r="3.3"/><circle cx="500.2" cy="141.8" r="3.3"/><circle cx="620.0" cy="185.5" r="3.3"/><circle cx="615.0" cy="159.0" r="3.3"/><circle cx="550.3" cy="175.5" r="3.3"/><circle cx="531.7" cy="149.4" r="3.3"/><circle cx="636.0" cy="142.8" r="3.3"/><circle cx="605.3" cy="152.7" r="3.3"/><circle cx="548.9" cy="150.8" r="3.3"/><circle cx="461.2" cy="145.0" r="3.3"/><circle cx="505.9" cy="143.3" r="3.3"/><circle cx="568.9" cy="135.7" r="3.3"/><circle cx="586.1" cy="117.6" r="3.3"/><circle cx="589.4" cy="141.7" r="3.3"/><circle cx="617.4" cy="175.4" r="3.3"/><circle cx="499.7" cy="122.1" r="3.3"/><circle cx="603.2" cy="144.3" r="3.3"/><circle cx="528.5" cy="152.5" r="3.3"/><circle cx="542.6" cy="138.5" r="3.3"/><circle cx="467.6" cy="175.1" r="3.3"/><circle cx="538.2" cy="149.8" r="3.3"/><circle cx="549.4" cy="150.7" r="3.3"/><circle cx="563.1" cy="126.2" r="3.3"/><circle cx="537.7" cy="159.6" r="3.3"/><circle cx="489.0" cy="137.0" r="3.3"/><circle cx="602.6" cy="166.8" r="3.3"/><circle cx="492.5" cy="105.7" r="3.3"/><circle cx="623.5" cy="153.1" r="3.3"/><circle cx="513.0" cy="162.2" r="3.3"/><circle cx="580.6" cy="182.2" r="3.3"/><circle cx="508.3" cy="131.0" r="3.3"/><circle cx="579.1" cy="163.1" r="3.3"/><circle cx="531.0" cy="154.4" r="3.3"/><circle cx="481.8" cy="168.2" r="3.3"/><circle cx="548.1" cy="171.7" r="3.3"/><circle cx="474.9" cy="164.6" r="3.3"/><circle cx="579.8" cy="145.4" r="3.3"/><circle cx="496.3" cy="164.8" r="3.3"/><circle cx="601.5" cy="155.6" r="3.3"/><circle cx="506.5" cy="108.9" r="3.3"/><circle cx="479.1" cy="204.0" r="3.3"/><circle cx="566.8" cy="173.9" r="3.3"/><circle cx="509.6" cy="117.6" r="3.3"/><circle cx="553.5" cy="170.9" r="3.3"/><circle cx="608.4" cy="136.1" r="3.3"/><circle cx="532.3" cy="126.9" r="3.3"/><circle cx="625.1" cy="178.8" r="3.3"/><circle cx="562.2" cy="153.4" r="3.3"/><circle cx="563.6" cy="148.0" r="3.3"/><circle cx="459.9" cy="163.3" r="3.3"/><circle cx="600.1" cy="167.3" r="3.3"/><circle cx="600.1" cy="149.3" r="3.3"/><circle cx="467.0" cy="161.2" r="3.3"/><circle cx="564.5" cy="145.7" r="3.3"/><circle cx="478.7" cy="126.3" r="3.3"/><circle cx="605.2" cy="131.5" r="3.3"/><circle cx="578.3" cy="156.9" r="3.3"/><circle cx="454.9" cy="139.7" r="3.3"/><circle cx="587.2" cy="149.6" r="3.3"/><circle cx="552.3" cy="119.8" r="3.3"/><circle cx="560.7" cy="150.9" r="3.3"/><circle cx="490.1" cy="186.3" r="3.3"/><circle cx="621.9" cy="134.6" r="3.3"/><circle cx="550.3" cy="165.3" r="3.3"/><circle cx="579.5" cy="170.2" r="3.3"/><circle cx="537.4" cy="117.6" r="3.3"/><circle cx="550.6" cy="118.4" r="3.3"/><circle cx="530.8" cy="110.2" r="3.3"/><circle cx="447.2" cy="202.5" r="3.3"/><circle cx="517.6" cy="122.0" r="3.3"/><circle cx="633.3" cy="141.2" r="3.3"/><circle cx="562.3" cy="125.6" r="3.3"/><circle cx="457.9" cy="205.6" r="3.3"/><circle cx="626.9" cy="105.8" r="3.3"/><circle cx="572.7" cy="162.6" r="3.3"/><circle cx="565.7" cy="138.0" r="3.3"/><circle cx="491.2" cy="163.0" r="3.3"/><circle cx="602.0" cy="140.7" r="3.3"/><circle cx="494.0" cy="129.7" r="3.3"/><circle cx="625.5" cy="159.3" r="3.3"/><circle cx="452.5" cy="156.5" r="3.3"/><circle cx="566.9" cy="110.8" r="3.3"/><circle cx="508.7" cy="126.4" r="3.3"/><circle cx="566.1" cy="131.5" r="3.3"/><circle cx="596.3" cy="109.3" r="3.3"/><circle cx="546.1" cy="132.8" r="3.3"/><circle cx="573.3" cy="99.6" r="3.3"/><circle cx="502.8" cy="176.0" r="3.3"/><circle cx="589.6" cy="127.8" r="3.3"/><circle cx="473.0" cy="156.5" r="3.3"/><circle cx="541.2" cy="158.9" r="3.3"/><circle cx="495.0" cy="166.9" r="3.3"/><circle cx="494.8" cy="112.4" r="3.3"/><circle cx="479.1" cy="146.1" r="3.3"/><circle cx="508.9" cy="166.8" r="3.3"/><circle cx="492.1" cy="162.9" r="3.3"/><circle cx="481.2" cy="182.9" r="3.3"/><circle cx="591.3" cy="105.7" r="3.3"/><circle cx="538.7" cy="114.1" r="3.3"/><circle cx="598.6" cy="164.8" r="3.3"/><circle cx="580.5" cy="159.7" r="3.3"/><circle cx="497.3" cy="131.7" r="3.3"/><circle cx="579.1" cy="102.2" r="3.3"/><circle cx="589.6" cy="129.1" r="3.3"/><circle cx="479.5" cy="160.6" r="3.3"/><circle cx="618.0" cy="120.9" r="3.3"/><circle cx="479.2" cy="140.0" r="3.3"/><circle cx="578.9" cy="141.0" r="3.3"/><circle cx="585.7" cy="109.3" r="3.3"/><circle cx="557.4" cy="148.7" r="3.3"/><circle cx="560.9" cy="164.3" r="3.3"/><circle cx="564.9" cy="158.5" r="3.3"/><circle cx="598.7" cy="159.4" r="3.3"/><circle cx="536.8" cy="131.6" r="3.3"/><circle cx="511.0" cy="174.5" r="3.3"/><circle cx="517.8" cy="188.1" r="3.3"/><circle cx="479.0" cy="144.1" r="3.3"/><circle cx="472.8" cy="154.5" r="3.3"/><circle cx="505.4" cy="140.0" r="3.3"/><circle cx="540.6" cy="148.2" r="3.3"/><circle cx="613.9" cy="131.7" r="3.3"/><circle cx="561.1" cy="165.5" r="3.3"/><circle cx="582.5" cy="180.0" r="3.3"/><circle cx="575.6" cy="127.5" r="3.3"/><circle cx="544.8" cy="182.4" r="3.3"/><circle cx="521.3" cy="179.4" r="3.3"/><circle cx="488.6" cy="146.1" r="3.3"/><circle cx="493.8" cy="146.2" r="3.3"/><circle cx="530.7" cy="164.9" r="3.3"/><circle cx="564.2" cy="142.7" r="3.3"/><circle cx="635.2" cy="163.1" r="3.3"/><circle cx="554.5" cy="166.7" r="3.3"/><circle cx="475.2" cy="123.1" r="3.3"/><circle cx="603.6" cy="174.5" r="3.3"/><circle cx="519.9" cy="123.9" r="3.3"/><circle cx="502.8" cy="113.3" r="3.3"/><circle cx="473.0" cy="166.7" r="3.3"/><circle cx="596.1" cy="114.0" r="3.3"/><circle cx="533.5" cy="131.3" r="3.3"/><circle cx="503.5" cy="152.4" r="3.3"/><circle cx="512.7" cy="135.3" r="3.3"/><circle cx="586.0" cy="128.1" r="3.3"/><circle cx="589.3" cy="121.9" r="3.3"/><circle cx="608.1" cy="157.9" r="3.3"/><circle cx="524.2" cy="135.1" r="3.3"/><circle cx="531.9" cy="142.1" r="3.3"/><circle cx="481.8" cy="127.1" r="3.3"/><circle cx="511.4" cy="120.3" r="3.3"/><circle cx="604.3" cy="114.4" r="3.3"/><circle cx="595.9" cy="164.5" r="3.3"/><circle cx="585.9" cy="156.2" r="3.3"/><circle cx="595.2" cy="161.4" r="3.3"/><circle cx="543.0" cy="188.1" r="3.3"/><circle cx="516.6" cy="154.9" r="3.3"/><circle cx="462.6" cy="186.3" r="3.3"/><circle cx="577.8" cy="162.8" r="3.3"/><circle cx="567.3" cy="157.7" r="3.3"/><circle cx="585.8" cy="173.5" r="3.3"/><circle cx="558.6" cy="165.5" r="3.3"/><circle cx="613.5" cy="134.1" r="3.3"/><circle cx="602.5" cy="187.3" r="3.3"/><circle cx="500.6" cy="169.6" r="3.3"/><circle cx="615.3" cy="139.5" r="3.3"/><circle cx="567.9" cy="154.8" r="3.3"/><circle cx="542.3" cy="164.1" r="3.3"/><circle cx="599.8" cy="167.1" r="3.3"/><circle cx="584.0" cy="133.2" r="3.3"/><circle cx="559.3" cy="116.7" r="3.3"/><circle cx="553.6" cy="150.6" r="3.3"/><circle cx="562.2" cy="146.0" r="3.3"/><circle cx="554.4" cy="143.3" r="3.3"/><circle cx="469.9" cy="172.1" r="3.3"/><circle cx="535.3" cy="145.5" r="3.3"/><circle cx="582.3" cy="146.1" r="3.3"/><circle cx="450.1" cy="184.5" r="3.3"/><circle cx="496.5" cy="167.2" r="3.3"/><circle cx="592.7" cy="103.8" r="3.3"/><circle cx="501.6" cy="109.5" r="3.3"/><circle cx="468.3" cy="147.9" r="3.3"/><circle cx="520.3" cy="129.1" r="3.3"/><circle cx="480.3" cy="131.5" r="3.3"/><circle cx="474.4" cy="146.3" r="3.3"/><circle cx="611.2" cy="132.6" r="3.3"/><circle cx="559.1" cy="148.1" r="3.3"/><circle cx="591.0" cy="136.8" r="3.3"/><circle cx="474.5" cy="170.0" r="3.3"/><circle cx="563.8" cy="125.8" r="3.3"/><circle cx="468.9" cy="147.0" r="3.3"/><circle cx="462.0" cy="142.3" r="3.3"/><circle cx="465.6" cy="153.4" r="3.3"/><circle cx="505.4" cy="183.3" r="3.3"/><circle cx="584.8" cy="128.3" r="3.3"/><circle cx="510.9" cy="153.9" r="3.3"/><circle cx="569.0" cy="137.6" r="3.3"/><circle cx="505.7" cy="157.0" r="3.3"/><circle cx="500.5" cy="125.8" r="3.3"/><circle cx="503.8" cy="134.7" r="3.3"/><circle cx="515.2" cy="98.1" r="3.3"/><circle cx="578.7" cy="147.5" r="3.3"/><circle cx="588.6" cy="115.8" r="3.3"/><circle cx="501.1" cy="137.4" r="3.3"/><circle cx="587.1" cy="114.4" r="3.3"/><circle cx="496.5" cy="156.5" r="3.3"/><circle cx="612.2" cy="157.4" r="3.3"/><circle cx="492.4" cy="172.1" r="3.3"/><circle cx="596.6" cy="159.3" r="3.3"/><circle cx="610.0" cy="99.8" r="3.3"/><circle cx="497.2" cy="158.5" r="3.3"/><circle cx="540.4" cy="126.5" r="3.3"/><circle cx="564.2" cy="124.9" r="3.3"/><circle cx="533.8" cy="120.5" r="3.3"/><circle cx="626.4" cy="129.8" r="3.3"/><circle cx="451.1" cy="159.1" r="3.3"/><circle cx="531.4" cy="112.0" r="3.3"/><circle cx="609.1" cy="149.9" r="3.3"/><circle cx="523.9" cy="149.9" r="3.3"/><circle cx="573.3" cy="156.5" r="3.3"/><circle cx="447.3" cy="169.4" r="3.3"/><circle cx="541.1" cy="132.1" r="3.3"/><circle cx="477.6" cy="177.7" r="3.3"/><circle cx="533.9" cy="171.8" r="3.3"/><circle cx="486.0" cy="124.8" r="3.3"/><circle cx="539.3" cy="155.9" r="3.3"/><circle cx="492.2" cy="168.1" r="3.3"/><circle cx="576.1" cy="141.4" r="3.3"/><circle cx="542.6" cy="155.4" r="3.3"/><circle cx="566.3" cy="156.8" r="3.3"/><circle cx="571.2" cy="175.0" r="3.3"/><circle cx="528.3" cy="165.1" r="3.3"/><circle cx="456.5" cy="193.9" r="3.3"/><circle cx="576.1" cy="152.4" r="3.3"/><circle cx="519.2" cy="130.1" r="3.3"/><circle cx="538.6" cy="114.0" r="3.3"/><circle cx="553.2" cy="136.4" r="3.3"/><circle cx="623.8" cy="122.9" r="3.3"/><circle cx="583.3" cy="126.7" r="3.3"/><circle cx="594.7" cy="126.8" r="3.3"/><circle cx="542.9" cy="93.4" r="3.3"/><circle cx="553.8" cy="129.9" r="3.3"/><circle cx="517.0" cy="157.2" r="3.3"/><circle cx="531.8" cy="135.8" r="3.3"/><circle cx="578.7" cy="153.4" r="3.3"/><circle cx="538.4" cy="152.3" r="3.3"/><circle cx="593.3" cy="154.5" r="3.3"/><circle cx="553.4" cy="106.9" r="3.3"/><circle cx="582.0" cy="139.4" r="3.3"/><circle cx="558.6" cy="159.2" r="3.3"/><circle cx="560.0" cy="152.2" r="3.3"/><circle cx="534.2" cy="153.8" r="3.3"/><circle cx="579.6" cy="183.8" r="3.3"/><circle cx="497.1" cy="113.6" r="3.3"/><circle cx="596.7" cy="138.6" r="3.3"/><circle cx="495.6" cy="136.8" r="3.3"/><circle cx="530.9" cy="120.7" r="3.3"/><circle cx="551.8" cy="121.8" r="3.3"/><circle cx="506.1" cy="118.2" r="3.3"/><circle cx="611.7" cy="127.6" r="3.3"/><circle cx="456.3" cy="136.3" r="3.3"/><circle cx="512.0" cy="152.4" r="3.3"/><circle cx="554.4" cy="173.0" r="3.3"/><circle cx="529.6" cy="137.6" r="3.3"/><circle cx="544.3" cy="121.5" r="3.3"/><circle cx="626.0" cy="132.8" r="3.3"/><circle cx="509.3" cy="129.7" r="3.3"/><circle cx="507.2" cy="126.2" r="3.3"/><circle cx="512.4" cy="166.7" r="3.3"/><circle cx="503.5" cy="168.2" r="3.3"/><circle cx="530.0" cy="175.3" r="3.3"/><circle cx="530.7" cy="124.1" r="3.3"/><circle cx="573.6" cy="160.5" r="3.3"/><circle cx="570.3" cy="150.8" r="3.3"/><circle cx="512.8" cy="180.9" r="3.3"/><circle cx="630.3" cy="121.8" r="3.3"/><circle cx="507.0" cy="122.6" r="3.3"/><circle cx="588.0" cy="130.0" r="3.3"/><circle cx="539.4" cy="105.5" r="3.3"/><circle cx="603.6" cy="162.5" r="3.3"/><circle cx="505.1" cy="148.5" r="3.3"/><circle cx="522.0" cy="124.6" r="3.3"/><circle cx="511.7" cy="140.8" r="3.3"/><circle cx="585.1" cy="129.6" r="3.3"/><circle cx="598.6" cy="146.3" r="3.3"/><circle cx="496.4" cy="150.7" r="3.3"/><circle cx="554.1" cy="125.2" r="3.3"/><circle cx="461.7" cy="169.6" r="3.3"/><circle cx="580.1" cy="135.9" r="3.3"/><circle cx="506.2" cy="141.3" r="3.3"/><circle cx="477.4" cy="137.1" r="3.3"/><circle cx="633.7" cy="123.6" r="3.3"/><circle cx="572.7" cy="157.0" r="3.3"/><circle cx="502.7" cy="157.4" r="3.3"/><circle cx="588.9" cy="128.3" r="3.3"/><circle cx="464.0" cy="149.9" r="3.3"/><circle cx="522.4" cy="115.0" r="3.3"/><circle cx="493.7" cy="157.9" r="3.3"/><circle cx="547.8" cy="158.3" r="3.3"/><circle cx="551.1" cy="138.5" r="3.3"/><circle cx="579.4" cy="131.4" r="3.3"/><circle cx="609.8" cy="114.5" r="3.3"/><circle cx="520.1" cy="129.0" r="3.3"/><circle cx="466.8" cy="166.0" r="3.3"/><circle cx="530.6" cy="167.5" r="3.3"/><circle cx="567.7" cy="178.2" r="3.3"/><circle cx="537.0" cy="142.4" r="3.3"/><circle cx="507.7" cy="139.7" r="3.3"/><circle cx="559.3" cy="137.4" r="3.3"/><circle cx="548.8" cy="107.6" r="3.3"/><circle cx="553.5" cy="131.0" r="3.3"/><circle cx="616.2" cy="137.7" r="3.3"/><circle cx="595.2" cy="120.8" r="3.3"/><circle cx="479.9" cy="146.8" r="3.3"/><circle cx="576.0" cy="128.7" r="3.3"/><circle cx="522.0" cy="103.4" r="3.3"/><circle cx="559.7" cy="186.3" r="3.3"/><circle cx="529.5" cy="141.7" r="3.3"/><circle cx="621.8" cy="144.6" r="3.3"/><circle cx="585.4" cy="140.1" r="3.3"/><circle cx="567.6" cy="168.8" r="3.3"/><circle cx="506.0" cy="146.7" r="3.3"/><circle cx="483.6" cy="144.4" r="3.3"/><circle cx="484.6" cy="136.8" r="3.3"/><circle cx="551.7" cy="121.1" r="3.3"/><circle cx="525.3" cy="147.3" r="3.3"/><circle cx="627.5" cy="168.1" r="3.3"/><circle cx="529.4" cy="161.4" r="3.3"/><circle cx="498.3" cy="112.2" r="3.3"/><circle cx="618.5" cy="177.8" r="3.3"/><circle cx="543.7" cy="149.9" r="3.3"/><circle cx="584.0" cy="126.3" r="3.3"/><circle cx="506.0" cy="132.3" r="3.3"/><circle cx="548.5" cy="148.9" r="3.3"/><circle cx="578.0" cy="152.8" r="3.3"/><circle cx="627.3" cy="120.4" r="3.3"/><circle cx="467.8" cy="144.7" r="3.3"/><circle cx="550.5" cy="152.2" r="3.3"/><circle cx="583.5" cy="122.9" r="3.3"/><circle cx="511.3" cy="131.8" r="3.3"/><circle cx="523.4" cy="133.2" r="3.3"/><circle cx="504.0" cy="160.2" r="3.3"/><circle cx="493.5" cy="145.1" r="3.3"/><circle cx="515.4" cy="141.3" r="3.3"/><circle cx="571.3" cy="128.2" r="3.3"/><circle cx="575.6" cy="140.7" r="3.3"/><circle cx="598.4" cy="186.8" r="3.3"/><circle cx="538.0" cy="314.1" r="3.3"/><circle cx="555.5" cy="158.5" r="3.3"/><circle cx="534.3" cy="184.4" r="3.3"/><circle cx="481.3" cy="206.8" r="3.3"/><circle cx="710.4" cy="190.0" r="3.3"/><circle cx="613.5" cy="234.9" r="3.3"/><circle cx="642.2" cy="212.8" r="3.3"/><circle cx="575.8" cy="259.7" r="3.3"/><circle cx="499.1" cy="162.6" r="3.3"/><circle cx="400.5" cy="158.8" r="3.3"/><circle cx="701.9" cy="137.6" r="3.3"/><circle cx="715.5" cy="153.9" r="3.3"/><circle cx="483.9" cy="162.8" r="3.3"/><circle cx="577.6" cy="229.4" r="3.3"/><circle cx="472.4" cy="175.1" r="3.3"/><circle cx="535.5" cy="123.1" r="3.3"/><circle cx="550.4" cy="291.0" r="3.3"/><circle cx="563.6" cy="228.6" r="3.3"/><circle cx="507.7" cy="164.8" r="3.3"/><circle cx="450.3" cy="127.5" r="3.3"/><circle cx="641.2" cy="223.7" r="3.3"/><circle cx="712.6" cy="136.1" r="3.3"/><circle cx="599.5" cy="138.9" r="3.3"/><circle cx="550.8" cy="264.1" r="3.3"/><circle cx="486.3" cy="212.5" r="3.3"/><circle cx="618.0" cy="197.9" r="3.3"/><circle cx="557.1" cy="149.4" r="3.3"/><circle cx="579.9" cy="196.4" r="3.3"/><circle cx="445.0" cy="163.7" r="3.3"/><circle cx="546.7" cy="199.5" r="3.3"/><circle cx="603.6" cy="127.2" r="3.3"/><circle cx="605.2" cy="209.6" r="3.3"/><circle cx="458.4" cy="196.2" r="3.3"/><circle cx="483.7" cy="198.1" r="3.3"/><circle cx="558.7" cy="210.8" r="3.3"/><circle cx="611.3" cy="208.4" r="3.3"/><circle cx="574.6" cy="240.4" r="3.3"/><circle cx="744.2" cy="179.6" r="3.3"/><circle cx="557.1" cy="178.5" r="3.3"/><circle cx="727.6" cy="211.1" r="3.3"/><circle cx="482.8" cy="204.1" r="3.3"/><circle cx="601.9" cy="123.8" r="3.3"/><circle cx="469.5" cy="180.6" r="3.3"/><circle cx="477.6" cy="197.1" r="3.3"/><circle cx="679.5" cy="200.7" r="3.3"/><circle cx="655.7" cy="167.6" r="3.3"/><circle cx="429.6" cy="170.0" r="3.3"/><circle cx="478.9" cy="155.3" r="3.3"/><circle cx="472.5" cy="163.3" r="3.3"/><circle cx="445.4" cy="209.1" r="3.3"/><circle cx="686.0" cy="162.0" r="3.3"/><circle cx="580.6" cy="229.7" r="3.3"/><circle cx="506.7" cy="265.4" r="3.3"/><circle cx="577.3" cy="389.7" r="3.3"/><circle cx="713.7" cy="214.8" r="3.3"/><circle cx="618.1" cy="139.0" r="3.3"/><circle cx="622.1" cy="224.5" r="3.3"/><circle cx="426.9" cy="230.5" r="3.3"/><circle cx="585.9" cy="233.1" r="3.3"/><circle cx="518.7" cy="219.8" r="3.3"/><circle cx="451.2" cy="174.0" r="3.3"/><circle cx="608.1" cy="189.1" r="3.3"/><circle cx="494.8" cy="172.2" r="3.3"/><circle cx="499.3" cy="218.8" r="3.3"/><circle cx="526.9" cy="136.7" r="3.3"/><circle cx="458.6" cy="137.8" r="3.3"/><circle cx="684.4" cy="173.4" r="3.3"/><circle cx="409.1" cy="161.3" r="3.3"/><circle cx="602.1" cy="186.5" r="3.3"/><circle cx="604.0" cy="213.1" r="3.3"/><circle cx="600.7" cy="176.3" r="3.3"/><circle cx="594.5" cy="196.6" r="3.3"/><circle cx="553.7" cy="198.8" r="3.3"/><circle cx="509.9" cy="149.5" r="3.3"/><circle cx="658.2" cy="268.5" r="3.3"/><circle cx="555.3" cy="238.0" r="3.3"/><circle cx="481.9" cy="150.9" r="3.3"/><circle cx="542.4" cy="185.3" r="3.3"/><circle cx="542.3" cy="226.7" r="3.3"/><circle cx="455.1" cy="194.2" r="3.3"/><circle cx="577.5" cy="146.9" r="3.3"/><circle cx="687.2" cy="142.4" r="3.3"/><circle cx="605.1" cy="201.3" r="3.3"/><circle cx="597.3" cy="133.5" r="3.3"/><circle cx="453.6" cy="192.5" r="3.3"/><circle cx="609.2" cy="239.9" r="3.3"/><circle cx="646.9" cy="236.9" r="3.3"/><circle cx="591.1" cy="230.3" r="3.3"/><circle cx="555.5" cy="143.8" r="3.3"/><circle cx="594.4" cy="170.3" r="3.3"/><circle cx="482.2" cy="179.1" r="3.3"/><circle cx="459.3" cy="246.3" r="3.3"/><circle cx="450.0" cy="206.6" r="3.3"/><circle cx="438.9" cy="179.2" r="3.3"/><circle cx="648.7" cy="159.0" r="3.3"/><circle cx="651.8" cy="193.2" r="3.3"/><circle cx="537.2" cy="181.4" r="3.3"/><circle cx="513.4" cy="183.6" r="3.3"/><circle cx="504.5" cy="283.7" r="3.3"/><circle cx="472.4" cy="172.0" r="3.3"/><circle cx="588.5" cy="194.2" r="3.3"/><circle cx="516.9" cy="185.1" r="3.3"/><circle cx="438.7" cy="156.1" r="3.3"/><circle cx="504.4" cy="137.7" r="3.3"/><circle cx="612.8" cy="175.5" r="3.3"/><circle cx="495.8" cy="165.8" r="3.3"/><circle cx="619.1" cy="170.1" r="3.3"/><circle cx="498.6" cy="162.9" r="3.3"/><circle cx="561.0" cy="217.5" r="3.3"/><circle cx="547.3" cy="188.4" r="3.3"/><circle cx="508.0" cy="183.7" r="3.3"/><circle cx="649.5" cy="135.2" r="3.3"/><circle cx="657.4" cy="134.0" r="3.3"/><circle cx="569.3" cy="310.2" r="3.3"/><circle cx="459.7" cy="228.3" r="3.3"/><circle cx="533.9" cy="250.2" r="3.3"/><circle cx="383.5" cy="176.0" r="3.3"/><circle cx="564.2" cy="241.6" r="3.3"/><circle cx="513.6" cy="212.2" r="3.3"/><circle cx="681.4" cy="148.9" r="3.3"/><circle cx="510.4" cy="202.8" r="3.3"/><circle cx="413.8" cy="183.3" r="3.3"/><circle cx="624.1" cy="175.0" r="3.3"/><circle cx="668.9" cy="188.3" r="3.3"/><circle cx="556.6" cy="207.9" r="3.3"/><circle cx="599.3" cy="163.4" r="3.3"/><circle cx="683.8" cy="144.9" r="3.3"/><circle cx="576.6" cy="213.2" r="3.3"/><circle cx="485.9" cy="217.3" r="3.3"/><circle cx="581.1" cy="215.5" r="3.3"/><circle cx="657.5" cy="190.2" r="3.3"/><circle cx="439.6" cy="189.6" r="3.3"/><circle cx="565.8" cy="199.9" r="3.3"/><circle cx="602.1" cy="187.4" r="3.3"/><circle cx="442.0" cy="147.6" r="3.3"/><circle cx="571.8" cy="200.5" r="3.3"/><circle cx="454.0" cy="304.8" r="3.3"/><circle cx="439.8" cy="196.6" r="3.3"/><circle cx="644.3" cy="154.7" r="3.3"/><circle cx="640.9" cy="203.6" r="3.3"/><circle cx="427.0" cy="155.0" r="3.3"/><circle cx="545.1" cy="210.6" r="3.3"/><circle cx="403.7" cy="246.4" r="3.3"/><circle cx="540.6" cy="271.5" r="3.3"/><circle cx="481.5" cy="185.6" r="3.3"/><circle cx="512.2" cy="147.0" r="3.3"/><circle cx="539.2" cy="181.5" r="3.3"/><circle cx="647.4" cy="176.8" r="3.3"/><circle cx="523.2" cy="194.0" r="3.3"/><circle cx="649.3" cy="172.9" r="3.3"/><circle cx="519.2" cy="247.6" r="3.3"/><circle cx="503.2" cy="206.6" r="3.3"/><circle cx="582.1" cy="306.1" r="3.3"/><circle cx="390.7" cy="176.5" r="3.3"/><circle cx="458.6" cy="165.0" r="3.3"/><circle cx="446.9" cy="198.3" r="3.3"/><circle cx="584.2" cy="201.2" r="3.3"/><circle cx="581.5" cy="234.3" r="3.3"/><circle cx="476.6" cy="157.0" r="3.3"/><circle cx="522.0" cy="196.4" r="3.3"/><circle cx="531.7" cy="301.6" r="3.3"/><circle cx="485.4" cy="150.8" r="3.3"/><circle cx="533.6" cy="167.8" r="3.3"/><circle cx="622.3" cy="172.4" r="3.3"/><circle cx="485.0" cy="198.4" r="3.3"/><circle cx="571.9" cy="225.4" r="3.3"/><circle cx="700.0" cy="170.6" r="3.3"/><circle cx="639.6" cy="174.5" r="3.3"/><circle cx="508.8" cy="264.5" r="3.3"/><circle cx="550.0" cy="154.1" r="3.3"/><circle cx="455.2" cy="167.3" r="3.3"/><circle cx="641.3" cy="172.0" r="3.3"/><circle cx="538.8" cy="175.3" r="3.3"/><circle cx="737.8" cy="140.1" r="3.3"/><circle cx="678.4" cy="243.8" r="3.3"/><circle cx="493.4" cy="274.0" r="3.3"/><circle cx="633.0" cy="203.8" r="3.3"/><circle cx="582.5" cy="255.7" r="3.3"/><circle cx="511.1" cy="176.2" r="3.3"/><circle cx="488.3" cy="237.1" r="3.3"/><circle cx="364.4" cy="199.5" r="3.3"/><circle cx="387.6" cy="205.0" r="3.3"/><circle cx="592.6" cy="220.3" r="3.3"/><circle cx="537.4" cy="131.0" r="3.3"/><circle cx="519.9" cy="225.1" r="3.3"/><circle cx="481.4" cy="179.3" r="3.3"/><circle cx="644.9" cy="199.6" r="3.3"/><circle cx="485.7" cy="167.0" r="3.3"/><circle cx="565.0" cy="255.6" r="3.3"/><circle cx="478.4" cy="250.8" r="3.3"/><circle cx="511.2" cy="220.9" r="3.3"/><circle cx="619.5" cy="263.3" r="3.3"/><circle cx="655.0" cy="196.4" r="3.3"/><circle cx="479.8" cy="180.4" r="3.3"/><circle cx="473.2" cy="238.4" r="3.3"/><circle cx="593.6" cy="250.5" r="3.3"/><circle cx="642.4" cy="161.1" r="3.3"/><circle cx="456.0" cy="187.4" r="3.3"/><circle cx="602.0" cy="145.0" r="3.3"/><circle cx="426.5" cy="126.6" r="3.3"/><circle cx="461.4" cy="150.7" r="3.3"/><circle cx="714.6" cy="191.4" r="3.3"/><circle cx="436.6" cy="154.2" r="3.3"/><circle cx="530.9" cy="148.1" r="3.3"/><circle cx="505.9" cy="254.9" r="3.3"/><circle cx="576.0" cy="153.3" r="3.3"/><circle cx="562.0" cy="196.8" r="3.3"/><circle cx="585.2" cy="190.4" r="3.3"/><circle cx="571.4" cy="200.2" r="3.3"/><circle cx="483.6" cy="151.2" r="3.3"/><circle cx="533.3" cy="195.7" r="3.3"/><circle cx="462.3" cy="150.2" r="3.3"/><circle cx="454.4" cy="172.1" r="3.3"/><circle cx="442.7" cy="196.8" r="3.3"/><circle cx="719.4" cy="142.4" r="3.3"/><circle cx="615.7" cy="121.6" r="3.3"/><circle cx="470.8" cy="199.2" r="3.3"/><circle cx="548.6" cy="246.4" r="3.3"/><circle cx="369.9" cy="151.4" r="3.3"/><circle cx="593.6" cy="148.8" r="3.3"/><circle cx="500.2" cy="162.6" r="3.3"/><circle cx="654.1" cy="148.9" r="3.3"/><circle cx="591.9" cy="200.1" r="3.3"/><circle cx="674.4" cy="289.5" r="3.3"/><circle cx="662.7" cy="186.5" r="3.3"/><circle cx="564.1" cy="156.3" r="3.3"/><circle cx="453.4" cy="160.0" r="3.3"/><circle cx="539.5" cy="233.1" r="3.3"/><circle cx="455.7" cy="184.1" r="3.3"/><circle cx="443.8" cy="178.9" r="3.3"/><circle cx="609.3" cy="232.1" r="3.3"/><circle cx="720.9" cy="156.4" r="3.3"/><circle cx="730.5" cy="141.9" r="3.3"/><circle cx="647.3" cy="154.6" r="3.3"/><circle cx="593.1" cy="199.1" r="3.3"/><circle cx="655.9" cy="305.0" r="3.3"/><circle cx="635.6" cy="206.3" r="3.3"/><circle cx="636.3" cy="223.4" r="3.3"/><circle cx="606.2" cy="220.5" r="3.3"/><circle cx="570.2" cy="220.1" r="3.3"/><circle cx="527.1" cy="144.4" r="3.3"/><circle cx="474.2" cy="179.7" r="3.3"/><circle cx="584.8" cy="222.8" r="3.3"/><circle cx="543.1" cy="138.9" r="3.3"/><circle cx="723.3" cy="123.3" r="3.3"/><circle cx="666.9" cy="187.3" r="3.3"/><circle cx="721.7" cy="144.3" r="3.3"/><circle cx="465.3" cy="189.6" r="3.3"/><circle cx="628.6" cy="127.2" r="3.3"/><circle cx="436.1" cy="135.5" r="3.3"/><circle cx="448.8" cy="130.6" r="3.3"/><circle cx="466.7" cy="192.9" r="3.3"/><circle cx="599.5" cy="210.3" r="3.3"/><circle cx="603.4" cy="203.1" r="3.3"/><circle cx="538.0" cy="255.8" r="3.3"/><circle cx="497.6" cy="172.2" r="3.3"/><circle cx="459.6" cy="167.0" r="3.3"/><circle cx="444.3" cy="210.9" r="3.3"/><circle cx="523.7" cy="204.9" r="3.3"/><circle cx="467.0" cy="171.4" r="3.3"/><circle cx="483.1" cy="176.7" r="3.3"/><circle cx="479.0" cy="171.2" r="3.3"/><circle cx="620.5" cy="198.8" r="3.3"/><circle cx="425.0" cy="165.1" r="3.3"/><circle cx="452.0" cy="171.8" r="3.3"/><circle cx="474.7" cy="199.5" r="3.3"/><circle cx="550.1" cy="204.6" r="3.3"/><circle cx="479.1" cy="188.4" r="3.3"/><circle cx="641.0" cy="134.9" r="3.3"/><circle cx="521.3" cy="203.9" r="3.3"/><circle cx="610.7" cy="188.3" r="3.3"/><circle cx="502.7" cy="171.9" r="3.3"/><circle cx="457.6" cy="210.8" r="3.3"/><circle cx="491.6" cy="210.9" r="3.3"/><circle cx="461.3" cy="236.1" r="3.3"/><circle cx="610.9" cy="151.5" r="3.3"/><circle cx="731.7" cy="154.0" r="3.3"/><circle cx="441.8" cy="200.6" r="3.3"/><circle cx="508.9" cy="163.5" r="3.3"/><circle cx="496.9" cy="164.9" r="3.3"/><circle cx="453.4" cy="167.2" r="3.3"/><circle cx="488.0" cy="138.5" r="3.3"/><circle cx="650.7" cy="203.9" r="3.3"/><circle cx="660.9" cy="211.0" r="3.3"/><circle cx="544.2" cy="162.7" r="3.3"/><circle cx="556.4" cy="156.2" r="3.3"/><circle cx="717.0" cy="172.6" r="3.3"/><circle cx="586.6" cy="262.3" r="3.3"/><circle cx="524.9" cy="295.9" r="3.3"/><circle cx="603.1" cy="205.0" r="3.3"/><circle cx="534.6" cy="203.1" r="3.3"/><circle cx="564.8" cy="370.1" r="3.3"/><circle cx="715.7" cy="134.8" r="3.3"/><circle cx="497.5" cy="182.5" r="3.3"/><circle cx="573.2" cy="219.6" r="3.3"/><circle cx="677.1" cy="213.8" r="3.3"/><circle cx="596.1" cy="220.6" r="3.3"/><circle cx="715.0" cy="163.5" r="3.3"/><circle cx="531.0" cy="195.9" r="3.3"/><circle cx="464.8" cy="235.6" r="3.3"/><circle cx="483.3" cy="214.5" r="3.3"/><circle cx="592.8" cy="168.9" r="3.3"/><circle cx="545.5" cy="266.7" r="3.3"/><circle cx="694.4" cy="195.4" r="3.3"/><circle cx="503.4" cy="206.4" r="3.3"/><circle cx="557.8" cy="235.9" r="3.3"/><circle cx="533.8" cy="224.3" r="3.3"/><circle cx="445.0" cy="167.9" r="3.3"/><circle cx="599.8" cy="221.1" r="3.3"/><circle cx="618.0" cy="186.8" r="3.3"/><circle cx="603.0" cy="139.1" r="3.3"/><circle cx="582.2" cy="187.2" r="3.3"/><circle cx="619.0" cy="202.3" r="3.3"/><circle cx="555.9" cy="229.7" r="3.3"/><circle cx="564.5" cy="201.0" r="3.3"/><circle cx="462.1" cy="150.1" r="3.3"/><circle cx="395.0" cy="169.4" r="3.3"/><circle cx="595.2" cy="232.6" r="3.3"/><circle cx="503.9" cy="180.2" r="3.3"/><circle cx="441.9" cy="194.1" r="3.3"/><circle cx="513.9" cy="179.4" r="3.3"/><circle cx="590.0" cy="166.8" r="3.3"/><circle cx="665.2" cy="228.5" r="3.3"/><circle cx="616.6" cy="154.2" r="3.3"/><circle cx="633.1" cy="223.6" r="3.3"/><circle cx="500.5" cy="208.0" r="3.3"/><circle cx="479.8" cy="142.0" r="3.3"/><circle cx="392.8" cy="129.4" r="3.3"/><circle cx="704.2" cy="151.9" r="3.3"/><circle cx="724.2" cy="173.0" r="3.3"/><circle cx="516.1" cy="229.7" r="3.3"/><circle cx="513.9" cy="184.1" r="3.3"/><circle cx="596.6" cy="251.2" r="3.3"/><circle cx="649.7" cy="150.8" r="3.3"/><circle cx="400.9" cy="203.3" r="3.3"/><circle cx="565.8" cy="221.3" r="3.3"/><circle cx="649.2" cy="174.0" r="3.3"/><circle cx="539.2" cy="325.0" r="3.3"/><circle cx="656.5" cy="172.6" r="3.3"/><circle cx="562.3" cy="174.3" r="3.3"/><circle cx="531.4" cy="213.3" r="3.3"/><circle cx="579.8" cy="202.7" r="3.3"/><circle cx="649.2" cy="158.2" r="3.3"/><circle cx="556.1" cy="183.8" r="3.3"/><circle cx="528.5" cy="237.7" r="3.3"/><circle cx="475.5" cy="173.8" r="3.3"/><circle cx="600.5" cy="229.9" r="3.3"/><circle cx="528.4" cy="206.8" r="3.3"/><circle cx="505.7" cy="224.9" r="3.3"/><circle cx="483.8" cy="165.7" r="3.3"/><circle cx="482.9" cy="235.2" r="3.3"/><circle cx="514.2" cy="155.9" r="3.3"/><circle cx="612.1" cy="206.7" r="3.3"/><circle cx="630.0" cy="284.3" r="3.3"/><circle cx="467.1" cy="152.9" r="3.3"/><circle cx="625.9" cy="155.1" r="3.3"/><circle cx="596.1" cy="168.6" r="3.3"/><circle cx="504.1" cy="137.9" r="3.3"/><circle cx="503.6" cy="213.2" r="3.3"/><circle cx="698.4" cy="169.7" r="3.3"/><circle cx="562.4" cy="175.4" r="3.3"/><circle cx="655.5" cy="204.2" r="3.3"/><circle cx="547.8" cy="199.1" r="3.3"/><circle cx="427.2" cy="162.8" r="3.3"/><circle cx="529.8" cy="169.4" r="3.3"/><circle cx="536.1" cy="179.5" r="3.3"/><circle cx="542.9" cy="245.3" r="3.3"/><circle cx="652.4" cy="337.2" r="3.3"/><circle cx="545.4" cy="185.4" r="3.3"/><circle cx="473.2" cy="196.2" r="3.3"/><circle cx="657.9" cy="208.1" r="3.3"/><circle cx="466.2" cy="165.2" r="3.3"/><circle cx="457.3" cy="198.3" r="3.3"/><circle cx="505.3" cy="189.5" r="3.3"/><circle cx="444.2" cy="228.4" r="3.3"/><circle cx="535.0" cy="162.9" r="3.3"/><circle cx="503.3" cy="150.8" r="3.3"/><circle cx="666.0" cy="137.5" r="3.3"/><circle cx="588.5" cy="191.2" r="3.3"/><circle cx="541.1" cy="191.3" r="3.3"/><circle cx="651.8" cy="159.7" r="3.3"/><circle cx="550.6" cy="236.0" r="3.3"/><circle cx="659.0" cy="207.8" r="3.3"/><circle cx="578.0" cy="218.4" r="3.3"/><circle cx="554.9" cy="215.2" r="3.3"/><circle cx="611.8" cy="219.9" r="3.3"/><circle cx="553.5" cy="231.8" r="3.3"/><circle cx="454.6" cy="179.1" r="3.3"/><circle cx="506.2" cy="170.0" r="3.3"/><circle cx="471.0" cy="154.2" r="3.3"/><circle cx="501.8" cy="177.7" r="3.3"/><circle cx="704.0" cy="169.1" r="3.3"/><circle cx="496.2" cy="284.5" r="3.3"/><circle cx="474.1" cy="227.5" r="3.3"/><circle cx="559.4" cy="201.5" r="3.3"/><circle cx="512.3" cy="148.1" r="3.3"/><circle cx="713.5" cy="143.0" r="3.3"/><circle cx="625.4" cy="170.1" r="3.3"/><circle cx="669.1" cy="149.5" r="3.3"/><circle cx="492.6" cy="181.0" r="3.3"/><circle cx="484.0" cy="207.4" r="3.3"/><circle cx="522.4" cy="137.5" r="3.3"/><circle cx="599.2" cy="170.4" r="3.3"/><circle cx="471.2" cy="238.5" r="3.3"/><circle cx="609.3" cy="197.1" r="3.3"/><circle cx="554.6" cy="200.5" r="3.3"/><circle cx="558.6" cy="206.4" r="3.3"/><circle cx="620.7" cy="215.5" r="3.3"/><circle cx="495.0" cy="167.3" r="3.3"/><circle cx="617.9" cy="217.7" r="3.3"/><circle cx="447.7" cy="145.4" r="3.3"/><circle cx="684.8" cy="198.3" r="3.3"/><circle cx="660.0" cy="210.7" r="3.3"/><circle cx="634.0" cy="176.9" r="3.3"/><circle cx="493.1" cy="219.8" r="3.3"/><circle cx="559.5" cy="160.0" r="3.3"/><circle cx="696.4" cy="200.7" r="3.3"/><circle cx="594.2" cy="196.4" r="3.3"/><circle cx="721.0" cy="160.8" r="3.3"/><circle cx="454.3" cy="156.7" r="3.3"/><circle cx="456.8" cy="211.2" r="3.3"/><circle cx="398.3" cy="177.0" r="3.3"/><circle cx="584.2" cy="176.9" r="3.3"/><circle cx="639.9" cy="164.5" r="3.3"/><circle cx="489.8" cy="198.2" r="3.3"/><circle cx="640.7" cy="141.6" r="3.3"/><circle cx="529.8" cy="186.0" r="3.3"/><circle cx="565.7" cy="146.7" r="3.3"/><circle cx="475.8" cy="232.1" r="3.3"/><circle cx="409.7" cy="169.9" r="3.3"/><circle cx="560.6" cy="148.9" r="3.3"/><circle cx="504.2" cy="195.1" r="3.3"/><circle cx="732.3" cy="146.1" r="3.3"/><circle cx="632.1" cy="203.1" r="3.3"/><circle cx="725.0" cy="182.5" r="3.3"/><circle cx="488.6" cy="196.8" r="3.3"/><circle cx="623.7" cy="240.1" r="3.3"/><circle cx="722.1" cy="168.0" r="3.3"/><circle cx="479.7" cy="220.2" r="3.3"/><circle cx="513.8" cy="186.7" r="3.3"/><circle cx="577.9" cy="219.2" r="3.3"/><circle cx="639.7" cy="175.5" r="3.3"/><circle cx="429.2" cy="197.8" r="3.3"/><circle cx="532.1" cy="249.4" r="3.3"/><circle cx="468.5" cy="168.6" r="3.3"/><circle cx="530.9" cy="196.6" r="3.3"/><circle cx="443.7" cy="173.9" r="3.3"/><circle cx="671.8" cy="150.1" r="3.3"/><circle cx="476.2" cy="174.1" r="3.3"/><circle cx="705.4" cy="158.0" r="3.3"/><circle cx="615.0" cy="245.2" r="3.3"/><circle cx="703.0" cy="180.4" r="3.3"/><circle cx="478.5" cy="154.2" r="3.3"/><circle cx="483.1" cy="156.7" r="3.3"/><circle cx="550.1" cy="176.5" r="3.3"/><circle cx="489.9" cy="200.1" r="3.3"/><circle cx="604.9" cy="172.1" r="3.3"/><circle cx="435.2" cy="150.8" r="3.3"/><circle cx="461.7" cy="197.2" r="3.3"/><circle cx="682.4" cy="164.8" r="3.3"/><circle cx="488.5" cy="188.2" r="3.3"/><circle cx="654.9" cy="216.6" r="3.3"/><circle cx="636.8" cy="261.7" r="3.3"/><circle cx="618.9" cy="219.7" r="3.3"/><circle cx="690.1" cy="187.1" r="3.3"/><circle cx="567.1" cy="209.8" r="3.3"/><circle cx="405.0" cy="181.2" r="3.3"/><circle cx="502.8" cy="154.7" r="3.3"/><circle cx="525.2" cy="202.5" r="3.3"/><circle cx="502.3" cy="166.4" r="3.3"/><circle cx="549.9" cy="167.9" r="3.3"/><circle cx="650.8" cy="170.7" r="3.3"/><circle cx="549.1" cy="198.2" r="3.3"/><circle cx="662.4" cy="228.3" r="3.3"/><circle cx="406.6" cy="149.8" r="3.3"/><circle cx="407.5" cy="169.5" r="3.3"/><circle cx="539.9" cy="167.3" r="3.3"/><circle cx="555.6" cy="234.9" r="3.3"/><circle cx="485.9" cy="166.8" r="3.3"/><circle cx="506.1" cy="191.2" r="3.3"/><circle cx="674.5" cy="169.7" r="3.3"/><circle cx="667.1" cy="188.0" r="3.3"/><circle cx="464.3" cy="147.6" r="3.3"/><circle cx="707.6" cy="175.2" r="3.3"/><circle cx="570.4" cy="221.4" r="3.3"/><circle cx="569.4" cy="176.2" r="3.3"/><circle cx="445.3" cy="259.8" r="3.3"/><circle cx="453.2" cy="197.9" r="3.3"/><circle cx="446.0" cy="153.9" r="3.3"/><circle cx="501.8" cy="178.0" r="3.3"/><circle cx="533.2" cy="157.3" r="3.3"/><circle cx="539.7" cy="187.4" r="3.3"/><circle cx="743.7" cy="127.3" r="3.3"/><circle cx="644.1" cy="208.8" r="3.3"/><circle cx="442.5" cy="257.9" r="3.3"/><circle cx="534.9" cy="266.6" r="3.3"/><circle cx="619.4" cy="166.0" r="3.3"/><circle cx="594.4" cy="196.0" r="3.3"/><circle cx="481.1" cy="197.9" r="3.3"/><circle cx="548.4" cy="198.6" r="3.3"/><circle cx="498.2" cy="197.5" r="3.3"/><circle cx="558.5" cy="149.9" r="3.3"/><circle cx="675.8" cy="176.7" r="3.3"/><circle cx="501.6" cy="201.5" r="3.3"/><circle cx="444.0" cy="181.8" r="3.3"/><circle cx="497.9" cy="292.9" r="3.3"/><circle cx="537.3" cy="205.6" r="3.3"/><circle cx="672.6" cy="180.6" r="3.3"/><circle cx="604.7" cy="210.4" r="3.3"/><circle cx="443.9" cy="141.0" r="3.3"/><circle cx="713.4" cy="169.3" r="3.3"/><circle cx="596.4" cy="207.3" r="3.3"/><circle cx="563.9" cy="233.0" r="3.3"/><circle cx="563.6" cy="189.1" r="3.3"/><circle cx="471.2" cy="210.6" r="3.3"/><circle cx="578.4" cy="189.5" r="3.3"/><circle cx="447.0" cy="148.7" r="3.3"/><circle cx="702.4" cy="158.6" r="3.3"/><circle cx="446.8" cy="252.9" r="3.3"/><circle cx="543.8" cy="200.6" r="3.3"/><circle cx="482.2" cy="202.6" r="3.3"/><circle cx="622.2" cy="139.8" r="3.3"/><circle cx="631.5" cy="239.4" r="3.3"/><circle cx="567.0" cy="205.0" r="3.3"/><circle cx="488.4" cy="175.3" r="3.3"/><circle cx="669.1" cy="215.6" r="3.3"/><circle cx="645.0" cy="208.1" r="3.3"/><circle cx="406.6" cy="124.1" r="3.3"/><circle cx="441.8" cy="168.6" r="3.3"/><circle cx="581.1" cy="208.2" r="3.3"/><circle cx="639.8" cy="163.7" r="3.3"/><circle cx="591.1" cy="222.0" r="3.3"/><circle cx="491.4" cy="153.0" r="3.3"/><circle cx="539.4" cy="223.2" r="3.3"/><circle cx="616.0" cy="237.6" r="3.3"/><circle cx="442.2" cy="174.4" r="3.3"/><circle cx="489.3" cy="155.3" r="3.3"/><circle cx="522.1" cy="204.9" r="3.3"/><circle cx="666.3" cy="194.6" r="3.3"/><circle cx="486.8" cy="187.3" r="3.3"/><circle cx="567.7" cy="230.4" r="3.3"/><circle cx="477.2" cy="298.2" r="3.3"/><circle cx="480.9" cy="189.1" r="3.3"/><circle cx="468.2" cy="214.8" r="3.3"/><circle cx="571.8" cy="310.1" r="3.3"/><circle cx="673.7" cy="239.2" r="3.3"/><circle cx="698.1" cy="140.1" r="3.3"/><circle cx="511.1" cy="214.7" r="3.3"/><circle cx="683.9" cy="179.0" r="3.3"/><circle cx="508.9" cy="169.0" r="3.3"/><circle cx="597.3" cy="221.9" r="3.3"/><circle cx="490.0" cy="172.4" r="3.3"/><circle cx="484.7" cy="138.5" r="3.3"/><circle cx="450.3" cy="206.3" r="3.3"/><circle cx="515.9" cy="215.9" r="3.3"/><circle cx="499.7" cy="148.6" r="3.3"/><circle cx="712.2" cy="152.7" r="3.3"/><circle cx="690.7" cy="158.3" r="3.3"/><circle cx="516.0" cy="186.8" r="3.3"/><circle cx="531.0" cy="139.5" r="3.3"/><circle cx="635.4" cy="162.6" r="3.3"/><circle cx="479.9" cy="288.5" r="3.3"/><circle cx="494.0" cy="216.3" r="3.3"/><circle cx="468.9" cy="218.8" r="3.3"/><circle cx="714.3" cy="207.0" r="3.3"/><circle cx="468.5" cy="180.1" r="3.3"/><circle cx="455.7" cy="173.4" r="3.3"/><circle cx="434.9" cy="190.3" r="3.3"/><circle cx="673.6" cy="150.1" r="3.3"/><circle cx="695.7" cy="167.0" r="3.3"/><circle cx="725.8" cy="189.6" r="3.3"/><circle cx="556.3" cy="191.9" r="3.3"/><circle cx="672.1" cy="135.8" r="3.3"/><circle cx="464.2" cy="156.9" r="3.3"/><circle cx="549.4" cy="224.6" r="3.3"/><circle cx="437.4" cy="272.1" r="3.3"/><circle cx="475.7" cy="172.9" r="3.3"/><circle cx="430.3" cy="188.6" r="3.3"/><circle cx="490.2" cy="342.7" r="3.3"/><circle cx="467.8" cy="207.8" r="3.3"/><circle cx="710.1" cy="127.1" r="3.3"/><circle cx="625.8" cy="150.7" r="3.3"/><circle cx="471.6" cy="198.7" r="3.3"/><circle cx="534.2" cy="201.3" r="3.3"/><circle cx="496.8" cy="200.1" r="3.3"/><circle cx="452.6" cy="137.1" r="3.3"/><circle cx="494.5" cy="184.6" r="3.3"/><circle cx="528.4" cy="202.3" r="3.3"/><circle cx="631.9" cy="172.9" r="3.3"/><circle cx="611.1" cy="194.9" r="3.3"/><circle cx="534.4" cy="197.5" r="3.3"/><circle cx="414.8" cy="172.1" r="3.3"/><circle cx="727.6" cy="144.2" r="3.3"/><circle cx="605.2" cy="271.5" r="3.3"/><circle cx="633.6" cy="252.9" r="3.3"/><circle cx="614.3" cy="191.4" r="3.3"/><circle cx="557.5" cy="183.8" r="3.3"/><circle cx="609.5" cy="222.6" r="3.3"/><circle cx="623.6" cy="218.5" r="3.3"/><circle cx="603.9" cy="241.4" r="3.3"/><circle cx="643.4" cy="157.1" r="3.3"/><circle cx="627.1" cy="181.1" r="3.3"/><circle cx="385.4" cy="210.6" r="3.3"/><circle cx="580.0" cy="193.3" r="3.3"/><circle cx="433.2" cy="166.5" r="3.3"/><circle cx="508.2" cy="212.6" r="3.3"/><circle cx="655.4" cy="203.6" r="3.3"/><circle cx="595.0" cy="169.0" r="3.3"/><circle cx="478.2" cy="158.8" r="3.3"/><circle cx="588.7" cy="156.3" r="3.3"/><circle cx="552.0" cy="153.4" r="3.3"/><circle cx="573.9" cy="162.5" r="3.3"/><circle cx="506.9" cy="195.0" r="3.3"/><circle cx="468.3" cy="154.8" r="3.3"/><circle cx="454.7" cy="144.5" r="3.3"/><circle cx="442.4" cy="236.1" r="3.3"/><circle cx="736.9" cy="148.5" r="3.3"/><circle cx="520.4" cy="180.8" r="3.3"/><circle cx="522.5" cy="144.1" r="3.3"/><circle cx="588.7" cy="195.2" r="3.3"/><circle cx="474.4" cy="196.1" r="3.3"/><circle cx="578.9" cy="226.1" r="3.3"/><circle cx="499.6" cy="239.1" r="3.3"/><circle cx="516.9" cy="234.1" r="3.3"/><circle cx="623.7" cy="141.0" r="3.3"/><circle cx="582.0" cy="158.9" r="3.3"/><circle cx="469.9" cy="178.8" r="3.3"/><circle cx="421.2" cy="191.8" r="3.3"/><circle cx="714.3" cy="222.6" r="3.3"/><circle cx="499.3" cy="268.4" r="3.3"/><circle cx="642.0" cy="252.9" r="3.3"/><circle cx="422.1" cy="204.6" r="3.3"/><circle cx="595.0" cy="203.3" r="3.3"/><circle cx="586.2" cy="155.7" r="3.3"/><circle cx="529.3" cy="244.9" r="3.3"/><circle cx="665.3" cy="140.6" r="3.3"/><circle cx="554.4" cy="213.3" r="3.3"/><circle cx="664.2" cy="205.0" r="3.3"/><circle cx="496.0" cy="194.9" r="3.3"/><circle cx="467.0" cy="188.6" r="3.3"/><circle cx="744.9" cy="172.5" r="3.3"/><circle cx="612.4" cy="172.0" r="3.3"/><circle cx="697.2" cy="120.1" r="3.3"/><circle cx="678.7" cy="155.1" r="3.3"/><circle cx="671.3" cy="141.8" r="3.3"/><circle cx="712.5" cy="125.7" r="3.3"/><circle cx="678.8" cy="130.9" r="3.3"/><circle cx="689.6" cy="129.6" r="3.3"/><circle cx="645.6" cy="146.0" r="3.3"/><circle cx="636.2" cy="155.5" r="3.3"/><circle cx="624.3" cy="121.2" r="3.3"/><circle cx="693.8" cy="118.5" r="3.3"/><circle cx="697.1" cy="125.8" r="3.3"/><circle cx="657.3" cy="151.2" r="3.3"/><circle cx="705.2" cy="125.3" r="3.3"/><circle cx="643.9" cy="128.9" r="3.3"/><circle cx="715.6" cy="140.4" r="3.3"/><circle cx="653.3" cy="151.5" r="3.3"/><circle cx="656.4" cy="122.3" r="3.3"/><circle cx="627.9" cy="124.6" r="3.3"/><circle cx="628.7" cy="140.8" r="3.3"/><circle cx="690.8" cy="153.6" r="3.3"/><circle cx="636.2" cy="138.1" r="3.3"/><circle cx="625.4" cy="128.9" r="3.3"/></g>
<g clip-path="url(#cl)" fill="none">
<path d="M174 158.7L786 50.8" stroke="#666" stroke-width="0.8"/>
<path d="M174 171.2L786 63.3" stroke="#3a3a3a" stroke-width="1.1"/>
<path d="M174 186.7L786 78.8" stroke="#111" stroke-width="1.5"/>
<path d="M174 209.7L786 101.8" stroke="#000" stroke-width="3.1"/>
<path d="M174 244.2L786 136.3" stroke="#111" stroke-width="1.5"/>
<path d="M174 303.7L786 195.8" stroke="#333" stroke-width="1.1"/>
<path d="M174 404.7L786 296.8" stroke="#555" stroke-width="0.8"/>
</g>
<path d="M187.7 520.1v7.3M471.2 520.1v7.3M729.9 520.1v7.3M144.6 61.5h-7.3M144.6 157h-7.3M144.6 252.4h-7.3M144.6 347.9h-7.3M144.6 443.4h-7.3" stroke="#000" stroke-width="1.67" fill="none"/>
<path d="M255.4 520.1v4.2M308 520.1v4.2M350.9 520.1v4.2M387.2 520.1v4.2M418.7 520.1v4.2M446.4 520.1v4.2M634.4 520.1v4.2M797.6 520.1v4.2M144.6 510.1h-4.2M144.6 493.3h-4.2M144.6 481.3h-4.2M144.6 472.1h-4.2M144.6 464.5h-4.2M144.6 458.1h-4.2M144.6 452.6h-4.2M144.6 447.7h-4.2M144.6 414.6h-4.2M144.6 397.8h-4.2M144.6 385.9h-4.2M144.6 376.6h-4.2M144.6 369.1h-4.2M144.6 362.7h-4.2M144.6 357.2h-4.2M144.6 352.3h-4.2M144.6 319.2h-4.2M144.6 302.4h-4.2M144.6 290.4h-4.2M144.6 281.2h-4.2M144.6 273.6h-4.2M144.6 267.2h-4.2M144.6 261.7h-4.2M144.6 256.8h-4.2M144.6 223.7h-4.2M144.6 206.9h-4.2M144.6 195h-4.2M144.6 185.7h-4.2M144.6 178.2h-4.2M144.6 171.8h-4.2M144.6 166.3h-4.2M144.6 161.4h-4.2M144.6 128.3h-4.2M144.6 111.5h-4.2M144.6 99.5h-4.2M144.6 90.3h-4.2M144.6 82.7h-4.2M144.6 76.3h-4.2M144.6 70.8h-4.2M144.6 65.9h-4.2M144.6 32.8h-4.2" stroke="#000" stroke-width="1.25" fill="none"/>
<rect x="144.6" y="28.1" width="671.5" height="492" fill="none" stroke="#000" stroke-width="1.67"/>
<text x="128.6" y="73.5" font-size="35.4" text-anchor="end">10<tspan dy="-13.5" font-size="24.2">1</tspan></text>
<text x="128.6" y="168.9" font-size="35.4" text-anchor="end">10<tspan dy="-13.5" font-size="24.2">0</tspan></text>
<text x="128.6" y="264.3" font-size="35.4" text-anchor="end">10<tspan dy="-13.5" font-size="24.2">−1</tspan></text>
<text x="128.6" y="359.8" font-size="35.4" text-anchor="end">10<tspan dy="-13.5" font-size="24.2">−2</tspan></text>
<text x="128.6" y="455.2" font-size="35.4" text-anchor="end">10<tspan dy="-13.5" font-size="24.2">−3</tspan></text>
<text x="186.7" y="559.8" font-size="35.4" text-anchor="middle">3<tspan dx="6">×</tspan><tspan dx="6">10</tspan><tspan dy="-13.5" font-size="24.2">−1</tspan></text>
<text x="470.6" y="559.8" font-size="35.4" text-anchor="middle">10<tspan dy="-13.5" font-size="24.2">0</tspan></text>
<text x="728.9" y="559.8" font-size="35.4" text-anchor="middle">3<tspan dx="6">×</tspan><tspan dx="6">10</tspan><tspan dy="-13.5" font-size="24.2">0</tspan></text>
<text x="253.5" y="606.4" font-size="35.4" text-anchor="start" letter-spacing="-0.2">Estimated error (10<tspan dy="-13.5" font-size="24.2">5</tspan><tspan dy="13.5" dx="7.2">USD)</tspan></text>
<text x="31.4" y="488.6" font-size="35.4" text-anchor="start" transform="rotate(-90 31.4 488.6)" letter-spacing="-0.22">Absolute error (10<tspan dy="-13.5" font-size="24.2">5</tspan><tspan dy="13.5" dx="7.2">USD)</tspan></text>
<rect x="424" y="339.2" width="374.4" height="163.7" rx="5" ry="5" fill="#fff" fill-opacity="0.8" stroke="#ccc" stroke-opacity="0.9" stroke-width="2.08"/>
<path d="M436.3 366.9H509" stroke="#000" stroke-width="3.1"/>
<circle cx="472.5" cy="421.4" r="3.3" fill="#1f77b4" fill-opacity="0.5"/>
<circle cx="472.5" cy="472.0" r="3.3" fill="#ff7f0e" fill-opacity="0.5"/>
<text x="536" y="379.9" font-size="35.4" text-anchor="start" letter-spacing="-0.28">y=x</text>
<text x="536" y="430.8" font-size="35.4" text-anchor="start" letter-spacing="-0.28">In domain</text>
<text x="536" y="481.4" font-size="35.4" text-anchor="start" letter-spacing="-0.28">Out of domain</text>
<g clip-path="url(#cr)">
<path d="M1086.4 497.3L1694.3 50" stroke="#000" stroke-width="3.1" fill="none" stroke-linecap="square"/>
<g fill="#1f77b4"><circle cx="1140.9" cy="497.6" r="10.65"/><circle cx="1157.4" cy="454.1" r="10.65"/><circle cx="1170.3" cy="446.3" r="10.65"/><circle cx="1181" cy="456.4" r="10.65"/><circle cx="1194.1" cy="462.1" r="10.65"/><circle cx="1207.8" cy="406.7" r="10.65"/><circle cx="1219.8" cy="298.3" r="10.65"/><circle cx="1230.5" cy="307.3" r="10.65"/><circle cx="1242.9" cy="342.1" r="10.65"/><circle cx="1255.3" cy="345.8" r="10.65"/><circle cx="1266.2" cy="400.2" r="10.65"/><circle cx="1278.4" cy="338.9" r="10.65"/><circle cx="1289.7" cy="353.8" r="10.65"/><circle cx="1301.8" cy="366.4" r="10.65"/><circle cx="1313.7" cy="385.2" r="10.65"/><circle cx="1324" cy="348.1" r="10.65"/><circle cx="1336.6" cy="319.2" r="10.65"/><circle cx="1348.7" cy="300.5" r="10.65"/><circle cx="1360.8" cy="334.6" r="10.65"/><circle cx="1375.2" cy="298.7" r="10.65"/><circle cx="1392.6" cy="309.7" r="10.65"/><circle cx="1417" cy="285.5" r="10.65"/><circle cx="1446.9" cy="274.7" r="10.65"/></g>
<g fill="#ff7f0e"><circle cx="1446.3" cy="297.1" r="10.65"/><circle cx="1497.7" cy="176.6" r="10.65"/><circle cx="1519.8" cy="160.9" r="10.65"/><circle cx="1536.4" cy="105.9" r="10.65"/><circle cx="1551.5" cy="118.7" r="10.65"/><circle cx="1563.4" cy="82" r="10.65"/><circle cx="1575.7" cy="91.3" r="10.65"/><circle cx="1589.2" cy="89.1" r="10.65"/><circle cx="1600.5" cy="70" r="10.65"/><circle cx="1612.7" cy="76.7" r="10.65"/><circle cx="1625.1" cy="84" r="10.65"/><circle cx="1639" cy="66.6" r="10.65"/><circle cx="1654.3" cy="59.8" r="10.65"/><circle cx="1672.7" cy="64.6" r="10.65"/><circle cx="1693.7" cy="74.7" r="10.65"/></g>
</g>
<path d="M1152.4 520.1v7.3M1503.7 520.1v7.3M1055.6 190.5h-7.3M1055.6 448.9h-7.3" stroke="#000" stroke-width="1.67" fill="none"/>
<path d="M1074.5 520.1v4.2M1098 520.1v4.2M1118.4 520.1v4.2M1136.3 520.1v4.2M1258.2 520.1v4.2M1320 520.1v4.2M1363.9 520.1v4.2M1397.9 520.1v4.2M1425.8 520.1v4.2M1449.3 520.1v4.2M1469.7 520.1v4.2M1487.6 520.1v4.2M1609.5 520.1v4.2M1671.3 520.1v4.2M1715.2 520.1v4.2M1055.6 506.2h-4.2M1055.6 488.9h-4.2M1055.6 473.9h-4.2M1055.6 460.7h-4.2M1055.6 371.1h-4.2M1055.6 325.6h-4.2M1055.6 293.3h-4.2M1055.6 268.3h-4.2M1055.6 247.8h-4.2M1055.6 230.5h-4.2M1055.6 215.5h-4.2M1055.6 202.3h-4.2M1055.6 112.7h-4.2M1055.6 67.2h-4.2M1055.6 34.9h-4.2" stroke="#000" stroke-width="1.25" fill="none"/>
<rect x="1055.6" y="28.1" width="668.3" height="492" fill="none" stroke="#000" stroke-width="1.67"/>
<text x="1039.6" y="202.4" font-size="35.4" text-anchor="end">10<tspan dy="-13.5" font-size="24.2">0</tspan></text>
<text x="1039.6" y="460.8" font-size="35.4" text-anchor="end">10<tspan dy="-13.5" font-size="24.2">−1</tspan></text>
<text x="1151.4" y="559.8" font-size="35.4" text-anchor="middle">10<tspan dy="-13.5" font-size="24.2">−1</tspan></text>
<text x="1502.9" y="559.8" font-size="35.4" text-anchor="middle">10<tspan dy="-13.5" font-size="24.2">0</tspan></text>
<text x="1115" y="606.4" font-size="35.4" text-anchor="start" letter-spacing="-0.28">Estimated variance (10<tspan dy="-13.5" font-size="24.2">10</tspan><tspan dy="13.5" dx="7.4">USD</tspan><tspan dy="-13.5" font-size="24.2">2</tspan><tspan dy="13.5" dx="0.9">)</tspan></text>
<text x="942.4" y="553" font-size="35.4" text-anchor="start" transform="rotate(-90 942.4 553)" letter-spacing="-0.2">Mean squared error (10<tspan dy="-13.5" font-size="24.2">10</tspan><tspan dy="13.5" dx="7.4">USD</tspan><tspan dy="-13.5" font-size="24.2">2</tspan><tspan dy="13.5" dx="1.2">)</tspan></text>
<rect x="1073.1" y="45.9" width="374.8" height="163.3" rx="5" ry="5" fill="#fff" fill-opacity="0.8" stroke="#ccc" stroke-opacity="0.9" stroke-width="2.08"/>
<path d="M1084.9 73.7H1157.9" stroke="#000" stroke-width="3.1"/>
<circle cx="1121.5" cy="124.9" r="10.65" fill="#1f77b4"/>
<circle cx="1121.5" cy="176.0" r="10.65" fill="#ff7f0e"/>
<text x="1184.7" y="86.5" font-size="35.4" text-anchor="start" letter-spacing="-0.28">y=x</text>
<text x="1184.7" y="137.4" font-size="35.4" text-anchor="start" letter-spacing="-0.28">In domain</text>
<text x="1184.7" y="188.3" font-size="35.4" text-anchor="start" letter-spacing="-0.28">Out of domain</text>
</svg>
</body></html>
